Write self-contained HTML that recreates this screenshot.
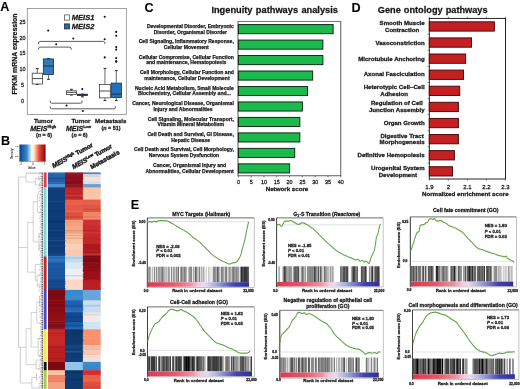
<!DOCTYPE html>
<html><head><meta charset="utf-8"><style>
html,body{margin:0;padding:0;background:#fff;}
#w{position:relative;width:520px;height:389px;overflow:hidden;background:#fff;font-family:'Liberation Sans', Arial, sans-serif;}
svg{position:absolute;left:0;top:0;}
svg text{font-family:'Liberation Sans', Arial, sans-serif;stroke:#222;stroke-width:0.26px;stroke-linejoin:round;}
.lc{-webkit-text-stroke:0.25px #222;position:absolute;right:286.20px;font-size:5.07px;line-height:5.85px;font-weight:bold;text-align:center;color:#111;white-space:nowrap;}
.ld{-webkit-text-stroke:0.27px #222;position:absolute;right:95.40px;font-size:6.1px;line-height:6.9px;font-weight:bold;text-align:center;color:#111;white-space:nowrap;}
</style></head><body><div id="w">
<svg width="520" height="389" viewBox="0 0 520 389">
<text x="0.20" y="11.40" font-size="12.6" font-weight="bold" font-style="normal" text-anchor="start" fill="#000" style="stroke-width:0.1px">A</text>
<text x="0.90" y="144.80" font-size="12.6" font-weight="bold" font-style="normal" text-anchor="start" fill="#000" style="stroke-width:0.1px">B</text>
<text x="144.50" y="11.80" font-size="12.6" font-weight="bold" font-style="normal" text-anchor="start" fill="#000" style="stroke-width:0.1px">C</text>
<text x="351.50" y="11.80" font-size="12.6" font-weight="bold" font-style="normal" text-anchor="start" fill="#000" style="stroke-width:0.1px">D</text>
<text x="130.70" y="208.60" font-size="12.6" font-weight="bold" font-style="normal" text-anchor="start" fill="#000" style="stroke-width:0.1px">E</text>
<rect x="27.30" y="8.40" width="99.00" height="106.10" fill="none" stroke="#8a8a8a" stroke-width="0.8" />
<text transform="translate(16.5,54.0) rotate(-90)" font-size="6.95" font-weight="bold" text-anchor="middle" fill="#111">FPKM mRNA expression</text>
<text x="22.60" y="102.74" font-size="5.4" font-weight="normal" font-style="normal" text-anchor="middle" fill="#222" >0</text>
<text x="22.60" y="86.94" font-size="5.4" font-weight="normal" font-style="normal" text-anchor="middle" fill="#222" >5</text>
<text x="22.60" y="71.14" font-size="5.4" font-weight="normal" font-style="normal" text-anchor="middle" fill="#222" >10</text>
<text x="22.60" y="55.34" font-size="5.4" font-weight="normal" font-style="normal" text-anchor="middle" fill="#222" >15</text>
<text x="22.60" y="39.54" font-size="5.4" font-weight="normal" font-style="normal" text-anchor="middle" fill="#222" >20</text>
<text x="22.60" y="23.74" font-size="5.4" font-weight="normal" font-style="normal" text-anchor="middle" fill="#222" >25</text>
<rect x="64.40" y="14.90" width="5.20" height="5.20" fill="#fff" stroke="#444" stroke-width="0.7" />
<rect x="64.50" y="23.90" width="5.00" height="5.00" fill="#2a68ac" stroke="#1a2a40" stroke-width="0.8" />
<text x="71.80" y="20.10" font-size="7.5" font-weight="bold" font-style="italic" text-anchor="start" fill="#111" >MEIS1</text>
<text x="71.80" y="29.40" font-size="7.5" font-weight="bold" font-style="italic" text-anchor="start" fill="#111" >MEIS2</text>
<line x1="37.30" y1="68.60" x2="37.30" y2="73.20" stroke="#444" stroke-width="0.8" />
<line x1="37.30" y1="84.00" x2="37.30" y2="84.40" stroke="#444" stroke-width="0.8" />
<line x1="35.90" y1="68.60" x2="38.70" y2="68.60" stroke="#222" stroke-width="1.0" />
<line x1="35.90" y1="84.40" x2="38.70" y2="84.40" stroke="#222" stroke-width="1.0" />
<rect x="32.20" y="73.20" width="10.20" height="10.80" fill="#fff" stroke="#333" stroke-width="0.75" />
<line x1="32.20" y1="78.60" x2="42.40" y2="78.60" stroke="#222" stroke-width="0.8" />
<line x1="48.45" y1="58.60" x2="48.45" y2="58.90" stroke="#444" stroke-width="0.8" />
<line x1="48.45" y1="74.50" x2="48.45" y2="79.30" stroke="#444" stroke-width="0.8" />
<line x1="47.05" y1="58.60" x2="49.85" y2="58.60" stroke="#222" stroke-width="1.0" />
<line x1="47.05" y1="79.30" x2="49.85" y2="79.30" stroke="#222" stroke-width="1.0" />
<rect x="43.30" y="58.90" width="10.30" height="15.60" fill="#3478bd" stroke="#0e2846" stroke-width="0.75" />
<line x1="43.30" y1="66.00" x2="53.60" y2="66.00" stroke="#222" stroke-width="0.8" />
<line x1="71.45" y1="89.30" x2="71.45" y2="90.80" stroke="#444" stroke-width="0.8" />
<line x1="71.45" y1="94.50" x2="71.45" y2="95.00" stroke="#444" stroke-width="0.8" />
<line x1="70.05" y1="89.30" x2="72.85" y2="89.30" stroke="#222" stroke-width="1.0" />
<line x1="70.05" y1="95.00" x2="72.85" y2="95.00" stroke="#222" stroke-width="1.0" />
<rect x="66.30" y="90.80" width="10.30" height="3.70" fill="#fff" stroke="#333" stroke-width="0.75" />
<line x1="66.30" y1="92.40" x2="76.60" y2="92.40" stroke="#222" stroke-width="0.8" />
<line x1="82.40" y1="94.20" x2="82.40" y2="94.20" stroke="#444" stroke-width="0.8" />
<line x1="82.40" y1="95.50" x2="82.40" y2="96.80" stroke="#444" stroke-width="0.8" />
<line x1="81.00" y1="94.20" x2="83.80" y2="94.20" stroke="#222" stroke-width="1.0" />
<line x1="81.00" y1="96.80" x2="83.80" y2="96.80" stroke="#222" stroke-width="1.0" />
<rect x="77.30" y="94.20" width="10.20" height="1.30" fill="#2270bf" stroke="#0e2846" stroke-width="0.75" />
<line x1="77.30" y1="94.80" x2="87.50" y2="94.80" stroke="#222" stroke-width="0.8" />
<line x1="104.95" y1="68.40" x2="104.95" y2="84.40" stroke="#444" stroke-width="0.8" />
<line x1="104.95" y1="97.90" x2="104.95" y2="100.60" stroke="#444" stroke-width="0.8" />
<line x1="103.55" y1="68.40" x2="106.35" y2="68.40" stroke="#222" stroke-width="1.0" />
<line x1="103.55" y1="100.60" x2="106.35" y2="100.60" stroke="#222" stroke-width="1.0" />
<rect x="99.60" y="84.40" width="10.70" height="13.50" fill="#fff" stroke="#333" stroke-width="0.75" />
<line x1="99.60" y1="91.00" x2="110.30" y2="91.00" stroke="#222" stroke-width="0.8" />
<line x1="116.30" y1="70.60" x2="116.30" y2="83.10" stroke="#444" stroke-width="0.8" />
<line x1="116.30" y1="97.60" x2="116.30" y2="100.60" stroke="#444" stroke-width="0.8" />
<line x1="114.90" y1="70.60" x2="117.70" y2="70.60" stroke="#222" stroke-width="1.0" />
<line x1="114.90" y1="100.60" x2="117.70" y2="100.60" stroke="#222" stroke-width="1.0" />
<rect x="111.20" y="83.10" width="10.20" height="14.50" fill="#2270bf" stroke="#0e2846" stroke-width="0.75" />
<line x1="111.20" y1="94.10" x2="121.40" y2="94.10" stroke="#222" stroke-width="0.8" />
<circle cx="104.70" cy="16.80" r="1.05" fill="#111"/>
<circle cx="104.70" cy="39.30" r="1.05" fill="#111"/>
<circle cx="104.70" cy="57.40" r="1.05" fill="#111"/>
<circle cx="116.20" cy="31.90" r="1.05" fill="#111"/>
<circle cx="116.20" cy="35.70" r="1.05" fill="#111"/>
<circle cx="116.20" cy="47.10" r="1.05" fill="#111"/>
<circle cx="116.20" cy="49.60" r="1.05" fill="#111"/>
<circle cx="116.20" cy="58.10" r="1.05" fill="#111"/>
<circle cx="116.20" cy="61.60" r="1.05" fill="#111"/>
<circle cx="116.20" cy="61.40" r="1.05" fill="#111"/>
<circle cx="48.20" cy="30.50" r="1.05" fill="#111"/>
<circle cx="82.30" cy="89.10" r="1.05" fill="#111"/>
<path d="M38.40,44.00 Q38.40,41.40 39.90,41.40 L103.50,41.40 Q105.00,41.40 105.00,44.00" fill="none" stroke="#333" stroke-width="0.8"/>
<path d="M38.40,49.70 Q38.40,47.10 39.90,47.10 L69.80,47.10 Q71.30,47.10 71.30,49.70" fill="none" stroke="#333" stroke-width="0.8"/>
<circle cx="73.30" cy="38.60" r="1.0" fill="#111"/>
<circle cx="56.20" cy="44.20" r="1.0" fill="#111"/>
<path d="M50.00,100.60 Q50.00,103.20 51.50,103.20 L80.70,103.20 Q82.20,103.20 82.20,100.60" fill="none" stroke="#333" stroke-width="0.8"/>
<path d="M50.00,106.40 Q50.00,108.80 51.50,108.80 L114.00,108.80 Q115.50,108.80 115.50,106.40" fill="none" stroke="#333" stroke-width="0.8"/>
<circle cx="66.60" cy="105.40" r="1.0" fill="#111"/>
<circle cx="82.80" cy="111.00" r="1.0" fill="#111"/>
<text x="43.40" y="122.55" font-size="6.25" font-weight="bold" font-style="normal" text-anchor="middle" fill="#111" >Tumor</text>
<text x="81.00" y="122.55" font-size="6.25" font-weight="bold" font-style="normal" text-anchor="middle" fill="#111" >Tumor</text>
<text x="110.80" y="122.51" font-size="6.15" font-weight="bold" font-style="normal" text-anchor="middle" fill="#111" >Metastasis</text>
<text x="43.3" y="130.50" font-size="7.0" font-weight="bold" font-style="italic" text-anchor="middle" fill="#111">MEIS<tspan font-size="4.0" font-style="normal" dy="-2.3">High</tspan></text>
<text x="78.6" y="130.50" font-size="7.0" font-weight="bold" font-style="italic" text-anchor="middle" fill="#111">MEIS<tspan font-size="4.0" font-style="normal" dy="-2.3">Low</tspan></text>
<text x="111.0" y="130.20" font-size="5.4" font-weight="bold" text-anchor="middle" fill="#111">(<tspan font-style="italic">n</tspan> = 51)</text>
<text x="44.0" y="136.70" font-size="5.4" font-weight="bold" text-anchor="middle" fill="#111">(<tspan font-style="italic">n</tspan> = 6)</text>
<text x="79.6" y="136.70" font-size="5.4" font-weight="bold" text-anchor="middle" fill="#111">(<tspan font-style="italic">n</tspan> = 6)</text>
<defs>
<linearGradient id="ck" x1="0" x2="1" y1="0" y2="0">
<stop offset="0" stop-color="#0a3a7c"/><stop offset="0.1" stop-color="#1a5eaa"/>
<stop offset="0.28" stop-color="#3a86c8"/><stop offset="0.38" stop-color="#9ccbe9"/>
<stop offset="0.46" stop-color="#eef4f6"/><stop offset="0.52" stop-color="#fbf2e2"/>
<stop offset="0.56" stop-color="#fde0c0"/><stop offset="0.63" stop-color="#f8a888"/>
<stop offset="0.74" stop-color="#e4503e"/><stop offset="0.86" stop-color="#c42626"/>
<stop offset="1" stop-color="#780a14"/></linearGradient>
<linearGradient id="rb" x1="0" x2="1" y1="0" y2="0">
<stop offset="0" stop-color="#da3a4e"/><stop offset="0.25" stop-color="#e05a6e"/>
<stop offset="0.42" stop-color="#ec90a4"/><stop offset="0.50" stop-color="#f4c8d6"/>
<stop offset="0.56" stop-color="#e6dcee"/><stop offset="0.66" stop-color="#b0b0dc"/>
<stop offset="0.76" stop-color="#7878c4"/><stop offset="0.85" stop-color="#4444a8"/>
<stop offset="1" stop-color="#2e2e98"/></linearGradient>
</defs>
<rect x="19.60" y="144.50" width="26.00" height="17.00" fill="url(#ck)" stroke="none" stroke-width="0" />
<line x1="19.60" y1="144.50" x2="19.60" y2="161.50" stroke="#555" stroke-width="0.4" />
<line x1="19.60" y1="161.50" x2="45.60" y2="161.50" stroke="#555" stroke-width="0.4" />

<text transform="translate(12.9,153.9) rotate(-90)" font-size="3.2" font-weight="normal" text-anchor="middle" fill="#555" style="stroke-width:0.1px">Density</text>
<text x="31.60" y="168.95" font-size="3.2" font-weight="normal" font-style="normal" text-anchor="middle" fill="#555" style="stroke-width:0.1px">Value</text>
<text x="20.80" y="164.94" font-size="2.6" font-weight="normal" font-style="normal" text-anchor="middle" fill="#666" style="stroke-width:0.05px">-1</text>
<text x="32.90" y="164.94" font-size="2.6" font-weight="normal" font-style="normal" text-anchor="middle" fill="#666" style="stroke-width:0.05px">0</text>
<text x="44.40" y="164.94" font-size="2.6" font-weight="normal" font-style="normal" text-anchor="middle" fill="#666" style="stroke-width:0.05px">1</text>
<text x="16.60" y="147.36" font-size="2.4" font-weight="normal" font-style="normal" text-anchor="middle" fill="#777" style="stroke-width:0.05px">1.0</text>
<text x="16.60" y="156.66" font-size="2.4" font-weight="normal" font-style="normal" text-anchor="middle" fill="#777" style="stroke-width:0.05px">0.0</text>
<text transform="translate(53.60,168.30) rotate(-29)" font-size="6.2" font-weight="bold" fill="#111" style="stroke-width:0.45px"><tspan font-style="italic" font-size="6.7">MEIS</tspan><tspan font-size="3.9" dy="-2.4">High</tspan><tspan dy="2.4"> Tumor</tspan></text>
<text transform="translate(73.60,169.30) rotate(-29)" font-size="6.2" font-weight="bold" fill="#111" style="stroke-width:0.45px"><tspan font-style="italic" font-size="6.7">MEIS</tspan><tspan font-size="3.9" dy="-2.4">Low</tspan><tspan dy="2.4"> Tumor</tspan></text>
<text transform="translate(91.80,169.20) rotate(-29)" font-size="6.3" font-weight="bold" fill="#111" style="stroke-width:0.45px">Metastasis</text>
<rect x="48.00" y="172.40" width="17.40" height="2.40" fill="#2c6db8" stroke="none" stroke-width="0" />
<rect x="65.00" y="172.40" width="18.30" height="2.40" fill="#8e1420" stroke="none" stroke-width="0" />
<rect x="82.90" y="172.40" width="17.80" height="2.40" fill="#4a7fc0" stroke="none" stroke-width="0" />
<rect x="48.00" y="174.20" width="17.40" height="10.50" fill="#1f5fa8" stroke="none" stroke-width="0" />
<rect x="65.00" y="174.20" width="18.30" height="10.50" fill="#8b0f1c" stroke="none" stroke-width="0" />
<rect x="82.90" y="174.20" width="17.80" height="10.50" fill="#ece4e6" stroke="none" stroke-width="0" />
<rect x="48.00" y="175.40" width="17.40" height="1.22" fill="#2764ab" stroke="none" stroke-width="0" />
<rect x="65.00" y="175.40" width="18.30" height="1.22" fill="#8b111d" stroke="none" stroke-width="0" />
<rect x="82.90" y="175.40" width="17.40" height="1.22" fill="#d2cbcd" stroke="none" stroke-width="0" />
<rect x="48.00" y="177.83" width="17.40" height="0.94" fill="#1b5596" stroke="none" stroke-width="0" />
<rect x="65.00" y="177.83" width="18.30" height="0.94" fill="#880e1b" stroke="none" stroke-width="0" />
<rect x="48.00" y="181.72" width="17.40" height="1.88" fill="#326caf" stroke="none" stroke-width="0" />
<rect x="65.00" y="181.72" width="18.30" height="1.88" fill="#7f0d19" stroke="none" stroke-width="0" />
<rect x="82.90" y="181.72" width="17.40" height="1.88" fill="#e1d9db" stroke="none" stroke-width="0" />
<rect x="48.00" y="184.10" width="17.40" height="3.90" fill="#4d8fd0" stroke="none" stroke-width="0" />
<rect x="65.00" y="184.10" width="18.30" height="3.90" fill="#8e1420" stroke="none" stroke-width="0" />
<rect x="82.90" y="184.10" width="17.80" height="3.90" fill="#6a9fd0" stroke="none" stroke-width="0" />
<rect x="82.90" y="185.30" width="17.40" height="1.08" fill="#6ba0d0" stroke="none" stroke-width="0" />
<rect x="48.00" y="187.40" width="17.40" height="6.70" fill="#0f3d7a" stroke="none" stroke-width="0" />
<rect x="65.00" y="187.40" width="18.30" height="6.70" fill="#c0282a" stroke="none" stroke-width="0" />
<rect x="82.90" y="187.40" width="17.80" height="6.70" fill="#fbc4a6" stroke="none" stroke-width="0" />
<rect x="48.00" y="188.60" width="17.40" height="0.96" fill="#19457f" stroke="none" stroke-width="0" />
<rect x="65.00" y="188.60" width="18.30" height="0.96" fill="#b72628" stroke="none" stroke-width="0" />
<rect x="82.90" y="190.70" width="17.40" height="1.20" fill="#fbc5a7" stroke="none" stroke-width="0" />
<rect x="48.00" y="193.50" width="17.40" height="6.70" fill="#0f3d7a" stroke="none" stroke-width="0" />
<rect x="65.00" y="193.50" width="18.30" height="6.70" fill="#b82326" stroke="none" stroke-width="0" />
<rect x="82.90" y="193.50" width="17.80" height="6.70" fill="#fcc8aa" stroke="none" stroke-width="0" />
<rect x="65.00" y="194.70" width="18.30" height="1.78" fill="#c03c3f" stroke="none" stroke-width="0" />
<rect x="82.90" y="194.70" width="17.40" height="1.78" fill="#f7c4a6" stroke="none" stroke-width="0" />
<rect x="65.00" y="197.98" width="18.30" height="1.05" fill="#ba2b2e" stroke="none" stroke-width="0" />
<rect x="48.00" y="199.60" width="17.40" height="6.00" fill="#0e3c78" stroke="none" stroke-width="0" />
<rect x="65.00" y="199.60" width="18.30" height="6.00" fill="#e8604a" stroke="none" stroke-width="0" />
<rect x="82.90" y="199.60" width="17.80" height="6.00" fill="#e4604a" stroke="none" stroke-width="0" />
<rect x="48.00" y="200.80" width="17.40" height="1.78" fill="#19457e" stroke="none" stroke-width="0" />
<rect x="48.00" y="205.00" width="17.40" height="7.60" fill="#0e3c78" stroke="none" stroke-width="0" />
<rect x="65.00" y="205.00" width="18.30" height="7.60" fill="#e35a46" stroke="none" stroke-width="0" />
<rect x="82.90" y="205.00" width="17.80" height="7.60" fill="#de5844" stroke="none" stroke-width="0" />
<rect x="65.00" y="208.74" width="18.30" height="1.29" fill="#e05945" stroke="none" stroke-width="0" />
<rect x="82.90" y="208.74" width="17.40" height="1.29" fill="#c94f3d" stroke="none" stroke-width="0" />
<rect x="48.00" y="210.70" width="17.40" height="1.30" fill="#0d3870" stroke="none" stroke-width="0" />
<rect x="65.00" y="210.70" width="18.30" height="1.30" fill="#e56856" stroke="none" stroke-width="0" />
<rect x="82.90" y="210.70" width="17.40" height="1.30" fill="#db5643" stroke="none" stroke-width="0" />
<rect x="48.00" y="212.00" width="17.40" height="8.30" fill="#0e3c78" stroke="none" stroke-width="0" />
<rect x="65.00" y="212.00" width="18.30" height="8.30" fill="#e0503c" stroke="none" stroke-width="0" />
<rect x="82.90" y="212.00" width="17.80" height="8.30" fill="#f08a6a" stroke="none" stroke-width="0" />
<rect x="82.90" y="213.20" width="17.40" height="1.78" fill="#eb8767" stroke="none" stroke-width="0" />
<rect x="65.00" y="216.01" width="18.30" height="1.78" fill="#ce4937" stroke="none" stroke-width="0" />
<rect x="82.90" y="216.01" width="17.40" height="1.78" fill="#e08163" stroke="none" stroke-width="0" />
<rect x="48.00" y="219.70" width="17.40" height="6.90" fill="#0e3c78" stroke="none" stroke-width="0" />
<rect x="65.00" y="219.70" width="18.30" height="6.90" fill="#f6a080" stroke="none" stroke-width="0" />
<rect x="82.90" y="219.70" width="17.80" height="6.90" fill="#d03030" stroke="none" stroke-width="0" />
<rect x="48.00" y="220.90" width="17.40" height="1.49" fill="#0c3469" stroke="none" stroke-width="0" />
<rect x="65.00" y="220.90" width="18.30" height="1.49" fill="#ee9a7b" stroke="none" stroke-width="0" />
<rect x="48.00" y="226.00" width="17.40" height="8.40" fill="#0e3c78" stroke="none" stroke-width="0" />
<rect x="65.00" y="226.00" width="18.30" height="8.40" fill="#f8a888" stroke="none" stroke-width="0" />
<rect x="82.90" y="226.00" width="17.80" height="8.40" fill="#cc2c2e" stroke="none" stroke-width="0" />
<rect x="48.00" y="230.07" width="17.40" height="1.30" fill="#15427c" stroke="none" stroke-width="0" />
<rect x="65.00" y="230.07" width="18.30" height="1.30" fill="#de9679" stroke="none" stroke-width="0" />
<rect x="82.90" y="230.07" width="17.40" height="1.30" fill="#bb282a" stroke="none" stroke-width="0" />
<rect x="48.00" y="232.38" width="17.40" height="0.95" fill="#0c366d" stroke="none" stroke-width="0" />
<rect x="65.00" y="232.38" width="18.30" height="0.95" fill="#efa283" stroke="none" stroke-width="0" />
<rect x="82.90" y="232.38" width="17.40" height="0.95" fill="#d03e40" stroke="none" stroke-width="0" />
<rect x="48.00" y="233.80" width="17.40" height="5.80" fill="#0e3c78" stroke="none" stroke-width="0" />
<rect x="65.00" y="233.80" width="18.30" height="5.80" fill="#fcbc9c" stroke="none" stroke-width="0" />
<rect x="82.90" y="233.80" width="17.80" height="5.80" fill="#c82828" stroke="none" stroke-width="0" />
<rect x="48.00" y="235.00" width="17.40" height="1.05" fill="#0d3973" stroke="none" stroke-width="0" />
<rect x="65.00" y="235.00" width="18.30" height="1.05" fill="#e5aa8d" stroke="none" stroke-width="0" />
<rect x="65.00" y="237.84" width="18.30" height="1.16" fill="#e3aa8d" stroke="none" stroke-width="0" />
<rect x="82.90" y="237.84" width="17.40" height="1.16" fill="#bc2525" stroke="none" stroke-width="0" />
<rect x="48.00" y="239.00" width="17.40" height="5.60" fill="#0e3c78" stroke="none" stroke-width="0" />
<rect x="65.00" y="239.00" width="18.30" height="5.60" fill="#fcc4a6" stroke="none" stroke-width="0" />
<rect x="82.90" y="239.00" width="17.80" height="5.60" fill="#c42628" stroke="none" stroke-width="0" />
<rect x="48.00" y="240.20" width="17.40" height="1.06" fill="#285186" stroke="none" stroke-width="0" />
<rect x="82.90" y="240.20" width="17.40" height="1.06" fill="#c4282a" stroke="none" stroke-width="0" />
<rect x="48.00" y="244.00" width="17.40" height="6.60" fill="#0e3c78" stroke="none" stroke-width="0" />
<rect x="65.00" y="244.00" width="18.30" height="6.60" fill="#fcd0b8" stroke="none" stroke-width="0" />
<rect x="82.90" y="244.00" width="17.80" height="6.60" fill="#b01820" stroke="none" stroke-width="0" />
<rect x="48.00" y="245.20" width="17.40" height="1.27" fill="#1d4880" stroke="none" stroke-width="0" />
<rect x="48.00" y="250.00" width="17.40" height="6.40" fill="#103e7c" stroke="none" stroke-width="0" />
<rect x="65.00" y="250.00" width="18.30" height="6.40" fill="#fcc8b0" stroke="none" stroke-width="0" />
<rect x="82.90" y="250.00" width="17.80" height="6.40" fill="#b82025" stroke="none" stroke-width="0" />
<rect x="65.00" y="251.20" width="18.30" height="1.72" fill="#fcc8b0" stroke="none" stroke-width="0" />
<rect x="82.90" y="251.20" width="17.40" height="1.72" fill="#a31c20" stroke="none" stroke-width="0" />
<rect x="48.00" y="253.55" width="17.40" height="1.18" fill="#1b4682" stroke="none" stroke-width="0" />
<rect x="82.90" y="253.55" width="17.40" height="1.18" fill="#bf373b" stroke="none" stroke-width="0" />
<rect x="48.00" y="255.80" width="17.40" height="7.00" fill="#2a72c0" stroke="none" stroke-width="0" />
<rect x="65.00" y="255.80" width="18.30" height="7.00" fill="#c0dcf0" stroke="none" stroke-width="0" />
<rect x="82.90" y="255.80" width="17.80" height="7.00" fill="#7c0a12" stroke="none" stroke-width="0" />
<rect x="48.00" y="257.00" width="17.40" height="1.86" fill="#276ab3" stroke="none" stroke-width="0" />
<rect x="65.00" y="257.00" width="18.30" height="1.86" fill="#b2cbde" stroke="none" stroke-width="0" />
<rect x="82.90" y="257.00" width="17.40" height="1.86" fill="#7f1119" stroke="none" stroke-width="0" />
<rect x="48.00" y="262.20" width="17.40" height="7.00" fill="#1a5aa8" stroke="none" stroke-width="0" />
<rect x="65.00" y="262.20" width="18.30" height="7.00" fill="#d8e8f4" stroke="none" stroke-width="0" />
<rect x="82.90" y="262.20" width="17.80" height="7.00" fill="#8a0c15" stroke="none" stroke-width="0" />
<rect x="65.00" y="266.13" width="18.30" height="1.08" fill="#dae9f4" stroke="none" stroke-width="0" />
<rect x="48.00" y="268.60" width="17.40" height="11.60" fill="#1a56a0" stroke="none" stroke-width="0" />
<rect x="65.00" y="268.60" width="18.30" height="11.60" fill="#eeeef4" stroke="none" stroke-width="0" />
<rect x="82.90" y="268.60" width="17.80" height="11.60" fill="#9a1018" stroke="none" stroke-width="0" />
<rect x="82.90" y="269.80" width="17.40" height="1.30" fill="#8c0e15" stroke="none" stroke-width="0" />
<rect x="65.00" y="271.88" width="18.30" height="1.80" fill="#efeff4" stroke="none" stroke-width="0" />
<rect x="65.00" y="275.08" width="18.30" height="1.25" fill="#d2d2d7" stroke="none" stroke-width="0" />
<rect x="65.00" y="277.71" width="18.30" height="1.43" fill="#efeff4" stroke="none" stroke-width="0" />
<rect x="48.00" y="279.60" width="17.40" height="10.90" fill="#164a90" stroke="none" stroke-width="0" />
<rect x="65.00" y="279.60" width="18.30" height="10.90" fill="#fcd8c8" stroke="none" stroke-width="0" />
<rect x="82.90" y="279.60" width="17.80" height="10.90" fill="#b82025" stroke="none" stroke-width="0" />
<rect x="48.00" y="280.80" width="17.40" height="1.15" fill="#144587" stroke="none" stroke-width="0" />
<rect x="82.90" y="280.80" width="17.40" height="1.15" fill="#b41f24" stroke="none" stroke-width="0" />
<rect x="48.00" y="282.71" width="17.40" height="1.81" fill="#15498e" stroke="none" stroke-width="0" />
<rect x="48.00" y="288.06" width="17.40" height="1.34" fill="#13417e" stroke="none" stroke-width="0" />
<rect x="82.90" y="288.06" width="17.40" height="1.34" fill="#b61f24" stroke="none" stroke-width="0" />
<rect x="48.00" y="289.90" width="17.40" height="11.00" fill="#7e0a12" stroke="none" stroke-width="0" />
<rect x="65.00" y="289.90" width="18.30" height="11.00" fill="#3a8ad0" stroke="none" stroke-width="0" />
<rect x="82.90" y="289.90" width="17.80" height="11.00" fill="#6aa4d8" stroke="none" stroke-width="0" />
<rect x="48.00" y="291.10" width="17.40" height="1.46" fill="#7e0b13" stroke="none" stroke-width="0" />
<rect x="48.00" y="293.28" width="17.40" height="1.46" fill="#770911" stroke="none" stroke-width="0" />
<rect x="65.00" y="296.02" width="18.30" height="1.66" fill="#3f8dd1" stroke="none" stroke-width="0" />
<rect x="48.00" y="300.30" width="17.40" height="12.80" fill="#880c14" stroke="none" stroke-width="0" />
<rect x="65.00" y="300.30" width="18.30" height="12.80" fill="#2060b0" stroke="none" stroke-width="0" />
<rect x="82.90" y="300.30" width="17.80" height="12.80" fill="#c8ddf0" stroke="none" stroke-width="0" />
<rect x="82.90" y="301.50" width="17.40" height="1.60" fill="#c8ddf0" stroke="none" stroke-width="0" />
<rect x="48.00" y="304.83" width="17.40" height="1.74" fill="#7b0a12" stroke="none" stroke-width="0" />
<rect x="65.00" y="304.83" width="18.30" height="1.74" fill="#1c569d" stroke="none" stroke-width="0" />
<rect x="82.90" y="304.83" width="17.40" height="1.74" fill="#b3c6d7" stroke="none" stroke-width="0" />
<rect x="65.00" y="307.97" width="18.30" height="1.68" fill="#2b68b4" stroke="none" stroke-width="0" />
<rect x="65.00" y="310.43" width="18.30" height="1.78" fill="#3871b8" stroke="none" stroke-width="0" />
<rect x="82.90" y="310.43" width="17.40" height="1.78" fill="#c7dcef" stroke="none" stroke-width="0" />
<rect x="48.00" y="312.50" width="17.40" height="10.10" fill="#900e16" stroke="none" stroke-width="0" />
<rect x="65.00" y="312.50" width="18.30" height="10.10" fill="#124890" stroke="none" stroke-width="0" />
<rect x="82.90" y="312.50" width="17.80" height="10.10" fill="#f0eae8" stroke="none" stroke-width="0" />
<rect x="48.00" y="313.70" width="17.40" height="1.73" fill="#8d0d15" stroke="none" stroke-width="0" />
<rect x="82.90" y="313.70" width="17.40" height="1.73" fill="#ded8d7" stroke="none" stroke-width="0" />
<rect x="48.00" y="316.41" width="17.40" height="1.62" fill="#911119" stroke="none" stroke-width="0" />
<rect x="65.00" y="316.41" width="18.30" height="1.62" fill="#0f3f7f" stroke="none" stroke-width="0" />
<rect x="82.90" y="316.41" width="17.40" height="1.62" fill="#f0eae8" stroke="none" stroke-width="0" />
<rect x="48.00" y="320.94" width="17.40" height="1.06" fill="#971e25" stroke="none" stroke-width="0" />
<rect x="65.00" y="320.94" width="18.30" height="1.06" fill="#104183" stroke="none" stroke-width="0" />
<rect x="82.90" y="320.94" width="17.40" height="1.06" fill="#f1ecea" stroke="none" stroke-width="0" />
<rect x="48.00" y="322.00" width="17.40" height="7.90" fill="#7e0a12" stroke="none" stroke-width="0" />
<rect x="65.00" y="322.00" width="18.30" height="7.90" fill="#1a58a8" stroke="none" stroke-width="0" />
<rect x="82.90" y="322.00" width="17.80" height="7.90" fill="#d0e4f4" stroke="none" stroke-width="0" />
<rect x="48.00" y="323.20" width="17.40" height="1.16" fill="#8a2229" stroke="none" stroke-width="0" />
<rect x="65.00" y="325.07" width="18.30" height="0.96" fill="#174e96" stroke="none" stroke-width="0" />
<rect x="48.00" y="327.38" width="17.40" height="1.70" fill="#891e26" stroke="none" stroke-width="0" />
<rect x="65.00" y="327.38" width="18.30" height="1.70" fill="#2d66af" stroke="none" stroke-width="0" />
<rect x="48.00" y="329.30" width="17.40" height="16.50" fill="#c82828" stroke="none" stroke-width="0" />
<rect x="65.00" y="329.30" width="18.30" height="16.50" fill="#0e3a70" stroke="none" stroke-width="0" />
<rect x="82.90" y="329.30" width="17.80" height="16.50" fill="#f8906e" stroke="none" stroke-width="0" />
<rect x="65.00" y="330.50" width="18.30" height="1.45" fill="#0c3466" stroke="none" stroke-width="0" />
<rect x="48.00" y="332.84" width="17.40" height="1.01" fill="#b22323" stroke="none" stroke-width="0" />
<rect x="65.00" y="332.84" width="18.30" height="1.01" fill="#0d376a" stroke="none" stroke-width="0" />
<rect x="82.90" y="332.84" width="17.40" height="1.01" fill="#f89677" stroke="none" stroke-width="0" />
<rect x="48.00" y="334.80" width="17.40" height="1.40" fill="#c02626" stroke="none" stroke-width="0" />
<rect x="65.00" y="334.80" width="18.30" height="1.40" fill="#0d3669" stroke="none" stroke-width="0" />
<rect x="82.90" y="334.80" width="17.40" height="1.40" fill="#f89676" stroke="none" stroke-width="0" />
<rect x="82.90" y="337.46" width="17.40" height="1.09" fill="#f89879" stroke="none" stroke-width="0" />
<rect x="65.00" y="339.67" width="18.30" height="1.40" fill="#0e3a70" stroke="none" stroke-width="0" />
<rect x="48.00" y="345.20" width="17.40" height="10.40" fill="#b82022" stroke="none" stroke-width="0" />
<rect x="65.00" y="345.20" width="18.30" height="10.40" fill="#103e78" stroke="none" stroke-width="0" />
<rect x="82.90" y="345.20" width="17.80" height="10.40" fill="#fcc8b0" stroke="none" stroke-width="0" />
<rect x="48.00" y="346.40" width="17.40" height="1.25" fill="#a71d1e" stroke="none" stroke-width="0" />
<rect x="65.00" y="346.40" width="18.30" height="1.25" fill="#1d497f" stroke="none" stroke-width="0" />
<rect x="82.90" y="346.40" width="17.40" height="1.25" fill="#e7b7a1" stroke="none" stroke-width="0" />
<rect x="82.90" y="348.35" width="17.40" height="1.74" fill="#ecbba5" stroke="none" stroke-width="0" />
<rect x="48.00" y="351.04" width="17.40" height="1.36" fill="#b51f21" stroke="none" stroke-width="0" />
<rect x="65.00" y="351.04" width="18.30" height="1.36" fill="#2a5386" stroke="none" stroke-width="0" />
<rect x="65.00" y="353.66" width="18.30" height="1.14" fill="#0f3b73" stroke="none" stroke-width="0" />
<rect x="82.90" y="353.66" width="17.40" height="1.14" fill="#f4c2aa" stroke="none" stroke-width="0" />
<rect x="48.00" y="355.00" width="17.40" height="7.60" fill="#b82022" stroke="none" stroke-width="0" />
<rect x="65.00" y="355.00" width="18.30" height="7.60" fill="#103e78" stroke="none" stroke-width="0" />
<rect x="82.90" y="355.00" width="17.80" height="7.60" fill="#f0e0e0" stroke="none" stroke-width="0" />
<rect x="48.00" y="356.20" width="17.40" height="1.40" fill="#b82022" stroke="none" stroke-width="0" />
<rect x="65.00" y="356.20" width="18.30" height="1.40" fill="#0f3a71" stroke="none" stroke-width="0" />
<rect x="82.90" y="356.20" width="17.40" height="1.40" fill="#eadada" stroke="none" stroke-width="0" />
<rect x="48.00" y="358.25" width="17.40" height="0.92" fill="#ac1d1f" stroke="none" stroke-width="0" />
<rect x="82.90" y="360.68" width="17.40" height="1.32" fill="#e5d6d6" stroke="none" stroke-width="0" />
<rect x="48.00" y="362.00" width="17.40" height="8.80" fill="#7a0a10" stroke="none" stroke-width="0" />
<rect x="65.00" y="362.00" width="18.30" height="8.80" fill="#90c4e8" stroke="none" stroke-width="0" />
<rect x="82.90" y="362.00" width="17.80" height="8.80" fill="#3a88cc" stroke="none" stroke-width="0" />
<rect x="82.90" y="363.20" width="17.40" height="1.05" fill="#4991d0" stroke="none" stroke-width="0" />
<rect x="82.90" y="365.92" width="17.40" height="1.53" fill="#3b88cc" stroke="none" stroke-width="0" />
<rect x="48.00" y="370.20" width="17.40" height="5.40" fill="#fcc0a0" stroke="none" stroke-width="0" />
<rect x="65.00" y="370.20" width="18.30" height="5.40" fill="#0e3a70" stroke="none" stroke-width="0" />
<rect x="82.90" y="370.20" width="17.80" height="5.40" fill="#d83030" stroke="none" stroke-width="0" />
<rect x="65.00" y="371.40" width="18.30" height="1.58" fill="#0c3363" stroke="none" stroke-width="0" />
<rect x="82.90" y="371.40" width="17.40" height="1.58" fill="#d02e2e" stroke="none" stroke-width="0" />
<rect x="48.00" y="375.00" width="17.40" height="7.60" fill="#f08060" stroke="none" stroke-width="0" />
<rect x="65.00" y="375.00" width="18.30" height="7.60" fill="#0e3a70" stroke="none" stroke-width="0" />
<rect x="82.90" y="375.00" width="17.80" height="7.60" fill="#e86048" stroke="none" stroke-width="0" />
<rect x="48.00" y="376.20" width="17.40" height="1.39" fill="#f1896b" stroke="none" stroke-width="0" />
<rect x="48.00" y="378.83" width="17.40" height="1.56" fill="#f08769" stroke="none" stroke-width="0" />
<rect x="65.00" y="378.83" width="18.30" height="1.56" fill="#0c3464" stroke="none" stroke-width="0" />
<rect x="82.90" y="378.83" width="17.40" height="1.56" fill="#e96852" stroke="none" stroke-width="0" />
<rect x="48.00" y="382.00" width="17.40" height="8.10" fill="#f4a080" stroke="none" stroke-width="0" />
<rect x="65.00" y="382.00" width="18.30" height="8.10" fill="#0e3a70" stroke="none" stroke-width="0" />
<rect x="82.90" y="382.00" width="17.80" height="8.10" fill="#e05040" stroke="none" stroke-width="0" />
<rect x="82.90" y="383.20" width="17.40" height="1.64" fill="#de4f3f" stroke="none" stroke-width="0" />
<rect x="82.90" y="386.26" width="17.40" height="1.67" fill="#cd493a" stroke="none" stroke-width="0" />
<rect x="43.70" y="172.40" width="2.90" height="15.10" fill="#e83a4a" stroke="none" stroke-width="0" />
<rect x="43.70" y="187.00" width="2.90" height="70.00" fill="#7fd8d8" stroke="none" stroke-width="0" />
<rect x="43.70" y="256.50" width="2.90" height="34.00" fill="#c0282c" stroke="none" stroke-width="0" />
<rect x="43.70" y="290.00" width="2.90" height="39.80" fill="#4c48cc" stroke="none" stroke-width="0" />
<rect x="43.70" y="329.30" width="2.90" height="33.20" fill="#f4e84a" stroke="none" stroke-width="0" />
<rect x="43.70" y="362.00" width="2.90" height="8.70" fill="#111111" stroke="none" stroke-width="0" />
<rect x="43.70" y="370.20" width="2.90" height="19.80" fill="#a8cc48" stroke="none" stroke-width="0" />
<rect x="41.40" y="172.40" width="2.00" height="217.00" fill="#e4e4e4" stroke="none" stroke-width="0" />
<line x1="42.3" y1="172.4" x2="42.3" y2="389" stroke="#5a5a5a" stroke-width="1.3" stroke-dasharray="1.1 0.7"/>
<line x1="40.60" y1="173.00" x2="43.40" y2="174.00" stroke="#777" stroke-width="0.4" />
<line x1="40.60" y1="176.60" x2="43.40" y2="177.60" stroke="#777" stroke-width="0.4" />
<line x1="40.60" y1="180.20" x2="43.40" y2="181.20" stroke="#777" stroke-width="0.4" />
<line x1="40.60" y1="183.80" x2="43.40" y2="184.80" stroke="#777" stroke-width="0.4" />
<line x1="40.60" y1="187.40" x2="43.40" y2="188.40" stroke="#777" stroke-width="0.4" />
<line x1="40.60" y1="191.00" x2="43.40" y2="192.00" stroke="#777" stroke-width="0.4" />
<line x1="40.60" y1="194.60" x2="43.40" y2="195.60" stroke="#777" stroke-width="0.4" />
<line x1="40.60" y1="198.20" x2="43.40" y2="199.20" stroke="#777" stroke-width="0.4" />
<line x1="40.60" y1="201.80" x2="43.40" y2="202.80" stroke="#777" stroke-width="0.4" />
<line x1="40.60" y1="205.40" x2="43.40" y2="206.40" stroke="#777" stroke-width="0.4" />
<line x1="40.60" y1="209.00" x2="43.40" y2="210.00" stroke="#777" stroke-width="0.4" />
<line x1="40.60" y1="212.60" x2="43.40" y2="213.60" stroke="#777" stroke-width="0.4" />
<line x1="40.60" y1="216.20" x2="43.40" y2="217.20" stroke="#777" stroke-width="0.4" />
<line x1="40.60" y1="219.80" x2="43.40" y2="220.80" stroke="#777" stroke-width="0.4" />
<line x1="40.60" y1="223.40" x2="43.40" y2="224.40" stroke="#777" stroke-width="0.4" />
<line x1="40.60" y1="227.00" x2="43.40" y2="228.00" stroke="#777" stroke-width="0.4" />
<line x1="40.60" y1="230.60" x2="43.40" y2="231.60" stroke="#777" stroke-width="0.4" />
<line x1="40.60" y1="234.20" x2="43.40" y2="235.20" stroke="#777" stroke-width="0.4" />
<line x1="40.60" y1="237.80" x2="43.40" y2="238.80" stroke="#777" stroke-width="0.4" />
<line x1="40.60" y1="241.40" x2="43.40" y2="242.40" stroke="#777" stroke-width="0.4" />
<line x1="40.60" y1="245.00" x2="43.40" y2="246.00" stroke="#777" stroke-width="0.4" />
<line x1="40.60" y1="248.60" x2="43.40" y2="249.60" stroke="#777" stroke-width="0.4" />
<line x1="40.60" y1="252.20" x2="43.40" y2="253.20" stroke="#777" stroke-width="0.4" />
<line x1="40.60" y1="255.80" x2="43.40" y2="256.80" stroke="#777" stroke-width="0.4" />
<line x1="40.60" y1="259.40" x2="43.40" y2="260.40" stroke="#777" stroke-width="0.4" />
<line x1="40.60" y1="263.00" x2="43.40" y2="264.00" stroke="#777" stroke-width="0.4" />
<line x1="40.60" y1="266.60" x2="43.40" y2="267.60" stroke="#777" stroke-width="0.4" />
<line x1="40.60" y1="270.20" x2="43.40" y2="271.20" stroke="#777" stroke-width="0.4" />
<line x1="40.60" y1="273.80" x2="43.40" y2="274.80" stroke="#777" stroke-width="0.4" />
<line x1="40.60" y1="277.40" x2="43.40" y2="278.40" stroke="#777" stroke-width="0.4" />
<line x1="40.60" y1="281.00" x2="43.40" y2="282.00" stroke="#777" stroke-width="0.4" />
<line x1="40.60" y1="284.60" x2="43.40" y2="285.60" stroke="#777" stroke-width="0.4" />
<line x1="40.60" y1="288.20" x2="43.40" y2="289.20" stroke="#777" stroke-width="0.4" />
<line x1="40.60" y1="291.80" x2="43.40" y2="292.80" stroke="#777" stroke-width="0.4" />
<line x1="40.60" y1="295.40" x2="43.40" y2="296.40" stroke="#777" stroke-width="0.4" />
<line x1="40.60" y1="299.00" x2="43.40" y2="300.00" stroke="#777" stroke-width="0.4" />
<line x1="40.60" y1="302.60" x2="43.40" y2="303.60" stroke="#777" stroke-width="0.4" />
<line x1="40.60" y1="306.20" x2="43.40" y2="307.20" stroke="#777" stroke-width="0.4" />
<line x1="40.60" y1="309.80" x2="43.40" y2="310.80" stroke="#777" stroke-width="0.4" />
<line x1="40.60" y1="313.40" x2="43.40" y2="314.40" stroke="#777" stroke-width="0.4" />
<line x1="40.60" y1="317.00" x2="43.40" y2="318.00" stroke="#777" stroke-width="0.4" />
<line x1="40.60" y1="320.60" x2="43.40" y2="321.60" stroke="#777" stroke-width="0.4" />
<line x1="40.60" y1="324.20" x2="43.40" y2="325.20" stroke="#777" stroke-width="0.4" />
<line x1="40.60" y1="327.80" x2="43.40" y2="328.80" stroke="#777" stroke-width="0.4" />
<line x1="40.60" y1="331.40" x2="43.40" y2="332.40" stroke="#777" stroke-width="0.4" />
<line x1="40.60" y1="335.00" x2="43.40" y2="336.00" stroke="#777" stroke-width="0.4" />
<line x1="40.60" y1="338.60" x2="43.40" y2="339.60" stroke="#777" stroke-width="0.4" />
<line x1="40.60" y1="342.20" x2="43.40" y2="343.20" stroke="#777" stroke-width="0.4" />
<line x1="40.60" y1="345.80" x2="43.40" y2="346.80" stroke="#777" stroke-width="0.4" />
<line x1="40.60" y1="349.40" x2="43.40" y2="350.40" stroke="#777" stroke-width="0.4" />
<line x1="40.60" y1="353.00" x2="43.40" y2="354.00" stroke="#777" stroke-width="0.4" />
<line x1="40.60" y1="356.60" x2="43.40" y2="357.60" stroke="#777" stroke-width="0.4" />
<line x1="40.60" y1="360.20" x2="43.40" y2="361.20" stroke="#777" stroke-width="0.4" />
<line x1="40.60" y1="363.80" x2="43.40" y2="364.80" stroke="#777" stroke-width="0.4" />
<line x1="40.60" y1="367.40" x2="43.40" y2="368.40" stroke="#777" stroke-width="0.4" />
<line x1="40.60" y1="371.00" x2="43.40" y2="372.00" stroke="#777" stroke-width="0.4" />
<line x1="40.60" y1="374.60" x2="43.40" y2="375.60" stroke="#777" stroke-width="0.4" />
<line x1="40.60" y1="378.20" x2="43.40" y2="379.20" stroke="#777" stroke-width="0.4" />
<line x1="40.60" y1="381.80" x2="43.40" y2="382.80" stroke="#777" stroke-width="0.4" />
<line x1="40.60" y1="385.40" x2="43.40" y2="386.40" stroke="#777" stroke-width="0.4" />
<line x1="18.60" y1="177.10" x2="18.60" y2="347.30" stroke="#a4a4a4" stroke-width="0.6" />
<line x1="20.30" y1="347.30" x2="20.30" y2="383.00" stroke="#a4a4a4" stroke-width="0.6" />
<line x1="18.60" y1="177.10" x2="26.10" y2="177.10" stroke="#a4a4a4" stroke-width="0.5" />
<line x1="26.10" y1="173.10" x2="26.10" y2="182.00" stroke="#a4a4a4" stroke-width="0.5" />
<line x1="26.10" y1="173.10" x2="41.20" y2="173.10" stroke="#777" stroke-width="0.5" />
<line x1="26.10" y1="182.00" x2="35.30" y2="182.00" stroke="#a4a4a4" stroke-width="0.5" />
<line x1="35.30" y1="178.50" x2="35.30" y2="185.00" stroke="#a4a4a4" stroke-width="0.5" />
<line x1="35.30" y1="178.50" x2="41.20" y2="178.50" stroke="#a4a4a4" stroke-width="0.5" />
<line x1="35.30" y1="185.00" x2="41.20" y2="185.00" stroke="#a4a4a4" stroke-width="0.5" />
<line x1="38.50" y1="175.50" x2="38.50" y2="180.50" stroke="#a4a4a4" stroke-width="0.5" />
<line x1="39.50" y1="183.00" x2="39.50" y2="186.50" stroke="#a4a4a4" stroke-width="0.5" />
<line x1="18.60" y1="247.50" x2="27.60" y2="247.50" stroke="#a4a4a4" stroke-width="0.5" />
<line x1="27.60" y1="222.30" x2="27.60" y2="272.20" stroke="#a4a4a4" stroke-width="0.5" />
<line x1="27.60" y1="222.30" x2="33.20" y2="222.30" stroke="#a4a4a4" stroke-width="0.5" />
<line x1="33.20" y1="201.80" x2="33.20" y2="241.80" stroke="#a4a4a4" stroke-width="0.5" />
<line x1="33.20" y1="201.80" x2="37.50" y2="201.80" stroke="#a4a4a4" stroke-width="0.5" />
<line x1="37.50" y1="194.00" x2="37.50" y2="212.40" stroke="#a4a4a4" stroke-width="0.5" />
<line x1="37.50" y1="194.00" x2="41.20" y2="194.00" stroke="#a4a4a4" stroke-width="0.5" />
<line x1="37.50" y1="212.40" x2="41.20" y2="212.40" stroke="#a4a4a4" stroke-width="0.5" />
<line x1="33.20" y1="241.80" x2="38.90" y2="241.80" stroke="#a4a4a4" stroke-width="0.5" />
<line x1="38.90" y1="233.30" x2="38.90" y2="250.30" stroke="#a4a4a4" stroke-width="0.5" />
<line x1="38.90" y1="233.30" x2="41.20" y2="233.30" stroke="#a4a4a4" stroke-width="0.5" />
<line x1="38.90" y1="250.30" x2="41.20" y2="250.30" stroke="#a4a4a4" stroke-width="0.5" />
<line x1="27.60" y1="272.20" x2="35.30" y2="272.20" stroke="#a4a4a4" stroke-width="0.5" />
<line x1="35.30" y1="264.40" x2="35.30" y2="280.40" stroke="#a4a4a4" stroke-width="0.5" />
<line x1="35.30" y1="264.40" x2="41.20" y2="264.40" stroke="#a4a4a4" stroke-width="0.5" />
<line x1="35.30" y1="280.40" x2="37.20" y2="280.40" stroke="#a4a4a4" stroke-width="0.5" />
<line x1="37.20" y1="275.00" x2="37.20" y2="286.00" stroke="#a4a4a4" stroke-width="0.5" />
<line x1="37.20" y1="275.00" x2="41.20" y2="275.00" stroke="#a4a4a4" stroke-width="0.5" />
<line x1="37.20" y1="286.00" x2="41.20" y2="286.00" stroke="#a4a4a4" stroke-width="0.5" />
<line x1="18.60" y1="347.30" x2="26.10" y2="347.30" stroke="#a4a4a4" stroke-width="0.5" />
<line x1="26.10" y1="328.70" x2="26.10" y2="364.70" stroke="#a4a4a4" stroke-width="0.5" />
<line x1="26.10" y1="328.70" x2="31.10" y2="328.70" stroke="#a4a4a4" stroke-width="0.5" />
<line x1="31.10" y1="312.50" x2="31.10" y2="347.00" stroke="#a4a4a4" stroke-width="0.5" />
<line x1="31.10" y1="312.50" x2="36.80" y2="312.50" stroke="#a4a4a4" stroke-width="0.5" />
<line x1="36.80" y1="301.90" x2="36.80" y2="323.10" stroke="#a4a4a4" stroke-width="0.5" />
<line x1="36.80" y1="301.90" x2="39.60" y2="301.90" stroke="#a4a4a4" stroke-width="0.5" />
<line x1="39.60" y1="296.20" x2="39.60" y2="306.00" stroke="#a4a4a4" stroke-width="0.5" />
<line x1="36.80" y1="323.10" x2="41.20" y2="323.10" stroke="#a4a4a4" stroke-width="0.5" />
<line x1="31.10" y1="347.00" x2="38.20" y2="347.00" stroke="#a4a4a4" stroke-width="0.5" />
<line x1="38.20" y1="338.50" x2="38.20" y2="355.50" stroke="#a4a4a4" stroke-width="0.5" />
<line x1="38.20" y1="338.50" x2="41.20" y2="338.50" stroke="#a4a4a4" stroke-width="0.5" />
<line x1="38.20" y1="355.50" x2="41.20" y2="355.50" stroke="#a4a4a4" stroke-width="0.5" />
<line x1="26.10" y1="364.70" x2="36.00" y2="364.70" stroke="#a4a4a4" stroke-width="0.5" />
<line x1="36.00" y1="360.00" x2="36.00" y2="369.00" stroke="#a4a4a4" stroke-width="0.5" />
<line x1="36.00" y1="360.00" x2="41.20" y2="360.00" stroke="#a4a4a4" stroke-width="0.5" />
<line x1="36.00" y1="369.00" x2="41.20" y2="369.00" stroke="#a4a4a4" stroke-width="0.5" />
<line x1="20.30" y1="383.00" x2="31.80" y2="383.00" stroke="#a4a4a4" stroke-width="0.5" />
<line x1="31.80" y1="377.50" x2="31.80" y2="388.00" stroke="#a4a4a4" stroke-width="0.5" />
<line x1="31.80" y1="377.50" x2="36.50" y2="377.50" stroke="#a4a4a4" stroke-width="0.5" />
<line x1="36.50" y1="373.00" x2="36.50" y2="381.00" stroke="#a4a4a4" stroke-width="0.5" />
<line x1="31.80" y1="388.00" x2="41.20" y2="388.00" stroke="#a4a4a4" stroke-width="0.5" />
<line x1="39.28" y1="173.00" x2="41.20" y2="173.00" stroke="#8a8a8a" stroke-width="0.4" />
<line x1="39.28" y1="173.00" x2="39.28" y2="174.50" stroke="#8a8a8a" stroke-width="0.4" />
<line x1="39.89" y1="176.00" x2="41.20" y2="176.00" stroke="#8a8a8a" stroke-width="0.4" />
<line x1="39.89" y1="176.00" x2="39.89" y2="177.50" stroke="#8a8a8a" stroke-width="0.4" />
<line x1="39.54" y1="179.00" x2="41.20" y2="179.00" stroke="#8a8a8a" stroke-width="0.4" />
<line x1="39.54" y1="179.00" x2="39.54" y2="180.50" stroke="#8a8a8a" stroke-width="0.4" />
<line x1="40.01" y1="182.00" x2="41.20" y2="182.00" stroke="#8a8a8a" stroke-width="0.4" />
<line x1="40.01" y1="182.00" x2="40.01" y2="183.50" stroke="#8a8a8a" stroke-width="0.4" />
<line x1="40.05" y1="185.00" x2="41.20" y2="185.00" stroke="#8a8a8a" stroke-width="0.4" />
<line x1="40.05" y1="185.00" x2="40.05" y2="186.50" stroke="#8a8a8a" stroke-width="0.4" />
<line x1="38.93" y1="188.00" x2="41.20" y2="188.00" stroke="#8a8a8a" stroke-width="0.4" />
<line x1="38.93" y1="188.00" x2="38.93" y2="189.50" stroke="#8a8a8a" stroke-width="0.4" />
<line x1="38.83" y1="191.00" x2="41.20" y2="191.00" stroke="#8a8a8a" stroke-width="0.4" />
<line x1="38.83" y1="191.00" x2="38.83" y2="192.50" stroke="#8a8a8a" stroke-width="0.4" />
<line x1="40.47" y1="194.00" x2="41.20" y2="194.00" stroke="#8a8a8a" stroke-width="0.4" />
<line x1="40.47" y1="194.00" x2="40.47" y2="195.50" stroke="#8a8a8a" stroke-width="0.4" />
<line x1="39.32" y1="197.00" x2="41.20" y2="197.00" stroke="#8a8a8a" stroke-width="0.4" />
<line x1="39.32" y1="197.00" x2="39.32" y2="198.50" stroke="#8a8a8a" stroke-width="0.4" />
<line x1="39.27" y1="200.00" x2="41.20" y2="200.00" stroke="#8a8a8a" stroke-width="0.4" />
<line x1="39.27" y1="200.00" x2="39.27" y2="201.50" stroke="#8a8a8a" stroke-width="0.4" />
<line x1="40.79" y1="203.00" x2="41.20" y2="203.00" stroke="#8a8a8a" stroke-width="0.4" />
<line x1="40.79" y1="203.00" x2="40.79" y2="204.50" stroke="#8a8a8a" stroke-width="0.4" />
<line x1="39.74" y1="206.00" x2="41.20" y2="206.00" stroke="#8a8a8a" stroke-width="0.4" />
<line x1="39.74" y1="206.00" x2="39.74" y2="207.50" stroke="#8a8a8a" stroke-width="0.4" />
<line x1="40.47" y1="209.00" x2="41.20" y2="209.00" stroke="#8a8a8a" stroke-width="0.4" />
<line x1="40.47" y1="209.00" x2="40.47" y2="210.50" stroke="#8a8a8a" stroke-width="0.4" />
<line x1="39.75" y1="212.00" x2="41.20" y2="212.00" stroke="#8a8a8a" stroke-width="0.4" />
<line x1="39.75" y1="212.00" x2="39.75" y2="213.50" stroke="#8a8a8a" stroke-width="0.4" />
<line x1="40.08" y1="215.00" x2="41.20" y2="215.00" stroke="#8a8a8a" stroke-width="0.4" />
<line x1="40.08" y1="215.00" x2="40.08" y2="216.50" stroke="#8a8a8a" stroke-width="0.4" />
<line x1="39.10" y1="218.00" x2="41.20" y2="218.00" stroke="#8a8a8a" stroke-width="0.4" />
<line x1="39.10" y1="218.00" x2="39.10" y2="219.50" stroke="#8a8a8a" stroke-width="0.4" />
<line x1="40.07" y1="221.00" x2="41.20" y2="221.00" stroke="#8a8a8a" stroke-width="0.4" />
<line x1="40.07" y1="221.00" x2="40.07" y2="222.50" stroke="#8a8a8a" stroke-width="0.4" />
<line x1="40.54" y1="224.00" x2="41.20" y2="224.00" stroke="#8a8a8a" stroke-width="0.4" />
<line x1="40.54" y1="224.00" x2="40.54" y2="225.50" stroke="#8a8a8a" stroke-width="0.4" />
<line x1="39.85" y1="227.00" x2="41.20" y2="227.00" stroke="#8a8a8a" stroke-width="0.4" />
<line x1="39.85" y1="227.00" x2="39.85" y2="228.50" stroke="#8a8a8a" stroke-width="0.4" />
<line x1="40.28" y1="230.00" x2="41.20" y2="230.00" stroke="#8a8a8a" stroke-width="0.4" />
<line x1="40.28" y1="230.00" x2="40.28" y2="231.50" stroke="#8a8a8a" stroke-width="0.4" />
<line x1="40.14" y1="233.00" x2="41.20" y2="233.00" stroke="#8a8a8a" stroke-width="0.4" />
<line x1="40.14" y1="233.00" x2="40.14" y2="234.50" stroke="#8a8a8a" stroke-width="0.4" />
<line x1="38.93" y1="236.00" x2="41.20" y2="236.00" stroke="#8a8a8a" stroke-width="0.4" />
<line x1="38.93" y1="236.00" x2="38.93" y2="237.50" stroke="#8a8a8a" stroke-width="0.4" />
<line x1="40.32" y1="239.00" x2="41.20" y2="239.00" stroke="#8a8a8a" stroke-width="0.4" />
<line x1="40.32" y1="239.00" x2="40.32" y2="240.50" stroke="#8a8a8a" stroke-width="0.4" />
<line x1="39.98" y1="242.00" x2="41.20" y2="242.00" stroke="#8a8a8a" stroke-width="0.4" />
<line x1="39.98" y1="242.00" x2="39.98" y2="243.50" stroke="#8a8a8a" stroke-width="0.4" />
<line x1="39.40" y1="245.00" x2="41.20" y2="245.00" stroke="#8a8a8a" stroke-width="0.4" />
<line x1="39.40" y1="245.00" x2="39.40" y2="246.50" stroke="#8a8a8a" stroke-width="0.4" />
<line x1="38.86" y1="248.00" x2="41.20" y2="248.00" stroke="#8a8a8a" stroke-width="0.4" />
<line x1="38.86" y1="248.00" x2="38.86" y2="249.50" stroke="#8a8a8a" stroke-width="0.4" />
<line x1="40.53" y1="251.00" x2="41.20" y2="251.00" stroke="#8a8a8a" stroke-width="0.4" />
<line x1="40.53" y1="251.00" x2="40.53" y2="252.50" stroke="#8a8a8a" stroke-width="0.4" />
<line x1="39.75" y1="254.00" x2="41.20" y2="254.00" stroke="#8a8a8a" stroke-width="0.4" />
<line x1="39.75" y1="254.00" x2="39.75" y2="255.50" stroke="#8a8a8a" stroke-width="0.4" />
<line x1="40.24" y1="257.00" x2="41.20" y2="257.00" stroke="#8a8a8a" stroke-width="0.4" />
<line x1="40.24" y1="257.00" x2="40.24" y2="258.50" stroke="#8a8a8a" stroke-width="0.4" />
<line x1="40.56" y1="260.00" x2="41.20" y2="260.00" stroke="#8a8a8a" stroke-width="0.4" />
<line x1="40.56" y1="260.00" x2="40.56" y2="261.50" stroke="#8a8a8a" stroke-width="0.4" />
<line x1="40.23" y1="263.00" x2="41.20" y2="263.00" stroke="#8a8a8a" stroke-width="0.4" />
<line x1="40.23" y1="263.00" x2="40.23" y2="264.50" stroke="#8a8a8a" stroke-width="0.4" />
<line x1="40.64" y1="266.00" x2="41.20" y2="266.00" stroke="#8a8a8a" stroke-width="0.4" />
<line x1="40.64" y1="266.00" x2="40.64" y2="267.50" stroke="#8a8a8a" stroke-width="0.4" />
<line x1="39.59" y1="269.00" x2="41.20" y2="269.00" stroke="#8a8a8a" stroke-width="0.4" />
<line x1="39.59" y1="269.00" x2="39.59" y2="270.50" stroke="#8a8a8a" stroke-width="0.4" />
<line x1="40.40" y1="272.00" x2="41.20" y2="272.00" stroke="#8a8a8a" stroke-width="0.4" />
<line x1="40.40" y1="272.00" x2="40.40" y2="273.50" stroke="#8a8a8a" stroke-width="0.4" />
<line x1="39.69" y1="275.00" x2="41.20" y2="275.00" stroke="#8a8a8a" stroke-width="0.4" />
<line x1="39.69" y1="275.00" x2="39.69" y2="276.50" stroke="#8a8a8a" stroke-width="0.4" />
<line x1="40.67" y1="278.00" x2="41.20" y2="278.00" stroke="#8a8a8a" stroke-width="0.4" />
<line x1="40.67" y1="278.00" x2="40.67" y2="279.50" stroke="#8a8a8a" stroke-width="0.4" />
<line x1="40.56" y1="281.00" x2="41.20" y2="281.00" stroke="#8a8a8a" stroke-width="0.4" />
<line x1="40.56" y1="281.00" x2="40.56" y2="282.50" stroke="#8a8a8a" stroke-width="0.4" />
<line x1="38.99" y1="284.00" x2="41.20" y2="284.00" stroke="#8a8a8a" stroke-width="0.4" />
<line x1="38.99" y1="284.00" x2="38.99" y2="285.50" stroke="#8a8a8a" stroke-width="0.4" />
<line x1="39.07" y1="287.00" x2="41.20" y2="287.00" stroke="#8a8a8a" stroke-width="0.4" />
<line x1="39.07" y1="287.00" x2="39.07" y2="288.50" stroke="#8a8a8a" stroke-width="0.4" />
<line x1="39.23" y1="290.00" x2="41.20" y2="290.00" stroke="#8a8a8a" stroke-width="0.4" />
<line x1="39.23" y1="290.00" x2="39.23" y2="291.50" stroke="#8a8a8a" stroke-width="0.4" />
<line x1="40.73" y1="293.00" x2="41.20" y2="293.00" stroke="#8a8a8a" stroke-width="0.4" />
<line x1="40.73" y1="293.00" x2="40.73" y2="294.50" stroke="#8a8a8a" stroke-width="0.4" />
<line x1="39.67" y1="296.00" x2="41.20" y2="296.00" stroke="#8a8a8a" stroke-width="0.4" />
<line x1="39.67" y1="296.00" x2="39.67" y2="297.50" stroke="#8a8a8a" stroke-width="0.4" />
<line x1="40.05" y1="299.00" x2="41.20" y2="299.00" stroke="#8a8a8a" stroke-width="0.4" />
<line x1="40.05" y1="299.00" x2="40.05" y2="300.50" stroke="#8a8a8a" stroke-width="0.4" />
<line x1="39.40" y1="302.00" x2="41.20" y2="302.00" stroke="#8a8a8a" stroke-width="0.4" />
<line x1="39.40" y1="302.00" x2="39.40" y2="303.50" stroke="#8a8a8a" stroke-width="0.4" />
<line x1="39.81" y1="305.00" x2="41.20" y2="305.00" stroke="#8a8a8a" stroke-width="0.4" />
<line x1="39.81" y1="305.00" x2="39.81" y2="306.50" stroke="#8a8a8a" stroke-width="0.4" />
<line x1="39.57" y1="308.00" x2="41.20" y2="308.00" stroke="#8a8a8a" stroke-width="0.4" />
<line x1="39.57" y1="308.00" x2="39.57" y2="309.50" stroke="#8a8a8a" stroke-width="0.4" />
<line x1="39.50" y1="311.00" x2="41.20" y2="311.00" stroke="#8a8a8a" stroke-width="0.4" />
<line x1="39.50" y1="311.00" x2="39.50" y2="312.50" stroke="#8a8a8a" stroke-width="0.4" />
<line x1="39.97" y1="314.00" x2="41.20" y2="314.00" stroke="#8a8a8a" stroke-width="0.4" />
<line x1="39.97" y1="314.00" x2="39.97" y2="315.50" stroke="#8a8a8a" stroke-width="0.4" />
<line x1="39.97" y1="317.00" x2="41.20" y2="317.00" stroke="#8a8a8a" stroke-width="0.4" />
<line x1="39.97" y1="317.00" x2="39.97" y2="318.50" stroke="#8a8a8a" stroke-width="0.4" />
<line x1="40.61" y1="320.00" x2="41.20" y2="320.00" stroke="#8a8a8a" stroke-width="0.4" />
<line x1="40.61" y1="320.00" x2="40.61" y2="321.50" stroke="#8a8a8a" stroke-width="0.4" />
<line x1="40.16" y1="323.00" x2="41.20" y2="323.00" stroke="#8a8a8a" stroke-width="0.4" />
<line x1="40.16" y1="323.00" x2="40.16" y2="324.50" stroke="#8a8a8a" stroke-width="0.4" />
<line x1="40.66" y1="326.00" x2="41.20" y2="326.00" stroke="#8a8a8a" stroke-width="0.4" />
<line x1="40.66" y1="326.00" x2="40.66" y2="327.50" stroke="#8a8a8a" stroke-width="0.4" />
<line x1="40.51" y1="329.00" x2="41.20" y2="329.00" stroke="#8a8a8a" stroke-width="0.4" />
<line x1="40.51" y1="329.00" x2="40.51" y2="330.50" stroke="#8a8a8a" stroke-width="0.4" />
<line x1="40.78" y1="332.00" x2="41.20" y2="332.00" stroke="#8a8a8a" stroke-width="0.4" />
<line x1="40.78" y1="332.00" x2="40.78" y2="333.50" stroke="#8a8a8a" stroke-width="0.4" />
<line x1="40.14" y1="335.00" x2="41.20" y2="335.00" stroke="#8a8a8a" stroke-width="0.4" />
<line x1="40.14" y1="335.00" x2="40.14" y2="336.50" stroke="#8a8a8a" stroke-width="0.4" />
<line x1="39.13" y1="338.00" x2="41.20" y2="338.00" stroke="#8a8a8a" stroke-width="0.4" />
<line x1="39.13" y1="338.00" x2="39.13" y2="339.50" stroke="#8a8a8a" stroke-width="0.4" />
<line x1="40.52" y1="341.00" x2="41.20" y2="341.00" stroke="#8a8a8a" stroke-width="0.4" />
<line x1="40.52" y1="341.00" x2="40.52" y2="342.50" stroke="#8a8a8a" stroke-width="0.4" />
<line x1="40.73" y1="344.00" x2="41.20" y2="344.00" stroke="#8a8a8a" stroke-width="0.4" />
<line x1="40.73" y1="344.00" x2="40.73" y2="345.50" stroke="#8a8a8a" stroke-width="0.4" />
<line x1="40.61" y1="347.00" x2="41.20" y2="347.00" stroke="#8a8a8a" stroke-width="0.4" />
<line x1="40.61" y1="347.00" x2="40.61" y2="348.50" stroke="#8a8a8a" stroke-width="0.4" />
<line x1="39.94" y1="350.00" x2="41.20" y2="350.00" stroke="#8a8a8a" stroke-width="0.4" />
<line x1="39.94" y1="350.00" x2="39.94" y2="351.50" stroke="#8a8a8a" stroke-width="0.4" />
<line x1="40.23" y1="353.00" x2="41.20" y2="353.00" stroke="#8a8a8a" stroke-width="0.4" />
<line x1="40.23" y1="353.00" x2="40.23" y2="354.50" stroke="#8a8a8a" stroke-width="0.4" />
<line x1="39.22" y1="356.00" x2="41.20" y2="356.00" stroke="#8a8a8a" stroke-width="0.4" />
<line x1="39.22" y1="356.00" x2="39.22" y2="357.50" stroke="#8a8a8a" stroke-width="0.4" />
<line x1="40.46" y1="359.00" x2="41.20" y2="359.00" stroke="#8a8a8a" stroke-width="0.4" />
<line x1="40.46" y1="359.00" x2="40.46" y2="360.50" stroke="#8a8a8a" stroke-width="0.4" />
<line x1="39.95" y1="362.00" x2="41.20" y2="362.00" stroke="#8a8a8a" stroke-width="0.4" />
<line x1="39.95" y1="362.00" x2="39.95" y2="363.50" stroke="#8a8a8a" stroke-width="0.4" />
<line x1="39.37" y1="365.00" x2="41.20" y2="365.00" stroke="#8a8a8a" stroke-width="0.4" />
<line x1="39.37" y1="365.00" x2="39.37" y2="366.50" stroke="#8a8a8a" stroke-width="0.4" />
<line x1="38.93" y1="368.00" x2="41.20" y2="368.00" stroke="#8a8a8a" stroke-width="0.4" />
<line x1="38.93" y1="368.00" x2="38.93" y2="369.50" stroke="#8a8a8a" stroke-width="0.4" />
<line x1="40.51" y1="371.00" x2="41.20" y2="371.00" stroke="#8a8a8a" stroke-width="0.4" />
<line x1="40.51" y1="371.00" x2="40.51" y2="372.50" stroke="#8a8a8a" stroke-width="0.4" />
<line x1="40.78" y1="374.00" x2="41.20" y2="374.00" stroke="#8a8a8a" stroke-width="0.4" />
<line x1="40.78" y1="374.00" x2="40.78" y2="375.50" stroke="#8a8a8a" stroke-width="0.4" />
<line x1="38.98" y1="377.00" x2="41.20" y2="377.00" stroke="#8a8a8a" stroke-width="0.4" />
<line x1="38.98" y1="377.00" x2="38.98" y2="378.50" stroke="#8a8a8a" stroke-width="0.4" />
<line x1="40.40" y1="380.00" x2="41.20" y2="380.00" stroke="#8a8a8a" stroke-width="0.4" />
<line x1="40.40" y1="380.00" x2="40.40" y2="381.50" stroke="#8a8a8a" stroke-width="0.4" />
<line x1="39.62" y1="383.00" x2="41.20" y2="383.00" stroke="#8a8a8a" stroke-width="0.4" />
<line x1="39.62" y1="383.00" x2="39.62" y2="384.50" stroke="#8a8a8a" stroke-width="0.4" />
<line x1="39.10" y1="386.00" x2="41.20" y2="386.00" stroke="#8a8a8a" stroke-width="0.4" />
<line x1="39.10" y1="386.00" x2="39.10" y2="387.50" stroke="#8a8a8a" stroke-width="0.4" />
<text x="211.40" y="12.63" font-size="9.25" font-weight="bold" font-style="normal" text-anchor="start" fill="#111" word-spacing="0.8">Ingenuity pathways analysis</text>
<rect x="238.00" y="21.40" width="102.80" height="154.40" fill="none" stroke="#333" stroke-width="0.8" />
<line x1="238.00" y1="21.40" x2="340.80" y2="21.40" stroke="#888" stroke-width="0.8" />
<rect x="238.40" y="24.60" width="94.72" height="9.10" fill="#1cba4c" stroke="#0b2410" stroke-width="0.95" />
<rect x="238.40" y="40.07" width="84.48" height="9.10" fill="#1cba4c" stroke="#0b2410" stroke-width="0.95" />
<rect x="238.40" y="55.54" width="84.48" height="9.10" fill="#1cba4c" stroke="#0b2410" stroke-width="0.95" />
<rect x="238.40" y="71.01" width="74.24" height="9.10" fill="#1cba4c" stroke="#0b2410" stroke-width="0.95" />
<rect x="238.40" y="86.48" width="69.12" height="9.10" fill="#1cba4c" stroke="#0b2410" stroke-width="0.95" />
<rect x="238.40" y="101.95" width="64.00" height="9.10" fill="#1cba4c" stroke="#0b2410" stroke-width="0.95" />
<rect x="238.40" y="117.42" width="61.44" height="9.10" fill="#1cba4c" stroke="#0b2410" stroke-width="0.95" />
<rect x="238.40" y="132.89" width="61.44" height="9.10" fill="#1cba4c" stroke="#0b2410" stroke-width="0.95" />
<rect x="238.40" y="148.36" width="56.32" height="9.10" fill="#1cba4c" stroke="#0b2410" stroke-width="0.95" />
<rect x="238.40" y="163.83" width="51.20" height="9.10" fill="#1cba4c" stroke="#0b2410" stroke-width="0.95" />
<line x1="238.40" y1="175.80" x2="238.40" y2="177.40" stroke="#222" stroke-width="0.6" />
<text x="238.40" y="183.74" font-size="5.4" font-weight="normal" font-style="normal" text-anchor="middle" fill="#222" >0</text>
<line x1="251.20" y1="175.80" x2="251.20" y2="177.40" stroke="#222" stroke-width="0.6" />
<text x="251.20" y="183.74" font-size="5.4" font-weight="normal" font-style="normal" text-anchor="middle" fill="#222" >5</text>
<line x1="264.00" y1="175.80" x2="264.00" y2="177.40" stroke="#222" stroke-width="0.6" />
<text x="264.00" y="183.74" font-size="5.4" font-weight="normal" font-style="normal" text-anchor="middle" fill="#222" >10</text>
<line x1="276.80" y1="175.80" x2="276.80" y2="177.40" stroke="#222" stroke-width="0.6" />
<text x="276.80" y="183.74" font-size="5.4" font-weight="normal" font-style="normal" text-anchor="middle" fill="#222" >15</text>
<line x1="289.60" y1="175.80" x2="289.60" y2="177.40" stroke="#222" stroke-width="0.6" />
<text x="289.60" y="183.74" font-size="5.4" font-weight="normal" font-style="normal" text-anchor="middle" fill="#222" >20</text>
<line x1="302.40" y1="175.80" x2="302.40" y2="177.40" stroke="#222" stroke-width="0.6" />
<text x="302.40" y="183.74" font-size="5.4" font-weight="normal" font-style="normal" text-anchor="middle" fill="#222" >25</text>
<line x1="315.20" y1="175.80" x2="315.20" y2="177.40" stroke="#222" stroke-width="0.6" />
<text x="315.20" y="183.74" font-size="5.4" font-weight="normal" font-style="normal" text-anchor="middle" fill="#222" >30</text>
<line x1="328.00" y1="175.80" x2="328.00" y2="177.40" stroke="#222" stroke-width="0.6" />
<text x="328.00" y="183.74" font-size="5.4" font-weight="normal" font-style="normal" text-anchor="middle" fill="#222" >35</text>
<line x1="340.80" y1="175.80" x2="340.80" y2="177.40" stroke="#222" stroke-width="0.6" />
<text x="340.80" y="183.74" font-size="5.4" font-weight="normal" font-style="normal" text-anchor="middle" fill="#222" >40</text>
<text x="287.00" y="191.43" font-size="6.2" font-weight="bold" font-style="normal" text-anchor="middle" fill="#111" >Network score</text>
<text x="377.80" y="12.61" font-size="9.2" font-weight="bold" font-style="normal" text-anchor="start" fill="#111" word-spacing="0.5">Gene ontology pathways</text>
<rect x="429.30" y="18.40" width="76.20" height="160.60" fill="none" stroke="#111" stroke-width="0.9" />
<rect x="429.30" y="21.80" width="65.07" height="9.30" fill="#c42024" stroke="#4a0808" stroke-width="0.95" />
<line x1="427.60" y1="34.20" x2="429.30" y2="34.20" stroke="#222" stroke-width="0.6" />
<rect x="429.30" y="37.90" width="42.24" height="9.30" fill="#c42024" stroke="#4a0808" stroke-width="0.95" />
<line x1="427.60" y1="50.30" x2="429.30" y2="50.30" stroke="#222" stroke-width="0.6" />
<rect x="429.30" y="54.00" width="36.34" height="9.30" fill="#c42024" stroke="#4a0808" stroke-width="0.95" />
<line x1="427.60" y1="66.40" x2="429.30" y2="66.40" stroke="#222" stroke-width="0.6" />
<rect x="429.30" y="70.10" width="34.25" height="9.30" fill="#c42024" stroke="#4a0808" stroke-width="0.95" />
<line x1="427.60" y1="82.50" x2="429.30" y2="82.50" stroke="#222" stroke-width="0.6" />
<rect x="429.30" y="86.20" width="30.44" height="9.30" fill="#c42024" stroke="#4a0808" stroke-width="0.95" />
<line x1="427.60" y1="98.60" x2="429.30" y2="98.60" stroke="#222" stroke-width="0.6" />
<rect x="429.30" y="102.30" width="29.11" height="9.30" fill="#c42024" stroke="#4a0808" stroke-width="0.95" />
<line x1="427.60" y1="114.70" x2="429.30" y2="114.70" stroke="#222" stroke-width="0.6" />
<rect x="429.30" y="118.40" width="29.11" height="9.30" fill="#c42024" stroke="#4a0808" stroke-width="0.95" />
<line x1="427.60" y1="130.80" x2="429.30" y2="130.80" stroke="#222" stroke-width="0.6" />
<rect x="429.30" y="134.50" width="29.11" height="9.30" fill="#c42024" stroke="#4a0808" stroke-width="0.95" />
<line x1="427.60" y1="146.90" x2="429.30" y2="146.90" stroke="#222" stroke-width="0.6" />
<rect x="429.30" y="150.60" width="25.11" height="9.30" fill="#c42024" stroke="#4a0808" stroke-width="0.95" />
<line x1="427.60" y1="163.00" x2="429.30" y2="163.00" stroke="#222" stroke-width="0.6" />
<rect x="429.30" y="166.70" width="23.21" height="9.30" fill="#c42024" stroke="#4a0808" stroke-width="0.95" />
<line x1="429.30" y1="179.00" x2="429.30" y2="180.60" stroke="#222" stroke-width="0.6" />
<line x1="429.30" y1="18.40" x2="429.30" y2="16.80" stroke="#222" stroke-width="0.6" />
<text x="429.30" y="189.06" font-size="6.0" font-weight="normal" font-style="normal" text-anchor="middle" fill="#222" >1.9</text>
<line x1="448.33" y1="179.00" x2="448.33" y2="180.60" stroke="#222" stroke-width="0.6" />
<line x1="448.33" y1="18.40" x2="448.33" y2="16.80" stroke="#222" stroke-width="0.6" />
<text x="448.33" y="189.06" font-size="6.0" font-weight="normal" font-style="normal" text-anchor="middle" fill="#222" >2</text>
<line x1="467.36" y1="179.00" x2="467.36" y2="180.60" stroke="#222" stroke-width="0.6" />
<line x1="467.36" y1="18.40" x2="467.36" y2="16.80" stroke="#222" stroke-width="0.6" />
<text x="467.36" y="189.06" font-size="6.0" font-weight="normal" font-style="normal" text-anchor="middle" fill="#222" >2.1</text>
<line x1="486.39" y1="179.00" x2="486.39" y2="180.60" stroke="#222" stroke-width="0.6" />
<line x1="486.39" y1="18.40" x2="486.39" y2="16.80" stroke="#222" stroke-width="0.6" />
<text x="486.39" y="189.06" font-size="6.0" font-weight="normal" font-style="normal" text-anchor="middle" fill="#222" >2.2</text>
<line x1="505.42" y1="179.00" x2="505.42" y2="180.60" stroke="#222" stroke-width="0.6" />
<line x1="505.42" y1="18.40" x2="505.42" y2="16.80" stroke="#222" stroke-width="0.6" />
<text x="505.42" y="189.06" font-size="6.0" font-weight="normal" font-style="normal" text-anchor="middle" fill="#222" >2.3</text>
<text x="465.30" y="195.93" font-size="6.2" font-weight="bold" font-style="normal" text-anchor="middle" fill="#111" >Normalized enrichment score</text>
<text x="201.20" y="216.07" font-size="5.2" font-weight="bold" font-style="normal" text-anchor="middle" fill="#111" >MYC Targets (Hallmark)</text>
<text transform="translate(135.40,243.50) rotate(-90)" font-size="4.3" font-weight="bold" text-anchor="middle" fill="#222">Enrichment score (ES)</text>
<rect x="147.30" y="217.90" width="106.90" height="69.50" fill="none" stroke="#9a9a9a" stroke-width="0.6" />
<line x1="147.30" y1="217.90" x2="254.20" y2="217.90" stroke="#666" stroke-width="0.7" />
<line x1="147.30" y1="217.90" x2="147.30" y2="287.40" stroke="#3a3a3a" stroke-width="0.95" />
<line x1="147.30" y1="221.70" x2="249.00" y2="221.70" stroke="#c4c4c4" stroke-width="0.5" />
<text x="142.10" y="223.29" font-size="3.3" font-weight="bold" font-style="normal" text-anchor="middle" fill="#222" >0.00</text>
<text x="142.10" y="264.39" font-size="3.3" font-weight="bold" font-style="normal" text-anchor="middle" fill="#222" >-0.40</text>
<path d="M147.50,222.47 L147.65,222.65 L147.85,222.51 L148.08,222.21 L148.34,222.15 L148.62,221.99 L148.92,221.92 L149.21,221.83 L149.49,221.48 L149.76,221.38 L150.00,221.62 L150.22,221.48 L150.43,221.64 L150.64,221.46 L150.84,221.71 L151.03,221.92 L151.22,221.86 L151.42,222.21 L151.61,222.28 L151.80,222.03 L152.00,222.03 L152.20,222.18 L152.40,222.24 L152.60,221.93 L152.80,221.75 L153.00,221.68 L153.20,221.40 L153.40,221.34 L153.60,221.30 L153.80,221.24 L154.00,221.11 L154.20,221.11 L154.40,221.14 L154.60,221.30 L154.80,221.32 L155.00,221.33 L155.20,221.71 L155.40,221.70 L155.60,221.80 L155.80,221.68 L156.00,221.97 L156.20,221.89 L156.38,221.57 L156.57,221.56 L156.75,221.60 L156.94,221.48 L157.13,221.44 L157.33,221.15 L157.54,221.18 L157.76,221.03 L158.00,220.83 L158.26,220.87 L158.54,220.93 L158.83,220.87 L159.13,220.71 L159.44,220.71 L159.75,220.49 L160.07,220.54 L160.38,220.72 L160.70,220.58 L161.00,220.49 L161.30,220.62 L161.60,220.68 L161.91,220.69 L162.21,220.61 L162.51,220.67 L162.81,220.72 L163.11,220.84 L163.41,220.78 L163.71,220.75 L164.00,220.80 L164.29,220.63 L164.57,220.61 L164.84,220.81 L165.12,220.87 L165.39,220.70 L165.66,220.59 L165.94,220.50 L166.22,220.62 L166.50,220.81 L166.80,220.79 L167.10,220.80 L167.40,221.03 L167.71,220.95 L168.02,221.20 L168.34,221.52 L168.66,221.57 L168.98,221.72 L169.32,221.84 L169.65,222.13 L170.00,222.46 L170.34,222.31 L170.67,222.75 L171.00,222.94 L171.33,223.14 L171.67,223.27 L172.03,223.49 L172.41,223.61 L172.83,223.86 L173.29,224.08 L173.80,224.24 L174.36,224.87 L174.98,225.13 L175.64,225.41 L176.33,225.94 L177.05,226.38 L177.78,226.79 L178.53,227.24 L179.26,227.76 L179.99,228.23 L180.70,228.64 L181.40,228.98 L182.12,229.21 L182.84,229.66 L183.56,230.01 L184.29,230.52 L185.00,230.99 L185.71,231.36 L186.39,231.75 L187.06,232.17 L187.70,232.41 L188.31,233.09 L188.91,233.53 L189.48,233.86 L190.04,234.38 L190.59,234.92 L191.12,235.73 L191.65,236.08 L192.17,236.55 L192.69,237.21 L193.20,237.55 L193.70,237.83 L194.17,238.19 L194.63,238.61 L195.07,238.74 L195.51,239.03 L195.96,239.45 L196.43,239.64 L196.92,239.92 L197.44,240.35 L198.00,240.63 L198.60,241.27 L199.24,241.85 L199.91,242.38 L200.60,243.00 L201.31,243.95 L202.03,244.51 L202.76,245.11 L203.48,245.95 L204.20,246.73 L204.90,247.13 L205.60,247.82 L206.30,248.58 L207.00,249.51 L207.70,250.05 L208.40,250.98 L209.10,251.70 L209.80,252.36 L210.50,252.94 L211.20,253.85 L211.90,254.40 L212.59,254.88 L213.28,255.32 L213.97,255.99 L214.66,256.40 L215.35,256.95 L216.04,257.32 L216.73,257.87 L217.42,258.10 L218.11,258.61 L218.80,259.26 L219.51,259.64 L220.25,259.85 L221.00,260.44 L221.76,260.63 L222.51,261.22 L223.25,261.50 L223.95,261.72 L224.62,261.97 L225.24,262.17 L225.80,262.73 L226.29,262.67 L226.73,263.17 L227.11,263.41 L227.46,263.46 L227.78,263.47 L228.08,263.85 L228.37,264.00 L228.66,263.99 L228.97,263.97 L229.30,263.96 L229.65,263.94 L230.00,263.83 L230.35,263.90 L230.70,263.69 L231.04,263.47 L231.39,263.29 L231.73,263.33 L232.06,263.06 L232.38,263.00 L232.70,262.84 L233.00,262.96 L233.30,262.92 L233.58,262.57 L233.86,262.61 L234.14,262.63 L234.41,262.82 L234.68,262.70 L234.95,262.48 L235.22,262.33 L235.50,262.36 L235.78,262.25 L236.07,262.10 L236.36,261.69 L236.65,261.65 L236.94,261.33 L237.23,261.00 L237.51,260.90 L237.78,260.34 L238.05,260.20 L238.30,259.65 L238.54,259.35 L238.77,259.27 L238.98,258.68 L239.20,258.51 L239.40,258.07 L239.60,257.74 L239.80,257.15 L240.00,256.68 L240.20,256.16 L240.40,255.83 L240.60,255.16 L240.80,254.65 L241.00,253.97 L241.20,253.01 L241.40,252.44 L241.60,251.54 L241.80,250.77 L242.00,250.04 L242.20,249.57 L242.40,248.80 L242.61,248.09 L242.81,247.21 L243.02,246.59 L243.23,245.94 L243.44,245.07 L243.66,244.40 L243.87,243.51 L244.08,242.66 L244.29,241.89 L244.50,241.24 L244.71,240.19 L244.92,239.33 L245.13,238.13 L245.34,237.00 L245.55,236.09 L245.76,235.02 L245.97,233.64 L246.18,232.80 L246.39,231.56 L246.60,230.57 L246.82,229.83 L247.05,228.49 L247.30,227.50 L247.54,226.70 L247.78,225.47 L248.01,224.39 L248.22,223.50 L248.41,222.73 L248.58,222.22 L248.70,221.60" fill="none" stroke="#5ea444" stroke-width="1.05" stroke-linejoin="round"/>
<text x="156.20" y="247.75" font-size="4.3" font-weight="bold" font-style="normal" text-anchor="start" fill="#111" >NES = -2.06</text>
<text x="156.20" y="252.45" font-size="4.3" font-weight="bold" font-style="normal" text-anchor="start" fill="#111" ><tspan font-style="italic">P</tspan> &lt; 0.01</text>
<text x="156.20" y="257.15" font-size="4.3" font-weight="bold" font-style="normal" text-anchor="start" fill="#111" >FDR = 0.002</text>
<rect x="147.90" y="266.70" width="0.98" height="15.50" fill="rgb(166,166,166)" stroke="none" stroke-width="0" />
<rect x="148.86" y="266.70" width="0.99" height="15.50" fill="rgb(129,129,129)" stroke="none" stroke-width="0" />
<rect x="149.83" y="266.70" width="0.77" height="15.50" fill="rgb(134,134,134)" stroke="none" stroke-width="0" />
<rect x="151.82" y="266.70" width="0.86" height="15.50" fill="rgb(154,154,154)" stroke="none" stroke-width="0" />
<rect x="153.81" y="266.70" width="1.41" height="15.50" fill="rgb(136,136,136)" stroke="none" stroke-width="0" />
<rect x="156.29" y="266.70" width="0.63" height="15.50" fill="rgb(71,71,71)" stroke="none" stroke-width="0" />
<rect x="157.66" y="266.70" width="0.64" height="15.50" fill="rgb(113,113,113)" stroke="none" stroke-width="0" />
<rect x="158.28" y="266.70" width="1.29" height="15.50" fill="rgb(135,135,135)" stroke="none" stroke-width="0" />
<rect x="159.55" y="266.70" width="1.02" height="15.50" fill="rgb(115,115,115)" stroke="none" stroke-width="0" />
<rect x="160.55" y="266.70" width="0.84" height="15.50" fill="rgb(174,174,174)" stroke="none" stroke-width="0" />
<rect x="161.38" y="266.70" width="1.29" height="15.50" fill="rgb(99,99,99)" stroke="none" stroke-width="0" />
<rect x="162.65" y="266.70" width="0.80" height="15.50" fill="rgb(72,72,72)" stroke="none" stroke-width="0" />
<rect x="163.43" y="266.70" width="1.23" height="15.50" fill="rgb(158,158,158)" stroke="none" stroke-width="0" />
<rect x="164.65" y="266.70" width="0.93" height="15.50" fill="rgb(158,158,158)" stroke="none" stroke-width="0" />
<rect x="166.16" y="266.70" width="1.35" height="15.50" fill="rgb(172,172,172)" stroke="none" stroke-width="0" />
<rect x="168.40" y="266.70" width="1.12" height="15.50" fill="rgb(94,94,94)" stroke="none" stroke-width="0" />
<rect x="169.51" y="266.70" width="0.69" height="15.50" fill="rgb(171,171,171)" stroke="none" stroke-width="0" />
<rect x="171.38" y="266.70" width="0.82" height="15.50" fill="rgb(71,71,71)" stroke="none" stroke-width="0" />
<rect x="173.42" y="266.70" width="1.07" height="15.50" fill="rgb(85,85,85)" stroke="none" stroke-width="0" />
<rect x="175.65" y="266.70" width="1.13" height="15.50" fill="rgb(111,111,111)" stroke="none" stroke-width="0" />
<rect x="177.53" y="266.70" width="1.40" height="15.50" fill="rgb(98,98,98)" stroke="none" stroke-width="0" />
<rect x="180.22" y="266.70" width="0.94" height="15.50" fill="rgb(135,135,135)" stroke="none" stroke-width="0" />
<rect x="181.13" y="266.70" width="0.70" height="15.50" fill="rgb(88,88,88)" stroke="none" stroke-width="0" />
<rect x="181.81" y="266.70" width="0.83" height="15.50" fill="rgb(101,101,101)" stroke="none" stroke-width="0" />
<rect x="183.46" y="266.70" width="0.69" height="15.50" fill="rgb(91,91,91)" stroke="none" stroke-width="0" />
<rect x="184.13" y="266.70" width="1.10" height="15.50" fill="rgb(114,114,114)" stroke="none" stroke-width="0" />
<rect x="185.21" y="266.70" width="1.39" height="15.50" fill="rgb(128,128,128)" stroke="none" stroke-width="0" />
<rect x="187.87" y="266.70" width="0.74" height="15.50" fill="rgb(154,154,154)" stroke="none" stroke-width="0" />
<rect x="189.39" y="266.70" width="1.21" height="15.50" fill="rgb(86,86,86)" stroke="none" stroke-width="0" />
<rect x="190.59" y="266.70" width="1.38" height="15.50" fill="rgb(131,131,131)" stroke="none" stroke-width="0" />
<rect x="192.88" y="266.70" width="0.65" height="15.50" fill="rgb(91,91,91)" stroke="none" stroke-width="0" />
<rect x="194.68" y="266.70" width="1.28" height="15.50" fill="rgb(97,97,97)" stroke="none" stroke-width="0" />
<rect x="195.94" y="266.70" width="0.76" height="15.50" fill="rgb(72,72,72)" stroke="none" stroke-width="0" />
<rect x="196.68" y="266.70" width="0.80" height="15.50" fill="rgb(158,158,158)" stroke="none" stroke-width="0" />
<rect x="197.46" y="266.70" width="1.11" height="15.50" fill="rgb(165,165,165)" stroke="none" stroke-width="0" />
<rect x="199.31" y="266.70" width="0.84" height="15.50" fill="rgb(71,71,71)" stroke="none" stroke-width="0" />
<rect x="200.87" y="266.70" width="1.08" height="15.50" fill="rgb(174,174,174)" stroke="none" stroke-width="0" />
<rect x="201.93" y="266.70" width="1.33" height="15.50" fill="rgb(207,207,207)" stroke="none" stroke-width="0" />
<rect x="203.24" y="266.70" width="1.17" height="15.50" fill="rgb(150,150,150)" stroke="none" stroke-width="0" />
<rect x="205.02" y="266.70" width="1.35" height="15.50" fill="rgb(240,240,240)" stroke="none" stroke-width="0" />
<rect x="206.35" y="266.70" width="0.64" height="15.50" fill="rgb(188,188,188)" stroke="none" stroke-width="0" />
<rect x="208.15" y="266.70" width="1.42" height="15.50" fill="rgb(195,195,195)" stroke="none" stroke-width="0" />
<rect x="209.55" y="266.70" width="1.21" height="15.50" fill="rgb(216,216,216)" stroke="none" stroke-width="0" />
<rect x="210.74" y="266.70" width="1.18" height="15.50" fill="rgb(235,235,235)" stroke="none" stroke-width="0" />
<rect x="211.90" y="266.70" width="0.90" height="15.50" fill="rgb(234,234,234)" stroke="none" stroke-width="0" />
<rect x="212.79" y="266.70" width="1.32" height="15.50" fill="rgb(141,141,141)" stroke="none" stroke-width="0" />
<rect x="214.08" y="266.70" width="1.31" height="15.50" fill="rgb(123,123,123)" stroke="none" stroke-width="0" />
<rect x="215.37" y="266.70" width="0.93" height="15.50" fill="rgb(121,121,121)" stroke="none" stroke-width="0" />
<rect x="216.28" y="266.70" width="0.68" height="15.50" fill="rgb(164,164,164)" stroke="none" stroke-width="0" />
<rect x="216.94" y="266.70" width="1.32" height="15.50" fill="rgb(97,97,97)" stroke="none" stroke-width="0" />
<rect x="218.25" y="266.70" width="1.21" height="15.50" fill="rgb(103,103,103)" stroke="none" stroke-width="0" />
<rect x="220.71" y="266.70" width="1.22" height="15.50" fill="rgb(121,121,121)" stroke="none" stroke-width="0" />
<rect x="221.91" y="266.70" width="1.00" height="15.50" fill="rgb(131,131,131)" stroke="none" stroke-width="0" />
<rect x="222.89" y="266.70" width="1.02" height="15.50" fill="rgb(156,156,156)" stroke="none" stroke-width="0" />
<rect x="224.69" y="266.70" width="0.86" height="15.50" fill="rgb(77,77,77)" stroke="none" stroke-width="0" />
<rect x="225.53" y="266.70" width="0.76" height="15.50" fill="rgb(127,127,127)" stroke="none" stroke-width="0" />
<rect x="226.27" y="266.70" width="0.97" height="15.50" fill="rgb(90,90,90)" stroke="none" stroke-width="0" />
<rect x="228.36" y="266.70" width="0.96" height="15.50" fill="rgb(155,155,155)" stroke="none" stroke-width="0" />
<rect x="229.30" y="266.70" width="1.32" height="15.50" fill="rgb(119,119,119)" stroke="none" stroke-width="0" />
<rect x="231.46" y="266.70" width="1.02" height="15.50" fill="rgb(148,148,148)" stroke="none" stroke-width="0" />
<rect x="232.46" y="266.70" width="1.19" height="15.50" fill="rgb(85,85,85)" stroke="none" stroke-width="0" />
<rect x="233.62" y="266.70" width="0.76" height="15.50" fill="rgb(85,85,85)" stroke="none" stroke-width="0" />
<rect x="234.36" y="266.70" width="0.79" height="15.50" fill="rgb(123,123,123)" stroke="none" stroke-width="0" />
<rect x="235.13" y="266.70" width="1.02" height="15.50" fill="rgb(147,147,147)" stroke="none" stroke-width="0" />
<rect x="236.13" y="266.70" width="1.41" height="15.50" fill="rgb(123,123,123)" stroke="none" stroke-width="0" />
<rect x="237.51" y="266.70" width="0.65" height="15.50" fill="rgb(119,119,119)" stroke="none" stroke-width="0" />
<rect x="238.14" y="266.70" width="1.19" height="15.50" fill="rgb(148,148,148)" stroke="none" stroke-width="0" />
<rect x="240.54" y="266.70" width="0.73" height="15.50" fill="rgb(0,0,0)" stroke="none" stroke-width="0" />
<rect x="241.25" y="266.70" width="1.28" height="15.50" fill="rgb(0,0,0)" stroke="none" stroke-width="0" />
<rect x="242.51" y="266.70" width="0.66" height="15.50" fill="rgb(19,19,19)" stroke="none" stroke-width="0" />
<rect x="243.15" y="266.70" width="1.12" height="15.50" fill="rgb(58,58,58)" stroke="none" stroke-width="0" />
<rect x="244.25" y="266.70" width="1.39" height="15.50" fill="rgb(0,0,0)" stroke="none" stroke-width="0" />
<rect x="245.62" y="266.70" width="1.00" height="15.50" fill="rgb(0,0,0)" stroke="none" stroke-width="0" />
<rect x="246.60" y="266.70" width="1.00" height="15.50" fill="rgb(0,0,0)" stroke="none" stroke-width="0" />
<rect x="247.58" y="266.70" width="0.84" height="15.50" fill="rgb(46,46,46)" stroke="none" stroke-width="0" />
<rect x="248.39" y="266.70" width="0.63" height="15.50" fill="rgb(53,53,53)" stroke="none" stroke-width="0" />
<rect x="147.80" y="282.20" width="101.20" height="4.60" fill="url(#rb)" stroke="none" stroke-width="0" />
<text x="146.10" y="291.89" font-size="3.3" font-weight="bold" font-style="normal" text-anchor="middle" fill="#222" >0.0</text>
<text x="248.50" y="291.92" font-size="3.4" font-weight="bold" font-style="normal" text-anchor="middle" fill="#222" >22,000</text>
<text x="197.15" y="292.28" font-size="4.4" font-weight="bold" font-style="normal" text-anchor="middle" fill="#111" >Rank in ordered dataset</text>
<text x="326.80" y="215.67" font-size="5.2" font-weight="bold" font-style="normal" text-anchor="middle" fill="#111" >G<tspan font-size="3.4" dy="1.2">1</tspan><tspan dy="-1.2">-S Transition (</tspan><tspan font-style="italic">Reactome</tspan>)</text>
<text transform="translate(264.50,243.50) rotate(-90)" font-size="4.3" font-weight="bold" text-anchor="middle" fill="#222">Enrichment score (ES)</text>
<rect x="276.60" y="217.90" width="106.50" height="69.10" fill="none" stroke="#9a9a9a" stroke-width="0.6" />
<line x1="276.60" y1="217.90" x2="383.10" y2="217.90" stroke="#666" stroke-width="0.7" />
<line x1="276.60" y1="217.90" x2="276.60" y2="287.00" stroke="#3a3a3a" stroke-width="0.95" />
<line x1="276.60" y1="224.80" x2="379.60" y2="224.80" stroke="#c4c4c4" stroke-width="0.5" />
<text x="271.40" y="221.39" font-size="3.3" font-weight="bold" font-style="normal" text-anchor="middle" fill="#222" >0.00</text>
<text x="271.40" y="264.19" font-size="3.3" font-weight="bold" font-style="normal" text-anchor="middle" fill="#222" >-0.40</text>
<path d="M277.00,224.96 L277.12,224.92 L277.26,224.55 L277.44,224.49 L277.63,224.68 L277.84,224.56 L278.07,224.47 L278.30,224.30 L278.54,224.38 L278.77,224.39 L279.00,224.43 L279.23,224.40 L279.48,224.68 L279.74,224.90 L280.01,225.27 L280.28,225.64 L280.55,225.89 L280.81,225.98 L281.06,226.13 L281.29,226.19 L281.50,226.14 L281.69,226.08 L281.86,226.10 L282.02,225.87 L282.17,225.66 L282.31,225.57 L282.45,225.16 L282.58,224.87 L282.72,224.46 L282.85,224.10 L283.00,223.94 L283.15,223.61 L283.28,223.45 L283.42,223.32 L283.55,222.89 L283.69,222.41 L283.83,222.36 L283.98,222.04 L284.14,221.77 L284.31,221.61 L284.50,221.39 L284.71,221.28 L284.94,221.05 L285.19,221.22 L285.45,221.20 L285.72,220.93 L285.99,221.15 L286.26,221.16 L286.52,221.09 L286.77,221.12 L287.00,221.10 L287.22,221.23 L287.43,221.06 L287.64,221.16 L287.84,220.98 L288.03,221.15 L288.22,221.13 L288.42,220.96 L288.61,220.98 L288.80,221.08 L289.00,220.98 L289.20,220.86 L289.40,220.71 L289.60,220.68 L289.80,220.75 L290.00,220.50 L290.20,220.70 L290.40,220.43 L290.60,220.62 L290.80,220.41 L291.00,220.66 L291.20,220.63 L291.40,220.64 L291.60,220.75 L291.80,220.92 L292.00,221.04 L292.20,221.08 L292.40,221.19 L292.60,221.44 L292.80,221.73 L293.00,221.74 L293.20,221.66 L293.40,222.04 L293.60,222.11 L293.80,222.29 L294.00,222.14 L294.20,222.44 L294.40,222.31 L294.60,222.63 L294.80,222.61 L295.00,222.70 L295.20,223.05 L295.40,222.91 L295.60,223.19 L295.80,223.44 L296.00,223.35 L296.20,223.47 L296.40,223.83 L296.60,223.78 L296.80,223.99 L297.00,223.84 L297.20,224.03 L297.40,224.04 L297.60,224.29 L297.80,224.15 L298.00,224.51 L298.20,224.23 L298.40,224.50 L298.60,224.27 L298.80,224.34 L299.00,224.51 L299.20,224.22 L299.40,224.14 L299.60,224.20 L299.80,223.96 L300.00,223.69 L300.20,223.87 L300.40,223.43 L300.60,223.25 L300.80,223.24 L301.00,223.24 L301.20,223.21 L301.40,222.91 L301.60,222.93 L301.80,222.76 L302.00,222.86 L302.20,222.93 L302.40,222.89 L302.60,222.93 L302.80,222.88 L303.00,222.93 L303.20,222.90 L303.40,222.87 L303.60,222.84 L303.80,223.07 L304.00,223.04 L304.20,223.05 L304.40,223.27 L304.60,223.53 L304.80,223.37 L305.00,223.63 L305.20,223.67 L305.40,223.82 L305.60,223.81 L305.80,224.22 L306.00,224.10 L306.20,224.35 L306.40,224.41 L306.60,224.39 L306.80,224.70 L307.00,224.67 L307.20,224.76 L307.40,224.86 L307.60,225.00 L307.80,225.08 L308.00,225.37 L308.20,225.43 L308.40,225.71 L308.60,225.80 L308.80,225.94 L309.00,225.81 L309.20,226.02 L309.40,226.11 L309.60,226.39 L309.80,226.57 L310.00,226.81 L310.20,226.95 L310.40,226.96 L310.60,227.18 L310.80,227.37 L311.00,227.33 L311.20,227.46 L311.40,227.71 L311.60,227.71 L311.80,228.02 L312.00,227.94 L312.20,227.99 L312.40,228.12 L312.60,228.24 L312.80,228.36 L313.00,228.61 L313.19,228.73 L313.35,228.81 L313.51,229.06 L313.66,229.05 L313.81,229.45 L313.98,229.64 L314.18,229.76 L314.41,229.89 L314.68,230.18 L315.00,230.53 L315.38,230.72 L315.81,231.27 L316.28,231.78 L316.78,232.17 L317.31,232.66 L317.86,233.46 L318.41,233.86 L318.95,234.46 L319.49,235.13 L320.00,235.54 L320.50,235.93 L321.00,236.67 L321.50,236.96 L322.00,237.35 L322.50,238.08 L323.00,238.38 L323.50,238.95 L324.00,239.64 L324.50,240.07 L325.00,240.33 L325.50,240.97 L326.00,241.43 L326.50,241.94 L327.00,242.32 L327.50,242.92 L328.00,243.21 L328.50,243.75 L329.00,244.25 L329.50,244.90 L330.00,245.05 L330.50,245.74 L331.00,245.99 L331.50,246.58 L332.00,246.96 L332.50,247.42 L333.00,247.96 L333.50,248.26 L334.00,248.58 L334.50,248.98 L335.00,249.35 L335.50,250.00 L336.00,250.28 L336.50,250.75 L337.00,250.99 L337.50,251.09 L338.00,251.63 L338.50,251.99 L339.00,252.28 L339.50,252.50 L340.00,252.75 L340.50,253.08 L341.00,253.48 L341.50,253.56 L342.00,253.92 L342.50,254.16 L343.00,254.58 L343.50,254.78 L344.00,255.07 L344.50,255.28 L345.00,255.33 L345.51,255.55 L346.03,255.88 L346.56,256.04 L347.10,256.33 L347.62,256.65 L348.14,256.96 L348.65,257.06 L349.13,257.34 L349.58,257.28 L350.00,257.55 L350.38,257.93 L350.73,257.78 L351.05,258.00 L351.34,258.00 L351.62,258.12 L351.90,258.51 L352.16,258.64 L352.43,258.63 L352.71,258.55 L353.00,258.73 L353.30,258.84 L353.62,259.13 L353.93,259.29 L354.25,259.35 L354.56,259.53 L354.87,259.53 L355.17,259.80 L355.46,260.05 L355.74,260.05 L356.00,259.86 L356.24,259.99 L356.46,260.00 L356.67,259.73 L356.87,259.83 L357.06,259.54 L357.25,259.49 L357.43,259.26 L357.62,259.39 L357.80,259.27 L358.00,259.23 L358.20,259.18 L358.40,259.45 L358.60,259.52 L358.80,259.98 L359.00,260.35 L359.20,260.37 L359.40,260.74 L359.60,260.94 L359.80,261.08 L360.00,261.27 L360.20,261.36 L360.40,261.22 L360.60,261.02 L360.80,261.04 L361.00,260.65 L361.20,260.63 L361.40,260.44 L361.60,260.36 L361.80,260.32 L362.00,260.10 L362.20,260.32 L362.40,260.39 L362.60,260.68 L362.80,261.02 L363.00,261.15 L363.20,261.18 L363.40,261.57 L363.60,261.85 L363.80,262.05 L364.00,262.05 L364.20,262.11 L364.41,261.77 L364.62,261.98 L364.82,261.76 L365.03,261.56 L365.24,261.50 L365.44,261.34 L365.63,260.94 L365.82,261.12 L366.00,261.09 L366.17,260.95 L366.33,261.24 L366.49,261.32 L366.64,261.35 L366.78,261.74 L366.92,261.70 L367.07,262.06 L367.21,262.18 L367.35,262.28 L367.50,262.52 L367.65,262.61 L367.81,262.65 L367.97,263.05 L368.12,262.86 L368.28,262.95 L368.44,263.22 L368.59,263.41 L368.73,263.39 L368.87,263.43 L369.00,263.29 L369.12,263.28 L369.22,263.05 L369.32,262.89 L369.41,262.80 L369.50,262.43 L369.59,262.23 L369.68,262.21 L369.78,261.72 L369.88,261.62 L370.00,261.30 L370.13,260.79 L370.27,260.44 L370.41,260.00 L370.56,259.51 L370.72,258.72 L370.88,258.19 L371.03,257.74 L371.19,257.26 L371.35,256.74 L371.50,256.23 L371.65,256.07 L371.80,255.90 L371.95,255.41 L372.10,255.22 L372.25,254.92 L372.40,254.70 L372.55,254.61 L372.70,254.15 L372.85,253.98 L373.00,253.59 L373.15,253.26 L373.31,253.02 L373.47,252.34 L373.62,252.20 L373.78,251.60 L373.94,251.29 L374.09,250.90 L374.23,250.40 L374.37,249.84 L374.50,249.52 L374.62,248.77 L374.73,248.45 L374.84,247.85 L374.94,247.38 L375.03,246.95 L375.12,246.37 L375.22,245.75 L375.31,245.05 L375.40,244.42 L375.50,243.89 L375.60,243.15 L375.69,242.46 L375.78,241.96 L375.88,240.90 L375.97,240.39 L376.06,239.48 L376.16,238.74 L376.27,238.04 L376.38,237.32 L376.50,236.89 L376.63,236.31 L376.77,236.01 L376.91,235.63 L377.06,235.55 L377.22,235.29 L377.38,234.86 L377.53,234.64 L377.69,234.41 L377.85,233.81 L378.00,233.26 L378.15,232.74 L378.31,232.06 L378.47,231.50 L378.62,230.63 L378.78,229.84 L378.94,229.21 L379.09,228.26 L379.23,227.76 L379.37,227.07 L379.50,226.47 L379.62,226.17 L379.75,225.62 L379.87,225.48 L379.98,225.21 L380.09,224.82 L380.20,224.68 L380.29,224.58 L380.37,224.35 L380.44,224.22 L380.50,224.00" fill="none" stroke="#5ea444" stroke-width="1.05" stroke-linejoin="round"/>
<text x="287.90" y="246.75" font-size="4.3" font-weight="bold" font-style="normal" text-anchor="start" fill="#111" >NES = -1.85</text>
<text x="287.90" y="251.85" font-size="4.3" font-weight="bold" font-style="normal" text-anchor="start" fill="#111" ><tspan font-style="italic">P</tspan> &lt; 0.01</text>
<text x="287.90" y="256.85" font-size="4.3" font-weight="bold" font-style="normal" text-anchor="start" fill="#111" >FDR = 0.01</text>
<rect x="278.57" y="266.30" width="0.64" height="15.70" fill="rgb(135,135,135)" stroke="none" stroke-width="0" />
<rect x="279.19" y="266.30" width="0.72" height="15.70" fill="rgb(153,153,153)" stroke="none" stroke-width="0" />
<rect x="282.56" y="266.30" width="1.10" height="15.70" fill="rgb(135,135,135)" stroke="none" stroke-width="0" />
<rect x="283.64" y="266.30" width="1.36" height="15.70" fill="rgb(65,65,65)" stroke="none" stroke-width="0" />
<rect x="284.98" y="266.30" width="1.33" height="15.70" fill="rgb(94,94,94)" stroke="none" stroke-width="0" />
<rect x="286.29" y="266.30" width="0.77" height="15.70" fill="rgb(124,124,124)" stroke="none" stroke-width="0" />
<rect x="287.04" y="266.30" width="1.37" height="15.70" fill="rgb(165,165,165)" stroke="none" stroke-width="0" />
<rect x="288.39" y="266.30" width="1.07" height="15.70" fill="rgb(127,127,127)" stroke="none" stroke-width="0" />
<rect x="289.44" y="266.30" width="0.83" height="15.70" fill="rgb(94,94,94)" stroke="none" stroke-width="0" />
<rect x="290.25" y="266.30" width="1.24" height="15.70" fill="rgb(131,131,131)" stroke="none" stroke-width="0" />
<rect x="291.47" y="266.30" width="0.73" height="15.70" fill="rgb(133,133,133)" stroke="none" stroke-width="0" />
<rect x="292.94" y="266.30" width="1.05" height="15.70" fill="rgb(161,161,161)" stroke="none" stroke-width="0" />
<rect x="293.96" y="266.30" width="1.03" height="15.70" fill="rgb(105,105,105)" stroke="none" stroke-width="0" />
<rect x="294.97" y="266.30" width="1.15" height="15.70" fill="rgb(93,93,93)" stroke="none" stroke-width="0" />
<rect x="296.09" y="266.30" width="0.92" height="15.70" fill="rgb(92,92,92)" stroke="none" stroke-width="0" />
<rect x="296.99" y="266.30" width="1.10" height="15.70" fill="rgb(107,107,107)" stroke="none" stroke-width="0" />
<rect x="298.07" y="266.30" width="1.16" height="15.70" fill="rgb(69,69,69)" stroke="none" stroke-width="0" />
<rect x="300.61" y="266.30" width="0.97" height="15.70" fill="rgb(162,162,162)" stroke="none" stroke-width="0" />
<rect x="301.55" y="266.30" width="1.38" height="15.70" fill="rgb(104,104,104)" stroke="none" stroke-width="0" />
<rect x="302.91" y="266.30" width="0.70" height="15.70" fill="rgb(78,78,78)" stroke="none" stroke-width="0" />
<rect x="304.63" y="266.30" width="0.88" height="15.70" fill="rgb(81,81,81)" stroke="none" stroke-width="0" />
<rect x="305.49" y="266.30" width="0.65" height="15.70" fill="rgb(147,147,147)" stroke="none" stroke-width="0" />
<rect x="307.24" y="266.30" width="1.17" height="15.70" fill="rgb(105,105,105)" stroke="none" stroke-width="0" />
<rect x="308.39" y="266.30" width="1.28" height="15.70" fill="rgb(110,110,110)" stroke="none" stroke-width="0" />
<rect x="309.65" y="266.30" width="1.30" height="15.70" fill="rgb(117,117,117)" stroke="none" stroke-width="0" />
<rect x="310.93" y="266.30" width="1.09" height="15.70" fill="rgb(141,141,141)" stroke="none" stroke-width="0" />
<rect x="312.00" y="266.30" width="1.00" height="15.70" fill="rgb(130,130,130)" stroke="none" stroke-width="0" />
<rect x="312.98" y="266.30" width="0.90" height="15.70" fill="rgb(150,150,150)" stroke="none" stroke-width="0" />
<rect x="313.86" y="266.30" width="1.11" height="15.70" fill="rgb(62,62,62)" stroke="none" stroke-width="0" />
<rect x="314.95" y="266.30" width="1.02" height="15.70" fill="rgb(97,97,97)" stroke="none" stroke-width="0" />
<rect x="315.95" y="266.30" width="0.76" height="15.70" fill="rgb(107,107,107)" stroke="none" stroke-width="0" />
<rect x="317.50" y="266.30" width="1.39" height="15.70" fill="rgb(72,72,72)" stroke="none" stroke-width="0" />
<rect x="319.65" y="266.30" width="1.31" height="15.70" fill="rgb(90,90,90)" stroke="none" stroke-width="0" />
<rect x="320.94" y="266.30" width="0.70" height="15.70" fill="rgb(82,82,82)" stroke="none" stroke-width="0" />
<rect x="321.62" y="266.30" width="0.90" height="15.70" fill="rgb(161,161,161)" stroke="none" stroke-width="0" />
<rect x="323.76" y="266.30" width="0.92" height="15.70" fill="rgb(63,63,63)" stroke="none" stroke-width="0" />
<rect x="324.66" y="266.30" width="0.78" height="15.70" fill="rgb(102,102,102)" stroke="none" stroke-width="0" />
<rect x="325.43" y="266.30" width="1.22" height="15.70" fill="rgb(111,111,111)" stroke="none" stroke-width="0" />
<rect x="327.42" y="266.30" width="0.83" height="15.70" fill="rgb(133,133,133)" stroke="none" stroke-width="0" />
<rect x="328.24" y="266.30" width="0.75" height="15.70" fill="rgb(176,176,176)" stroke="none" stroke-width="0" />
<rect x="329.61" y="266.30" width="1.10" height="15.70" fill="rgb(158,158,158)" stroke="none" stroke-width="0" />
<rect x="330.69" y="266.30" width="0.64" height="15.70" fill="rgb(105,105,105)" stroke="none" stroke-width="0" />
<rect x="331.32" y="266.30" width="1.13" height="15.70" fill="rgb(198,198,198)" stroke="none" stroke-width="0" />
<rect x="332.42" y="266.30" width="0.81" height="15.70" fill="rgb(120,120,120)" stroke="none" stroke-width="0" />
<rect x="333.21" y="266.30" width="0.89" height="15.70" fill="rgb(194,194,194)" stroke="none" stroke-width="0" />
<rect x="340.11" y="266.30" width="0.75" height="15.70" fill="rgb(71,71,71)" stroke="none" stroke-width="0" />
<rect x="340.84" y="266.30" width="1.18" height="15.70" fill="rgb(122,122,122)" stroke="none" stroke-width="0" />
<rect x="342.00" y="266.30" width="0.77" height="15.70" fill="rgb(111,111,111)" stroke="none" stroke-width="0" />
<rect x="342.75" y="266.30" width="1.23" height="15.70" fill="rgb(87,87,87)" stroke="none" stroke-width="0" />
<rect x="343.96" y="266.30" width="0.78" height="15.70" fill="rgb(20,20,20)" stroke="none" stroke-width="0" />
<rect x="344.72" y="266.30" width="0.92" height="15.70" fill="rgb(71,71,71)" stroke="none" stroke-width="0" />
<rect x="345.62" y="266.30" width="1.40" height="15.70" fill="rgb(76,76,76)" stroke="none" stroke-width="0" />
<rect x="347.00" y="266.30" width="1.31" height="15.70" fill="rgb(72,72,72)" stroke="none" stroke-width="0" />
<rect x="350.86" y="266.30" width="1.27" height="15.70" fill="rgb(165,165,165)" stroke="none" stroke-width="0" />
<rect x="352.11" y="266.30" width="0.67" height="15.70" fill="rgb(70,70,70)" stroke="none" stroke-width="0" />
<rect x="352.76" y="266.30" width="1.37" height="15.70" fill="rgb(60,60,60)" stroke="none" stroke-width="0" />
<rect x="354.11" y="266.30" width="1.12" height="15.70" fill="rgb(51,51,51)" stroke="none" stroke-width="0" />
<rect x="355.21" y="266.30" width="1.40" height="15.70" fill="rgb(94,94,94)" stroke="none" stroke-width="0" />
<rect x="356.58" y="266.30" width="1.34" height="15.70" fill="rgb(86,86,86)" stroke="none" stroke-width="0" />
<rect x="360.89" y="266.30" width="0.64" height="15.70" fill="rgb(26,26,26)" stroke="none" stroke-width="0" />
<rect x="361.51" y="266.30" width="0.98" height="15.70" fill="rgb(34,34,34)" stroke="none" stroke-width="0" />
<rect x="362.47" y="266.30" width="1.00" height="15.70" fill="rgb(53,53,53)" stroke="none" stroke-width="0" />
<rect x="363.45" y="266.30" width="1.27" height="15.70" fill="rgb(74,74,74)" stroke="none" stroke-width="0" />
<rect x="364.70" y="266.30" width="1.32" height="15.70" fill="rgb(56,56,56)" stroke="none" stroke-width="0" />
<rect x="366.00" y="266.30" width="0.65" height="15.70" fill="rgb(71,71,71)" stroke="none" stroke-width="0" />
<rect x="368.91" y="266.30" width="1.42" height="15.70" fill="rgb(137,137,137)" stroke="none" stroke-width="0" />
<rect x="370.31" y="266.30" width="1.00" height="15.70" fill="rgb(180,180,180)" stroke="none" stroke-width="0" />
<rect x="371.29" y="266.30" width="0.68" height="15.70" fill="rgb(46,46,46)" stroke="none" stroke-width="0" />
<rect x="371.95" y="266.30" width="1.35" height="15.70" fill="rgb(55,55,55)" stroke="none" stroke-width="0" />
<rect x="374.38" y="266.30" width="1.17" height="15.70" fill="rgb(78,78,78)" stroke="none" stroke-width="0" />
<rect x="375.53" y="266.30" width="0.91" height="15.70" fill="rgb(6,6,6)" stroke="none" stroke-width="0" />
<rect x="376.42" y="266.30" width="0.69" height="15.70" fill="rgb(54,54,54)" stroke="none" stroke-width="0" />
<rect x="377.09" y="266.30" width="1.24" height="15.70" fill="rgb(56,56,56)" stroke="none" stroke-width="0" />
<rect x="378.31" y="266.30" width="1.13" height="15.70" fill="rgb(7,7,7)" stroke="none" stroke-width="0" />
<rect x="277.10" y="282.00" width="102.50" height="4.40" fill="url(#rb)" stroke="none" stroke-width="0" />
<text x="275.40" y="291.79" font-size="3.3" font-weight="bold" font-style="normal" text-anchor="middle" fill="#222" >0.0</text>
<text x="379.10" y="291.82" font-size="3.4" font-weight="bold" font-style="normal" text-anchor="middle" fill="#222" >22,000</text>
<text x="327.10" y="292.18" font-size="4.4" font-weight="bold" font-style="normal" text-anchor="middle" fill="#111" >Rank in ordered dataset</text>
<text x="465.80" y="212.17" font-size="5.2" font-weight="bold" font-style="normal" text-anchor="middle" fill="#111" >Cell fate commitment (GO)</text>
<text transform="translate(400.20,245.00) rotate(-90)" font-size="4.3" font-weight="bold" text-anchor="middle" fill="#222">Enrichment score (ES)</text>
<rect x="410.30" y="216.90" width="106.00" height="70.00" fill="none" stroke="#9a9a9a" stroke-width="0.6" />
<line x1="410.30" y1="216.90" x2="516.30" y2="216.90" stroke="#666" stroke-width="0.7" />
<line x1="410.30" y1="216.90" x2="410.30" y2="286.90" stroke="#3a3a3a" stroke-width="0.95" />
<line x1="410.30" y1="261.30" x2="513.20" y2="261.30" stroke="#c4c4c4" stroke-width="0.5" />
<text x="405.10" y="223.09" font-size="3.3" font-weight="bold" font-style="normal" text-anchor="middle" fill="#222" >0.35</text>
<text x="405.10" y="262.49" font-size="3.3" font-weight="bold" font-style="normal" text-anchor="middle" fill="#222" >0.0</text>
<path d="M410.50,251.51 L410.59,251.37 L410.70,251.02 L410.82,250.75 L410.97,250.36 L411.12,249.74 L411.29,249.26 L411.47,249.06 L411.64,248.35 L411.82,247.83 L412.00,247.57 L412.18,246.85 L412.37,246.41 L412.56,245.68 L412.76,245.12 L412.97,244.31 L413.18,243.83 L413.38,243.26 L413.59,242.49 L413.80,241.92 L414.00,241.26 L414.20,240.41 L414.41,239.98 L414.62,239.24 L414.82,238.45 L415.03,237.67 L415.24,237.30 L415.44,236.53 L415.63,236.01 L415.82,235.52 L416.00,234.97 L416.17,234.62 L416.33,234.05 L416.49,233.84 L416.64,233.41 L416.78,233.30 L416.92,233.03 L417.07,232.53 L417.21,232.34 L417.35,232.18 L417.50,232.26 L417.65,231.94 L417.81,231.95 L417.97,231.81 L418.12,231.90 L418.28,231.87 L418.44,231.87 L418.59,231.92 L418.73,231.84 L418.87,231.79 L419.00,231.46 L419.12,231.18 L419.22,230.68 L419.31,230.16 L419.39,229.44 L419.47,228.61 L419.55,228.21 L419.64,227.62 L419.74,227.03 L419.86,226.42 L420.00,226.07 L420.16,225.60 L420.34,225.59 L420.53,225.33 L420.73,225.10 L420.94,224.93 L421.15,225.14 L421.37,225.13 L421.58,224.77 L421.80,224.97 L422.00,224.77 L422.20,224.62 L422.41,224.63 L422.62,224.77 L422.82,224.80 L423.03,224.50 L423.24,224.70 L423.44,224.48 L423.63,224.69 L423.82,224.51 L424.00,224.63 L424.17,224.57 L424.33,224.28 L424.49,224.31 L424.64,223.92 L424.78,223.68 L424.92,223.70 L425.07,223.34 L425.21,223.25 L425.35,223.18 L425.50,223.14 L425.65,222.88 L425.81,222.76 L425.97,222.97 L426.12,222.71 L426.28,222.88 L426.44,222.80 L426.59,222.56 L426.73,222.53 L426.87,222.48 L427.00,222.45 L427.12,222.36 L427.23,222.27 L427.34,222.22 L427.44,222.26 L427.53,222.03 L427.62,221.92 L427.72,221.93 L427.81,221.66 L427.90,221.57 L428.00,221.67 L428.10,221.35 L428.18,221.17 L428.27,220.77 L428.35,220.69 L428.44,220.52 L428.53,220.10 L428.63,220.09 L428.74,219.89 L428.86,219.50 L429.00,219.54 L429.16,219.35 L429.34,219.30 L429.53,219.07 L429.73,219.09 L429.94,219.01 L430.15,218.69 L430.37,218.64 L430.58,218.81 L430.80,218.88 L431.00,218.61 L431.20,218.70 L431.41,218.80 L431.62,218.79 L431.82,218.90 L432.03,218.99 L432.24,219.12 L432.44,219.29 L432.63,219.27 L432.82,219.35 L433.00,219.50 L433.17,219.20 L433.33,219.30 L433.49,219.24 L433.64,218.95 L433.78,218.77 L433.92,218.83 L434.07,218.52 L434.21,218.41 L434.35,218.46 L434.50,218.57 L434.65,218.45 L434.79,218.67 L434.93,218.87 L435.08,219.27 L435.22,219.38 L435.36,219.78 L435.51,219.79 L435.67,220.08 L435.83,220.39 L436.00,220.63 L436.18,220.61 L436.36,220.65 L436.55,220.72 L436.74,220.96 L436.94,220.92 L437.15,221.20 L437.35,221.26 L437.57,221.07 L437.78,221.12 L438.00,221.31 L438.22,221.22 L438.45,221.21 L438.68,220.95 L438.92,220.75 L439.16,220.68 L439.41,220.74 L439.65,220.45 L439.90,220.39 L440.15,220.37 L440.40,220.37 L440.65,220.42 L440.89,220.68 L441.13,220.52 L441.37,220.60 L441.62,221.08 L441.87,221.22 L442.13,221.44 L442.41,221.42 L442.69,221.78 L443.00,221.95 L443.33,221.88 L443.69,222.25 L444.06,222.47 L444.45,222.61 L444.84,222.76 L445.24,222.89 L445.63,223.12 L446.01,223.29 L446.37,223.44 L446.70,223.83 L447.00,223.93 L447.28,224.33 L447.54,224.29 L447.78,224.81 L448.02,224.96 L448.26,225.25 L448.51,225.46 L448.78,225.66 L449.07,225.74 L449.40,225.73 L449.76,226.15 L450.14,226.10 L450.55,226.28 L450.97,226.53 L451.41,226.61 L451.85,226.69 L452.29,227.00 L452.74,227.03 L453.17,227.08 L453.60,227.21 L454.02,227.60 L454.42,227.65 L454.83,227.94 L455.23,227.98 L455.64,228.12 L456.05,228.44 L456.47,228.76 L456.90,228.77 L457.34,229.24 L457.80,229.55 L458.29,229.79 L458.81,230.11 L459.36,230.15 L459.91,230.71 L460.47,231.14 L461.03,231.21 L461.57,231.65 L462.08,232.01 L462.56,232.46 L463.00,232.77 L463.38,233.13 L463.72,233.58 L464.03,233.65 L464.31,234.00 L464.57,234.37 L464.83,234.71 L465.10,235.04 L465.37,235.72 L465.67,236.05 L466.00,236.16 L466.36,236.69 L466.74,237.03 L467.13,237.45 L467.53,237.88 L467.94,238.41 L468.35,238.82 L468.77,239.18 L469.18,239.55 L469.60,240.02 L470.00,240.37 L470.40,240.93 L470.80,241.41 L471.20,241.70 L471.60,242.01 L472.00,242.46 L472.40,242.94 L472.80,243.43 L473.20,243.90 L473.60,244.16 L474.00,244.71 L474.40,245.05 L474.80,245.40 L475.20,245.80 L475.60,246.27 L476.00,246.76 L476.40,247.06 L476.80,247.54 L477.20,247.80 L477.60,248.04 L478.00,248.41 L478.40,248.68 L478.80,248.63 L479.20,248.88 L479.60,248.98 L480.00,249.21 L480.40,249.30 L480.80,249.17 L481.20,249.42 L481.60,249.48 L482.00,249.42 L482.40,249.63 L482.80,249.67 L483.20,250.08 L483.60,250.21 L484.00,250.47 L484.40,250.62 L484.80,250.75 L485.20,250.95 L485.60,251.06 L486.00,251.06 L486.40,251.38 L486.80,251.33 L487.20,251.53 L487.60,251.89 L488.00,251.78 L488.40,251.93 L488.80,252.07 L489.20,252.48 L489.60,252.36 L490.00,252.43 L490.40,252.84 L490.80,252.70 L491.20,253.06 L491.60,253.10 L492.00,253.26 L492.40,253.40 L492.80,253.37 L493.20,253.56 L493.60,253.41 L494.00,253.79 L494.40,253.85 L494.80,254.07 L495.20,254.03 L495.60,254.42 L496.00,254.66 L496.40,254.53 L496.80,254.79 L497.20,255.04 L497.60,255.28 L498.00,255.21 L498.40,255.31 L498.82,255.44 L499.23,255.67 L499.65,255.82 L500.06,255.78 L500.47,255.86 L500.87,255.95 L501.26,256.00 L501.64,256.10 L502.00,256.05 L502.35,256.27 L502.70,256.51 L503.04,256.38 L503.37,256.56 L503.69,256.42 L503.99,256.66 L504.28,256.73 L504.54,256.73 L504.79,256.70 L505.00,256.69 L505.18,256.73 L505.31,256.76 L505.42,256.41 L505.50,256.30 L505.56,256.42 L505.62,256.39 L505.69,256.18 L505.77,256.12 L505.87,256.22 L506.00,256.09 L506.15,256.24 L506.32,256.38 L506.50,256.73 L506.68,256.88 L506.88,257.11 L507.08,257.55 L507.30,257.92 L507.52,257.96 L507.75,258.35 L508.00,258.47 L508.26,258.83 L508.55,258.93 L508.86,259.02 L509.18,259.20 L509.50,259.31 L509.82,259.65 L510.14,259.79 L510.45,259.88 L510.74,260.11 L511.00,260.24 L511.25,260.53 L511.48,260.43 L511.70,260.83 L511.92,260.75 L512.12,260.88 L512.32,260.93 L512.50,261.14 L512.68,261.23 L512.85,261.22 L513.00,261.29 L513.14,261.48 L513.28,261.64 L513.41,261.60 L513.52,261.83 L513.62,262.02 L513.72,261.96 L513.80,261.98 L513.88,262.07 L513.95,262.32 L514.00,262.30" fill="none" stroke="#5ea444" stroke-width="1.05" stroke-linejoin="round"/>
<text x="484.70" y="227.45" font-size="4.3" font-weight="bold" font-style="normal" text-anchor="start" fill="#111" >NES = 1.80</text>
<text x="484.70" y="232.75" font-size="4.3" font-weight="bold" font-style="normal" text-anchor="start" fill="#111" ><tspan font-style="italic">P</tspan> &lt; 0.01</text>
<text x="484.70" y="238.15" font-size="4.3" font-weight="bold" font-style="normal" text-anchor="start" fill="#111" >FDR = 0.03</text>
<rect x="410.90" y="266.00" width="1.08" height="15.60" fill="rgb(99,99,99)" stroke="none" stroke-width="0" />
<rect x="411.96" y="266.00" width="0.84" height="15.60" fill="rgb(107,107,107)" stroke="none" stroke-width="0" />
<rect x="412.78" y="266.00" width="1.35" height="15.60" fill="rgb(81,81,81)" stroke="none" stroke-width="0" />
<rect x="414.11" y="266.00" width="1.11" height="15.60" fill="rgb(116,116,116)" stroke="none" stroke-width="0" />
<rect x="415.20" y="266.00" width="1.04" height="15.60" fill="rgb(113,113,113)" stroke="none" stroke-width="0" />
<rect x="416.22" y="266.00" width="1.13" height="15.60" fill="rgb(44,44,44)" stroke="none" stroke-width="0" />
<rect x="418.33" y="266.00" width="1.11" height="15.60" fill="rgb(56,56,56)" stroke="none" stroke-width="0" />
<rect x="419.41" y="266.00" width="1.30" height="15.60" fill="rgb(71,71,71)" stroke="none" stroke-width="0" />
<rect x="421.84" y="266.00" width="0.66" height="15.60" fill="rgb(41,41,41)" stroke="none" stroke-width="0" />
<rect x="422.48" y="266.00" width="0.79" height="15.60" fill="rgb(92,92,92)" stroke="none" stroke-width="0" />
<rect x="423.25" y="266.00" width="0.72" height="15.60" fill="rgb(36,36,36)" stroke="none" stroke-width="0" />
<rect x="424.77" y="266.00" width="1.04" height="15.60" fill="rgb(53,53,53)" stroke="none" stroke-width="0" />
<rect x="426.54" y="266.00" width="0.65" height="15.60" fill="rgb(92,92,92)" stroke="none" stroke-width="0" />
<rect x="428.21" y="266.00" width="0.74" height="15.60" fill="rgb(44,44,44)" stroke="none" stroke-width="0" />
<rect x="428.93" y="266.00" width="0.67" height="15.60" fill="rgb(32,32,32)" stroke="none" stroke-width="0" />
<rect x="429.57" y="266.00" width="0.77" height="15.60" fill="rgb(60,60,60)" stroke="none" stroke-width="0" />
<rect x="430.33" y="266.00" width="1.00" height="15.60" fill="rgb(69,69,69)" stroke="none" stroke-width="0" />
<rect x="431.31" y="266.00" width="1.25" height="15.60" fill="rgb(17,17,17)" stroke="none" stroke-width="0" />
<rect x="432.54" y="266.00" width="1.00" height="15.60" fill="rgb(95,95,95)" stroke="none" stroke-width="0" />
<rect x="435.78" y="266.00" width="1.33" height="15.60" fill="rgb(37,37,37)" stroke="none" stroke-width="0" />
<rect x="437.09" y="266.00" width="1.02" height="15.60" fill="rgb(23,23,23)" stroke="none" stroke-width="0" />
<rect x="438.08" y="266.00" width="0.69" height="15.60" fill="rgb(100,100,100)" stroke="none" stroke-width="0" />
<rect x="438.75" y="266.00" width="0.99" height="15.60" fill="rgb(75,75,75)" stroke="none" stroke-width="0" />
<rect x="439.72" y="266.00" width="0.83" height="15.60" fill="rgb(125,125,125)" stroke="none" stroke-width="0" />
<rect x="441.52" y="266.00" width="0.94" height="15.60" fill="rgb(55,55,55)" stroke="none" stroke-width="0" />
<rect x="442.44" y="266.00" width="0.70" height="15.60" fill="rgb(98,98,98)" stroke="none" stroke-width="0" />
<rect x="443.12" y="266.00" width="1.12" height="15.60" fill="rgb(88,88,88)" stroke="none" stroke-width="0" />
<rect x="444.22" y="266.00" width="1.23" height="15.60" fill="rgb(111,111,111)" stroke="none" stroke-width="0" />
<rect x="445.43" y="266.00" width="0.97" height="15.60" fill="rgb(121,121,121)" stroke="none" stroke-width="0" />
<rect x="446.37" y="266.00" width="1.32" height="15.60" fill="rgb(84,84,84)" stroke="none" stroke-width="0" />
<rect x="447.67" y="266.00" width="1.03" height="15.60" fill="rgb(203,203,203)" stroke="none" stroke-width="0" />
<rect x="450.53" y="266.00" width="1.09" height="15.60" fill="rgb(51,51,51)" stroke="none" stroke-width="0" />
<rect x="451.59" y="266.00" width="0.77" height="15.60" fill="rgb(37,37,37)" stroke="none" stroke-width="0" />
<rect x="452.35" y="266.00" width="1.36" height="15.60" fill="rgb(93,93,93)" stroke="none" stroke-width="0" />
<rect x="453.69" y="266.00" width="1.42" height="15.60" fill="rgb(30,30,30)" stroke="none" stroke-width="0" />
<rect x="455.08" y="266.00" width="1.37" height="15.60" fill="rgb(130,130,130)" stroke="none" stroke-width="0" />
<rect x="457.69" y="266.00" width="0.65" height="15.60" fill="rgb(115,115,115)" stroke="none" stroke-width="0" />
<rect x="458.32" y="266.00" width="1.25" height="15.60" fill="rgb(42,42,42)" stroke="none" stroke-width="0" />
<rect x="459.55" y="266.00" width="0.91" height="15.60" fill="rgb(111,111,111)" stroke="none" stroke-width="0" />
<rect x="460.44" y="266.00" width="1.31" height="15.60" fill="rgb(113,113,113)" stroke="none" stroke-width="0" />
<rect x="463.01" y="266.00" width="0.63" height="15.60" fill="rgb(98,98,98)" stroke="none" stroke-width="0" />
<rect x="464.47" y="266.00" width="0.89" height="15.60" fill="rgb(84,84,84)" stroke="none" stroke-width="0" />
<rect x="465.34" y="266.00" width="0.98" height="15.60" fill="rgb(39,39,39)" stroke="none" stroke-width="0" />
<rect x="467.06" y="266.00" width="0.70" height="15.60" fill="rgb(44,44,44)" stroke="none" stroke-width="0" />
<rect x="467.74" y="266.00" width="1.26" height="15.60" fill="rgb(80,80,80)" stroke="none" stroke-width="0" />
<rect x="468.98" y="266.00" width="1.13" height="15.60" fill="rgb(32,32,32)" stroke="none" stroke-width="0" />
<rect x="470.09" y="266.00" width="0.68" height="15.60" fill="rgb(34,34,34)" stroke="none" stroke-width="0" />
<rect x="470.76" y="266.00" width="0.82" height="15.60" fill="rgb(86,86,86)" stroke="none" stroke-width="0" />
<rect x="471.56" y="266.00" width="0.63" height="15.60" fill="rgb(37,37,37)" stroke="none" stroke-width="0" />
<rect x="472.16" y="266.00" width="0.85" height="15.60" fill="rgb(19,19,19)" stroke="none" stroke-width="0" />
<rect x="472.99" y="266.00" width="0.65" height="15.60" fill="rgb(102,102,102)" stroke="none" stroke-width="0" />
<rect x="473.62" y="266.00" width="0.90" height="15.60" fill="rgb(101,101,101)" stroke="none" stroke-width="0" />
<rect x="474.50" y="266.00" width="1.14" height="15.60" fill="rgb(31,31,31)" stroke="none" stroke-width="0" />
<rect x="476.86" y="266.00" width="0.81" height="15.60" fill="rgb(51,51,51)" stroke="none" stroke-width="0" />
<rect x="477.65" y="266.00" width="1.25" height="15.60" fill="rgb(91,91,91)" stroke="none" stroke-width="0" />
<rect x="478.89" y="266.00" width="0.68" height="15.60" fill="rgb(15,15,15)" stroke="none" stroke-width="0" />
<rect x="479.55" y="266.00" width="0.78" height="15.60" fill="rgb(42,42,42)" stroke="none" stroke-width="0" />
<rect x="480.31" y="266.00" width="1.27" height="15.60" fill="rgb(75,75,75)" stroke="none" stroke-width="0" />
<rect x="481.56" y="266.00" width="1.35" height="15.60" fill="rgb(65,65,65)" stroke="none" stroke-width="0" />
<rect x="482.88" y="266.00" width="1.15" height="15.60" fill="rgb(128,128,128)" stroke="none" stroke-width="0" />
<rect x="484.02" y="266.00" width="0.98" height="15.60" fill="rgb(50,50,50)" stroke="none" stroke-width="0" />
<rect x="486.19" y="266.00" width="0.79" height="15.60" fill="rgb(58,58,58)" stroke="none" stroke-width="0" />
<rect x="486.96" y="266.00" width="0.93" height="15.60" fill="rgb(59,59,59)" stroke="none" stroke-width="0" />
<rect x="487.87" y="266.00" width="0.96" height="15.60" fill="rgb(50,50,50)" stroke="none" stroke-width="0" />
<rect x="488.81" y="266.00" width="0.73" height="15.60" fill="rgb(139,139,139)" stroke="none" stroke-width="0" />
<rect x="489.52" y="266.00" width="1.35" height="15.60" fill="rgb(50,50,50)" stroke="none" stroke-width="0" />
<rect x="490.85" y="266.00" width="1.32" height="15.60" fill="rgb(138,138,138)" stroke="none" stroke-width="0" />
<rect x="493.18" y="266.00" width="1.09" height="15.60" fill="rgb(194,194,194)" stroke="none" stroke-width="0" />
<rect x="494.25" y="266.00" width="1.01" height="15.60" fill="rgb(119,119,119)" stroke="none" stroke-width="0" />
<rect x="495.24" y="266.00" width="1.05" height="15.60" fill="rgb(116,116,116)" stroke="none" stroke-width="0" />
<rect x="496.27" y="266.00" width="0.99" height="15.60" fill="rgb(110,110,110)" stroke="none" stroke-width="0" />
<rect x="498.04" y="266.00" width="1.31" height="15.60" fill="rgb(175,175,175)" stroke="none" stroke-width="0" />
<rect x="499.33" y="266.00" width="1.36" height="15.60" fill="rgb(173,173,173)" stroke="none" stroke-width="0" />
<rect x="500.67" y="266.00" width="0.78" height="15.60" fill="rgb(175,175,175)" stroke="none" stroke-width="0" />
<rect x="501.43" y="266.00" width="0.82" height="15.60" fill="rgb(210,210,210)" stroke="none" stroke-width="0" />
<rect x="503.57" y="266.00" width="0.72" height="15.60" fill="rgb(149,149,149)" stroke="none" stroke-width="0" />
<rect x="505.30" y="266.00" width="1.28" height="15.60" fill="rgb(183,183,183)" stroke="none" stroke-width="0" />
<rect x="507.82" y="266.00" width="1.14" height="15.60" fill="rgb(146,146,146)" stroke="none" stroke-width="0" />
<rect x="508.94" y="266.00" width="0.71" height="15.60" fill="rgb(214,214,214)" stroke="none" stroke-width="0" />
<rect x="509.64" y="266.00" width="0.64" height="15.60" fill="rgb(121,121,121)" stroke="none" stroke-width="0" />
<rect x="511.20" y="266.00" width="1.34" height="15.60" fill="rgb(171,171,171)" stroke="none" stroke-width="0" />
<rect x="410.80" y="281.60" width="102.40" height="4.70" fill="url(#rb)" stroke="none" stroke-width="0" />
<text x="409.10" y="291.49" font-size="3.3" font-weight="bold" font-style="normal" text-anchor="middle" fill="#222" >0.0</text>
<text x="512.70" y="291.52" font-size="3.4" font-weight="bold" font-style="normal" text-anchor="middle" fill="#222" >22,000</text>
<text x="460.75" y="291.88" font-size="4.4" font-weight="bold" font-style="normal" text-anchor="middle" fill="#111" >Rank in ordered dataset</text>
<text x="199.00" y="304.37" font-size="5.2" font-weight="bold" font-style="normal" text-anchor="middle" fill="#111" >Cell-Cell adhesion (GO)</text>
<text transform="translate(135.00,332.30) rotate(-90)" font-size="4.3" font-weight="bold" text-anchor="middle" fill="#222">Enrichment score (ES)</text>
<rect x="147.50" y="306.90" width="106.80" height="70.00" fill="none" stroke="#9a9a9a" stroke-width="0.6" />
<line x1="147.50" y1="306.90" x2="254.30" y2="306.90" stroke="#666" stroke-width="0.7" />
<line x1="147.50" y1="306.90" x2="147.50" y2="376.90" stroke="#3a3a3a" stroke-width="0.95" />
<line x1="147.50" y1="350.40" x2="252.00" y2="350.40" stroke="#c4c4c4" stroke-width="0.5" />
<text x="142.30" y="312.49" font-size="3.3" font-weight="bold" font-style="normal" text-anchor="middle" fill="#222" >0.20</text>
<text x="142.30" y="351.69" font-size="3.3" font-weight="bold" font-style="normal" text-anchor="middle" fill="#222" >0.0</text>
<text x="142.30" y="356.19" font-size="3.3" font-weight="bold" font-style="normal" text-anchor="middle" fill="#222" >-0.05</text>
<path d="M147.80,341.11 L147.87,340.76 L147.95,340.48 L148.05,339.94 L148.16,339.40 L148.28,338.97 L148.40,338.58 L148.54,337.96 L148.69,337.37 L148.84,336.62 L149.00,336.21 L149.17,335.63 L149.35,335.09 L149.54,334.57 L149.74,334.10 L149.95,333.86 L150.16,333.33 L150.37,332.83 L150.59,332.35 L150.80,331.66 L151.00,331.23 L151.20,330.88 L151.40,330.46 L151.60,330.05 L151.80,329.61 L152.00,328.89 L152.20,328.64 L152.40,328.24 L152.60,327.78 L152.80,327.27 L153.00,326.99 L153.20,326.49 L153.40,326.42 L153.60,326.05 L153.80,325.59 L154.00,325.18 L154.20,325.08 L154.40,324.67 L154.60,324.51 L154.80,324.25 L155.00,323.90 L155.20,323.68 L155.40,323.59 L155.60,323.41 L155.80,323.21 L156.00,323.18 L156.20,323.28 L156.40,322.93 L156.60,322.85 L156.80,322.96 L157.00,322.72 L157.20,322.69 L157.40,322.55 L157.60,322.39 L157.80,322.50 L158.00,322.10 L158.20,322.04 L158.40,321.83 L158.60,321.82 L158.80,321.52 L159.00,321.35 L159.20,321.26 L159.40,320.86 L159.60,320.66 L159.80,320.49 L160.00,319.91 L160.20,319.59 L160.40,319.35 L160.60,319.24 L160.80,318.90 L161.00,318.51 L161.20,318.29 L161.40,318.00 L161.60,317.87 L161.80,317.50 L162.00,317.51 L162.20,317.36 L162.40,317.17 L162.60,316.89 L162.80,316.76 L163.00,316.23 L163.20,316.13 L163.40,316.18 L163.60,315.93 L163.80,315.63 L164.00,315.64 L164.20,315.36 L164.40,315.25 L164.60,314.89 L164.80,314.68 L165.00,314.58 L165.20,314.28 L165.40,314.17 L165.60,314.18 L165.80,313.76 L166.00,313.45 L166.20,313.26 L166.40,313.11 L166.60,313.12 L166.80,312.76 L167.00,312.53 L167.20,312.24 L167.40,312.32 L167.60,311.89 L167.80,311.57 L168.00,311.28 L168.20,311.05 L168.40,310.86 L168.60,310.83 L168.80,310.45 L169.00,310.24 L169.20,310.24 L169.40,310.02 L169.60,310.15 L169.80,309.73 L170.00,309.77 L170.20,309.77 L170.40,309.56 L170.60,309.69 L170.80,309.45 L171.00,309.31 L171.20,309.33 L171.40,309.16 L171.60,309.28 L171.80,309.21 L172.00,309.43 L172.20,309.42 L172.40,309.32 L172.60,309.18 L172.80,309.28 L173.00,309.31 L173.20,309.34 L173.40,309.40 L173.60,309.69 L173.80,309.50 L174.00,309.55 L174.20,309.94 L174.40,309.89 L174.60,310.12 L174.80,309.99 L175.00,310.24 L175.20,310.23 L175.40,310.36 L175.60,310.43 L175.80,310.43 L176.00,310.38 L176.20,310.50 L176.40,310.80 L176.60,310.87 L176.80,310.92 L177.00,310.74 L177.20,310.86 L177.41,310.90 L177.62,310.82 L177.82,310.85 L178.03,310.70 L178.24,310.70 L178.44,310.65 L178.63,310.44 L178.82,310.61 L179.00,310.56 L179.17,310.18 L179.33,310.41 L179.49,310.31 L179.64,310.11 L179.78,309.78 L179.92,309.99 L180.07,309.63 L180.21,309.85 L180.35,309.69 L180.50,309.45 L180.64,309.48 L180.78,309.65 L180.90,309.65 L181.03,309.75 L181.16,309.86 L181.29,309.67 L181.44,309.67 L181.60,310.07 L181.79,309.84 L182.00,310.23 L182.24,310.07 L182.50,310.43 L182.79,310.55 L183.09,310.73 L183.41,310.76 L183.73,311.03 L184.05,310.95 L184.38,311.27 L184.69,311.30 L185.00,311.64 L185.30,311.73 L185.60,311.76 L185.90,311.91 L186.20,311.86 L186.50,311.99 L186.80,312.32 L187.10,312.42 L187.40,312.70 L187.70,312.77 L188.00,312.77 L188.30,313.03 L188.60,313.37 L188.90,313.49 L189.20,313.52 L189.50,314.02 L189.80,314.24 L190.10,314.20 L190.40,314.58 L190.70,314.75 L191.00,315.10 L191.30,315.14 L191.60,315.30 L191.90,315.58 L192.20,315.93 L192.50,315.81 L192.80,316.02 L193.10,316.40 L193.40,316.72 L193.70,316.83 L194.00,317.08 L194.30,317.52 L194.58,317.79 L194.87,317.86 L195.15,318.47 L195.44,318.57 L195.73,318.97 L196.03,319.54 L196.34,319.80 L196.66,320.36 L197.00,320.58 L197.36,321.32 L197.75,321.60 L198.16,322.15 L198.58,322.86 L199.00,323.40 L199.42,324.07 L199.84,324.79 L200.25,325.30 L200.64,325.61 L201.00,326.23 L201.34,326.80 L201.65,327.24 L201.94,327.76 L202.22,328.11 L202.50,328.39 L202.78,328.86 L203.06,329.48 L203.35,329.72 L203.66,330.27 L204.00,330.77 L204.36,331.07 L204.74,331.51 L205.13,331.90 L205.53,332.22 L205.94,332.84 L206.35,333.11 L206.77,333.68 L207.18,333.89 L207.60,334.51 L208.00,334.90 L208.40,335.27 L208.80,335.65 L209.20,335.98 L209.60,336.65 L210.00,336.95 L210.40,337.49 L210.80,337.74 L211.20,338.14 L211.60,338.58 L212.00,339.21 L212.40,339.38 L212.80,340.03 L213.20,340.23 L213.60,340.68 L214.00,340.98 L214.40,341.43 L214.80,341.59 L215.20,342.01 L215.60,342.49 L216.00,342.49 L216.40,342.88 L216.80,342.95 L217.20,343.10 L217.60,343.14 L218.00,343.26 L218.40,343.70 L218.80,343.76 L219.20,343.86 L219.60,343.98 L220.00,344.16 L220.40,344.02 L220.80,344.30 L221.20,344.39 L221.60,344.55 L222.00,344.80 L222.40,344.87 L222.80,345.09 L223.20,344.93 L223.60,345.28 L224.00,345.46 L224.40,345.68 L224.80,345.84 L225.20,346.14 L225.60,346.19 L226.00,346.65 L226.40,346.71 L226.80,347.01 L227.20,347.34 L227.60,347.48 L228.00,347.53 L228.40,347.67 L228.80,347.86 L229.20,348.10 L229.60,348.36 L230.00,348.45 L230.40,348.39 L230.80,348.52 L231.20,348.80 L231.60,348.76 L232.00,348.97 L232.40,349.01 L232.82,349.27 L233.23,349.61 L233.65,349.88 L234.06,350.07 L234.47,350.21 L234.87,350.64 L235.26,350.74 L235.64,350.78 L236.00,350.95 L236.34,351.46 L236.66,351.66 L236.97,351.83 L237.27,351.91 L237.56,351.99 L237.85,352.09 L238.13,352.31 L238.42,352.45 L238.70,352.83 L239.00,352.94 L239.30,352.99 L239.58,352.85 L239.87,352.94 L240.15,353.00 L240.44,353.26 L240.73,353.01 L241.03,353.25 L241.34,353.23 L241.66,353.20 L242.00,353.36 L242.37,353.14 L242.76,353.25 L243.17,353.13 L243.60,353.12 L244.03,353.10 L244.46,353.21 L244.88,353.13 L245.28,353.10 L245.66,353.40 L246.00,353.13 L246.32,353.30 L246.61,353.19 L246.89,353.14 L247.16,353.06 L247.41,353.10 L247.64,353.00 L247.87,352.86 L248.09,352.72 L248.30,352.67 L248.50,352.58 L248.70,352.40 L248.89,352.24 L249.07,351.97 L249.24,352.04 L249.41,351.75 L249.56,351.44 L249.69,351.32 L249.81,351.43 L249.92,351.10 L250.00,351.10" fill="none" stroke="#5ea444" stroke-width="1.05" stroke-linejoin="round"/>
<text x="220.80" y="314.85" font-size="4.3" font-weight="bold" font-style="normal" text-anchor="start" fill="#111" >NES = 1.82</text>
<text x="220.80" y="319.95" font-size="4.3" font-weight="bold" font-style="normal" text-anchor="start" fill="#111" ><tspan font-style="italic">P</tspan> &lt; 0.01</text>
<text x="220.80" y="325.15" font-size="4.3" font-weight="bold" font-style="normal" text-anchor="start" fill="#111" >FDR = 0.05</text>
<rect x="148.10" y="356.30" width="0.95" height="15.00" fill="rgb(74,74,74)" stroke="none" stroke-width="0" />
<rect x="149.03" y="356.30" width="0.76" height="15.00" fill="rgb(0,0,0)" stroke="none" stroke-width="0" />
<rect x="150.46" y="356.30" width="0.75" height="15.00" fill="rgb(88,88,88)" stroke="none" stroke-width="0" />
<rect x="151.19" y="356.30" width="1.17" height="15.00" fill="rgb(24,24,24)" stroke="none" stroke-width="0" />
<rect x="152.34" y="356.30" width="1.17" height="15.00" fill="rgb(0,0,0)" stroke="none" stroke-width="0" />
<rect x="153.49" y="356.30" width="1.29" height="15.00" fill="rgb(0,0,0)" stroke="none" stroke-width="0" />
<rect x="155.42" y="356.30" width="1.39" height="15.00" fill="rgb(48,48,48)" stroke="none" stroke-width="0" />
<rect x="158.17" y="356.30" width="0.93" height="15.00" fill="rgb(80,80,80)" stroke="none" stroke-width="0" />
<rect x="159.08" y="356.30" width="0.77" height="15.00" fill="rgb(7,7,7)" stroke="none" stroke-width="0" />
<rect x="159.83" y="356.30" width="0.66" height="15.00" fill="rgb(69,69,69)" stroke="none" stroke-width="0" />
<rect x="161.41" y="356.30" width="1.19" height="15.00" fill="rgb(51,51,51)" stroke="none" stroke-width="0" />
<rect x="162.59" y="356.30" width="0.88" height="15.00" fill="rgb(49,49,49)" stroke="none" stroke-width="0" />
<rect x="163.45" y="356.30" width="1.09" height="15.00" fill="rgb(5,5,5)" stroke="none" stroke-width="0" />
<rect x="164.52" y="356.30" width="0.98" height="15.00" fill="rgb(55,55,55)" stroke="none" stroke-width="0" />
<rect x="165.49" y="356.30" width="0.90" height="15.00" fill="rgb(72,72,72)" stroke="none" stroke-width="0" />
<rect x="166.36" y="356.30" width="0.65" height="15.00" fill="rgb(4,4,4)" stroke="none" stroke-width="0" />
<rect x="167.00" y="356.30" width="0.63" height="15.00" fill="rgb(51,51,51)" stroke="none" stroke-width="0" />
<rect x="167.61" y="356.30" width="1.05" height="15.00" fill="rgb(19,19,19)" stroke="none" stroke-width="0" />
<rect x="169.40" y="356.30" width="0.89" height="15.00" fill="rgb(46,46,46)" stroke="none" stroke-width="0" />
<rect x="170.27" y="356.30" width="0.67" height="15.00" fill="rgb(0,0,0)" stroke="none" stroke-width="0" />
<rect x="172.02" y="356.30" width="0.76" height="15.00" fill="rgb(71,71,71)" stroke="none" stroke-width="0" />
<rect x="172.76" y="356.30" width="1.12" height="15.00" fill="rgb(50,50,50)" stroke="none" stroke-width="0" />
<rect x="174.68" y="356.30" width="0.84" height="15.00" fill="rgb(48,48,48)" stroke="none" stroke-width="0" />
<rect x="175.50" y="356.30" width="0.77" height="15.00" fill="rgb(71,71,71)" stroke="none" stroke-width="0" />
<rect x="176.25" y="356.30" width="0.84" height="15.00" fill="rgb(8,8,8)" stroke="none" stroke-width="0" />
<rect x="177.07" y="356.30" width="0.67" height="15.00" fill="rgb(75,75,75)" stroke="none" stroke-width="0" />
<rect x="177.73" y="356.30" width="1.10" height="15.00" fill="rgb(33,33,33)" stroke="none" stroke-width="0" />
<rect x="178.81" y="356.30" width="0.85" height="15.00" fill="rgb(24,24,24)" stroke="none" stroke-width="0" />
<rect x="179.63" y="356.30" width="1.06" height="15.00" fill="rgb(0,0,0)" stroke="none" stroke-width="0" />
<rect x="180.67" y="356.30" width="0.82" height="15.00" fill="rgb(52,52,52)" stroke="none" stroke-width="0" />
<rect x="181.47" y="356.30" width="0.68" height="15.00" fill="rgb(51,51,51)" stroke="none" stroke-width="0" />
<rect x="183.46" y="356.30" width="1.34" height="15.00" fill="rgb(10,10,10)" stroke="none" stroke-width="0" />
<rect x="184.78" y="356.30" width="1.05" height="15.00" fill="rgb(6,6,6)" stroke="none" stroke-width="0" />
<rect x="185.81" y="356.30" width="1.18" height="15.00" fill="rgb(0,0,0)" stroke="none" stroke-width="0" />
<rect x="186.97" y="356.30" width="0.84" height="15.00" fill="rgb(0,0,0)" stroke="none" stroke-width="0" />
<rect x="187.79" y="356.30" width="1.38" height="15.00" fill="rgb(5,5,5)" stroke="none" stroke-width="0" />
<rect x="189.14" y="356.30" width="1.10" height="15.00" fill="rgb(15,15,15)" stroke="none" stroke-width="0" />
<rect x="190.22" y="356.30" width="0.88" height="15.00" fill="rgb(80,80,80)" stroke="none" stroke-width="0" />
<rect x="191.08" y="356.30" width="0.68" height="15.00" fill="rgb(83,83,83)" stroke="none" stroke-width="0" />
<rect x="191.74" y="356.30" width="1.17" height="15.00" fill="rgb(22,22,22)" stroke="none" stroke-width="0" />
<rect x="192.89" y="356.30" width="1.39" height="15.00" fill="rgb(55,55,55)" stroke="none" stroke-width="0" />
<rect x="194.26" y="356.30" width="0.98" height="15.00" fill="rgb(56,56,56)" stroke="none" stroke-width="0" />
<rect x="196.41" y="356.30" width="0.87" height="15.00" fill="rgb(3,3,3)" stroke="none" stroke-width="0" />
<rect x="197.26" y="356.30" width="0.72" height="15.00" fill="rgb(0,0,0)" stroke="none" stroke-width="0" />
<rect x="197.96" y="356.30" width="0.72" height="15.00" fill="rgb(35,35,35)" stroke="none" stroke-width="0" />
<rect x="198.66" y="356.30" width="1.13" height="15.00" fill="rgb(39,39,39)" stroke="none" stroke-width="0" />
<rect x="199.77" y="356.30" width="1.36" height="15.00" fill="rgb(99,99,99)" stroke="none" stroke-width="0" />
<rect x="201.10" y="356.30" width="1.17" height="15.00" fill="rgb(90,90,90)" stroke="none" stroke-width="0" />
<rect x="202.26" y="356.30" width="0.88" height="15.00" fill="rgb(114,114,114)" stroke="none" stroke-width="0" />
<rect x="203.11" y="356.30" width="0.63" height="15.00" fill="rgb(37,37,37)" stroke="none" stroke-width="0" />
<rect x="204.34" y="356.30" width="1.07" height="15.00" fill="rgb(126,126,126)" stroke="none" stroke-width="0" />
<rect x="207.47" y="356.30" width="1.28" height="15.00" fill="rgb(5,5,5)" stroke="none" stroke-width="0" />
<rect x="208.73" y="356.30" width="0.74" height="15.00" fill="rgb(19,19,19)" stroke="none" stroke-width="0" />
<rect x="209.45" y="356.30" width="1.26" height="15.00" fill="rgb(0,0,0)" stroke="none" stroke-width="0" />
<rect x="210.68" y="356.30" width="0.76" height="15.00" fill="rgb(72,72,72)" stroke="none" stroke-width="0" />
<rect x="211.43" y="356.30" width="1.00" height="15.00" fill="rgb(50,50,50)" stroke="none" stroke-width="0" />
<rect x="212.41" y="356.30" width="1.32" height="15.00" fill="rgb(16,16,16)" stroke="none" stroke-width="0" />
<rect x="213.71" y="356.30" width="0.99" height="15.00" fill="rgb(5,5,5)" stroke="none" stroke-width="0" />
<rect x="214.67" y="356.30" width="0.77" height="15.00" fill="rgb(27,27,27)" stroke="none" stroke-width="0" />
<rect x="215.43" y="356.30" width="1.13" height="15.00" fill="rgb(0,0,0)" stroke="none" stroke-width="0" />
<rect x="216.54" y="356.30" width="0.80" height="15.00" fill="rgb(0,0,0)" stroke="none" stroke-width="0" />
<rect x="217.32" y="356.30" width="0.84" height="15.00" fill="rgb(23,23,23)" stroke="none" stroke-width="0" />
<rect x="218.14" y="356.30" width="0.62" height="15.00" fill="rgb(8,8,8)" stroke="none" stroke-width="0" />
<rect x="218.74" y="356.30" width="0.76" height="15.00" fill="rgb(48,48,48)" stroke="none" stroke-width="0" />
<rect x="219.48" y="356.30" width="0.88" height="15.00" fill="rgb(71,71,71)" stroke="none" stroke-width="0" />
<rect x="220.34" y="356.30" width="0.89" height="15.00" fill="rgb(0,0,0)" stroke="none" stroke-width="0" />
<rect x="221.21" y="356.30" width="1.09" height="15.00" fill="rgb(46,46,46)" stroke="none" stroke-width="0" />
<rect x="222.29" y="356.30" width="1.23" height="15.00" fill="rgb(118,118,118)" stroke="none" stroke-width="0" />
<rect x="224.85" y="356.30" width="1.26" height="15.00" fill="rgb(148,148,148)" stroke="none" stroke-width="0" />
<rect x="226.08" y="356.30" width="0.68" height="15.00" fill="rgb(62,62,62)" stroke="none" stroke-width="0" />
<rect x="226.74" y="356.30" width="0.83" height="15.00" fill="rgb(103,103,103)" stroke="none" stroke-width="0" />
<rect x="227.55" y="356.30" width="0.91" height="15.00" fill="rgb(50,50,50)" stroke="none" stroke-width="0" />
<rect x="228.44" y="356.30" width="0.63" height="15.00" fill="rgb(106,106,106)" stroke="none" stroke-width="0" />
<rect x="229.05" y="356.30" width="1.29" height="15.00" fill="rgb(148,148,148)" stroke="none" stroke-width="0" />
<rect x="231.18" y="356.30" width="1.33" height="15.00" fill="rgb(48,48,48)" stroke="none" stroke-width="0" />
<rect x="233.10" y="356.30" width="1.20" height="15.00" fill="rgb(57,57,57)" stroke="none" stroke-width="0" />
<rect x="234.28" y="356.30" width="1.26" height="15.00" fill="rgb(114,114,114)" stroke="none" stroke-width="0" />
<rect x="235.52" y="356.30" width="1.08" height="15.00" fill="rgb(121,121,121)" stroke="none" stroke-width="0" />
<rect x="236.58" y="356.30" width="0.93" height="15.00" fill="rgb(94,94,94)" stroke="none" stroke-width="0" />
<rect x="237.49" y="356.30" width="1.16" height="15.00" fill="rgb(138,138,138)" stroke="none" stroke-width="0" />
<rect x="239.66" y="356.30" width="1.04" height="15.00" fill="rgb(52,52,52)" stroke="none" stroke-width="0" />
<rect x="240.68" y="356.30" width="0.82" height="15.00" fill="rgb(55,55,55)" stroke="none" stroke-width="0" />
<rect x="241.48" y="356.30" width="1.27" height="15.00" fill="rgb(39,39,39)" stroke="none" stroke-width="0" />
<rect x="242.73" y="356.30" width="1.03" height="15.00" fill="rgb(32,32,32)" stroke="none" stroke-width="0" />
<rect x="244.50" y="356.30" width="1.18" height="15.00" fill="rgb(31,31,31)" stroke="none" stroke-width="0" />
<rect x="246.45" y="356.30" width="1.08" height="15.00" fill="rgb(76,76,76)" stroke="none" stroke-width="0" />
<rect x="248.37" y="356.30" width="0.88" height="15.00" fill="rgb(89,89,89)" stroke="none" stroke-width="0" />
<rect x="250.30" y="356.30" width="0.65" height="15.00" fill="rgb(108,108,108)" stroke="none" stroke-width="0" />
<rect x="250.94" y="356.30" width="1.08" height="15.00" fill="rgb(63,63,63)" stroke="none" stroke-width="0" />
<rect x="148.00" y="371.30" width="104.00" height="5.00" fill="url(#rb)" stroke="none" stroke-width="0" />
<text x="146.30" y="381.19" font-size="3.3" font-weight="bold" font-style="normal" text-anchor="middle" fill="#222" >0.0</text>
<text x="251.50" y="381.22" font-size="3.4" font-weight="bold" font-style="normal" text-anchor="middle" fill="#222" >22,000</text>
<text x="198.75" y="381.58" font-size="4.4" font-weight="bold" font-style="normal" text-anchor="middle" fill="#111" >Rank in ordered dataset</text>
<text x="327.80" y="302.37" font-size="5.2" font-weight="bold" font-style="normal" text-anchor="middle" fill="#111" >Negative regulation of epithelial cell</text>
<text x="327.80" y="308.17" font-size="5.2" font-weight="bold" font-style="normal" text-anchor="middle" fill="#111" >proliferation (GO)</text>
<text transform="translate(266.90,336.40) rotate(-90)" font-size="4.3" font-weight="bold" text-anchor="middle" fill="#222">Enrichment score (ES)</text>
<rect x="279.80" y="310.30" width="103.40" height="67.80" fill="none" stroke="#9a9a9a" stroke-width="0.6" />
<line x1="279.80" y1="310.30" x2="383.20" y2="310.30" stroke="#666" stroke-width="0.7" />
<line x1="279.80" y1="310.30" x2="279.80" y2="378.10" stroke="#3a3a3a" stroke-width="0.95" />
<line x1="279.80" y1="352.00" x2="378.80" y2="352.00" stroke="#c4c4c4" stroke-width="0.5" />
<text x="274.60" y="315.79" font-size="3.3" font-weight="bold" font-style="normal" text-anchor="middle" fill="#222" >0.40</text>
<text x="274.60" y="353.19" font-size="3.3" font-weight="bold" font-style="normal" text-anchor="middle" fill="#222" >0.0</text>
<text x="274.60" y="358.69" font-size="3.3" font-weight="bold" font-style="normal" text-anchor="middle" fill="#222" >-0.05</text>
<path d="M280.00,342.84 L280.06,342.49 L280.12,341.98 L280.19,341.39 L280.28,340.61 L280.38,339.92 L280.48,338.84 L280.60,338.24 L280.72,337.71 L280.85,336.98 L281.00,336.54 L281.16,335.84 L281.34,335.59 L281.53,335.18 L281.73,335.00 L281.94,334.76 L282.15,334.33 L282.37,334.18 L282.58,333.98 L282.80,333.98 L283.00,333.69 L283.20,333.24 L283.40,333.24 L283.60,332.80 L283.80,332.76 L284.00,332.38 L284.20,332.14 L284.40,332.25 L284.60,331.81 L284.80,331.61 L285.00,331.67 L285.20,331.41 L285.40,330.99 L285.60,331.01 L285.80,330.64 L286.00,330.46 L286.20,330.07 L286.40,330.11 L286.60,329.80 L286.80,329.68 L287.00,329.44 L287.20,329.02 L287.41,328.84 L287.62,328.57 L287.82,328.36 L288.03,328.14 L288.24,328.02 L288.44,327.91 L288.63,327.49 L288.82,327.50 L289.00,327.14 L289.17,326.88 L289.33,326.81 L289.49,326.43 L289.64,326.10 L289.78,325.88 L289.92,325.68 L290.07,325.16 L290.21,325.18 L290.35,324.54 L290.50,324.49 L290.65,324.19 L290.79,323.56 L290.93,323.46 L291.08,322.94 L291.22,322.64 L291.36,322.07 L291.51,321.72 L291.67,321.42 L291.83,321.36 L292.00,320.79 L292.18,320.72 L292.37,320.54 L292.56,320.32 L292.76,319.90 L292.97,319.71 L293.18,319.57 L293.38,319.46 L293.59,319.02 L293.80,319.03 L294.00,318.80 L294.20,318.57 L294.41,318.02 L294.62,318.06 L294.82,317.48 L295.03,317.28 L295.24,317.09 L295.44,316.91 L295.63,316.41 L295.82,316.33 L296.00,315.92 L296.17,315.54 L296.33,315.24 L296.49,314.88 L296.64,314.53 L296.78,314.25 L296.92,314.14 L297.07,313.96 L297.21,313.41 L297.35,313.14 L297.50,313.27 L297.65,312.95 L297.79,312.77 L297.93,312.60 L298.08,312.63 L298.22,312.65 L298.36,312.46 L298.51,312.41 L298.67,312.26 L298.83,312.55 L299.00,312.24 L299.18,312.41 L299.37,312.58 L299.56,312.39 L299.76,312.68 L299.97,312.84 L300.18,312.83 L300.38,312.98 L300.59,312.83 L300.80,313.02 L301.00,312.98 L301.20,313.27 L301.41,313.13 L301.62,313.23 L301.82,313.47 L302.03,313.45 L302.24,313.53 L302.44,313.37 L302.63,313.40 L302.82,313.49 L303.00,313.39 L303.17,313.29 L303.33,313.27 L303.49,313.09 L303.64,313.07 L303.78,313.18 L303.92,313.08 L304.07,312.88 L304.21,312.79 L304.35,312.71 L304.50,312.66 L304.65,312.81 L304.79,313.13 L304.93,313.35 L305.08,313.38 L305.22,313.76 L305.36,313.98 L305.51,314.16 L305.67,314.33 L305.83,314.51 L306.00,314.45 L306.18,314.60 L306.37,314.43 L306.56,314.44 L306.76,314.45 L306.97,314.32 L307.18,314.07 L307.38,314.19 L307.59,313.99 L307.80,313.88 L308.00,313.63 L308.20,313.78 L308.38,313.65 L308.57,313.76 L308.75,313.67 L308.94,313.78 L309.13,313.72 L309.33,313.78 L309.54,313.65 L309.76,313.79 L310.00,313.88 L310.26,314.00 L310.54,313.93 L310.83,314.22 L311.13,314.37 L311.44,314.45 L311.75,314.71 L312.07,314.87 L312.38,314.88 L312.70,315.05 L313.00,315.08 L313.30,315.48 L313.60,315.68 L313.90,315.68 L314.20,315.93 L314.50,316.11 L314.80,316.30 L315.10,316.29 L315.40,316.69 L315.70,316.82 L316.00,317.06 L316.30,317.19 L316.60,317.49 L316.90,317.79 L317.20,317.99 L317.50,318.27 L317.80,318.28 L318.10,318.58 L318.40,318.92 L318.70,319.23 L319.00,319.30 L319.30,319.68 L319.60,319.87 L319.90,319.86 L320.20,320.21 L320.50,320.32 L320.80,320.44 L321.10,320.65 L321.40,320.90 L321.70,321.02 L322.00,321.19 L322.30,321.29 L322.60,321.58 L322.90,321.68 L323.20,321.89 L323.50,322.00 L323.80,322.00 L324.10,322.36 L324.40,322.19 L324.70,322.49 L325.00,322.62 L325.30,322.86 L325.60,322.96 L325.90,323.43 L326.20,323.49 L326.50,323.61 L326.80,324.05 L327.10,324.13 L327.40,324.55 L327.70,324.75 L328.00,325.13 L328.30,325.56 L328.60,325.82 L328.90,325.99 L329.20,326.46 L329.50,326.74 L329.80,326.99 L330.10,327.28 L330.40,327.82 L330.70,328.21 L331.00,328.76 L331.30,329.21 L331.58,329.55 L331.87,329.96 L332.15,330.67 L332.44,330.88 L332.73,331.45 L333.03,332.13 L333.34,332.67 L333.66,333.00 L334.00,333.65 L334.36,334.19 L334.74,334.46 L335.13,334.91 L335.53,335.27 L335.94,335.71 L336.35,336.37 L336.77,336.57 L337.18,337.17 L337.60,337.55 L338.00,337.83 L338.40,338.10 L338.80,338.73 L339.20,338.93 L339.60,339.26 L340.00,339.58 L340.40,340.17 L340.80,340.34 L341.20,340.62 L341.60,341.04 L342.00,341.27 L342.40,341.80 L342.80,342.11 L343.20,342.43 L343.60,342.97 L344.00,343.36 L344.40,343.44 L344.80,343.97 L345.20,344.21 L345.60,344.76 L346.00,345.00 L346.40,345.08 L346.80,345.34 L347.20,345.53 L347.60,346.05 L348.00,346.01 L348.40,346.32 L348.80,346.46 L349.20,346.70 L349.60,346.86 L350.00,347.09 L350.40,347.04 L350.80,347.43 L351.20,347.42 L351.60,347.66 L352.00,347.73 L352.40,347.85 L352.80,348.06 L353.20,348.16 L353.60,348.24 L354.00,348.49 L354.41,348.53 L354.83,348.42 L355.26,348.57 L355.70,348.71 L356.12,348.94 L356.54,348.99 L356.95,348.93 L357.33,348.80 L357.68,349.13 L358.00,349.07 L358.28,349.19 L358.51,349.29 L358.72,349.31 L358.90,349.30 L359.06,349.50 L359.22,349.37 L359.39,349.44 L359.57,349.69 L359.77,349.56 L360.00,349.73 L360.26,350.08 L360.55,349.99 L360.86,350.47 L361.18,350.64 L361.50,350.79 L361.82,350.98 L362.14,351.40 L362.45,351.69 L362.74,351.65 L363.00,351.99 L363.24,352.24 L363.46,352.47 L363.67,352.67 L363.87,352.86 L364.06,353.26 L364.25,353.58 L364.43,353.53 L364.62,353.77 L364.80,354.12 L365.00,354.20 L365.20,354.20 L365.40,353.97 L365.60,354.17 L365.80,354.19 L366.00,354.10 L366.20,353.88 L366.40,353.54 L366.60,353.70 L366.80,353.38 L367.00,353.45 L367.20,353.48 L367.38,353.32 L367.57,353.03 L367.75,352.99 L367.94,353.13 L368.13,352.78 L368.33,352.87 L368.54,352.74 L368.76,352.61 L369.00,352.74 L369.26,352.54 L369.54,352.59 L369.83,352.72 L370.13,352.67 L370.44,352.73 L370.75,352.97 L371.07,353.09 L371.38,353.19 L371.70,352.96 L372.00,353.08 L372.30,353.02 L372.62,353.09 L372.93,353.00 L373.25,353.10 L373.56,352.84 L373.87,352.66 L374.17,352.83 L374.46,352.60 L374.74,352.75 L375.00,352.70 L375.24,352.88 L375.46,352.82 L375.67,352.94 L375.87,352.92 L376.06,353.13 L376.25,353.13 L376.43,353.40 L376.62,353.38 L376.80,353.28 L377.00,353.31 L377.20,353.29 L377.42,353.31 L377.63,352.98 L377.85,353.00 L378.06,352.80 L378.27,352.41 L378.47,352.44 L378.66,352.08 L378.84,351.96 L379.00,352.03 L379.14,351.85 L379.28,352.04 L379.40,351.89 L379.52,351.84 L379.62,352.02 L379.72,351.77 L379.81,352.03 L379.88,351.82 L379.95,351.87 L380.00,352.00" fill="none" stroke="#5ea444" stroke-width="1.05" stroke-linejoin="round"/>
<text x="351.90" y="319.55" font-size="4.3" font-weight="bold" font-style="normal" text-anchor="start" fill="#111" >NES = 1.80</text>
<text x="351.90" y="324.55" font-size="4.3" font-weight="bold" font-style="normal" text-anchor="start" fill="#111" ><tspan font-style="italic">P</tspan> &lt; 0.01</text>
<text x="351.90" y="329.45" font-size="4.3" font-weight="bold" font-style="normal" text-anchor="start" fill="#111" >FDR = 0.05</text>
<rect x="280.40" y="357.50" width="0.69" height="15.00" fill="rgb(66,66,66)" stroke="none" stroke-width="0" />
<rect x="281.07" y="357.50" width="1.21" height="15.00" fill="rgb(132,132,132)" stroke="none" stroke-width="0" />
<rect x="282.26" y="357.50" width="0.86" height="15.00" fill="rgb(129,129,129)" stroke="none" stroke-width="0" />
<rect x="283.11" y="357.50" width="1.39" height="15.00" fill="rgb(109,109,109)" stroke="none" stroke-width="0" />
<rect x="284.48" y="357.50" width="0.93" height="15.00" fill="rgb(129,129,129)" stroke="none" stroke-width="0" />
<rect x="285.39" y="357.50" width="0.96" height="15.00" fill="rgb(119,119,119)" stroke="none" stroke-width="0" />
<rect x="287.44" y="357.50" width="0.80" height="15.00" fill="rgb(112,112,112)" stroke="none" stroke-width="0" />
<rect x="289.49" y="357.50" width="0.81" height="15.00" fill="rgb(132,132,132)" stroke="none" stroke-width="0" />
<rect x="290.28" y="357.50" width="0.78" height="15.00" fill="rgb(95,95,95)" stroke="none" stroke-width="0" />
<rect x="291.03" y="357.50" width="0.86" height="15.00" fill="rgb(61,61,61)" stroke="none" stroke-width="0" />
<rect x="291.88" y="357.50" width="1.37" height="15.00" fill="rgb(89,89,89)" stroke="none" stroke-width="0" />
<rect x="293.23" y="357.50" width="0.78" height="15.00" fill="rgb(142,142,142)" stroke="none" stroke-width="0" />
<rect x="293.99" y="357.50" width="0.80" height="15.00" fill="rgb(98,98,98)" stroke="none" stroke-width="0" />
<rect x="295.61" y="357.50" width="1.18" height="15.00" fill="rgb(101,101,101)" stroke="none" stroke-width="0" />
<rect x="297.85" y="357.50" width="1.27" height="15.00" fill="rgb(77,77,77)" stroke="none" stroke-width="0" />
<rect x="299.10" y="357.50" width="1.27" height="15.00" fill="rgb(82,82,82)" stroke="none" stroke-width="0" />
<rect x="301.17" y="357.50" width="0.95" height="15.00" fill="rgb(103,103,103)" stroke="none" stroke-width="0" />
<rect x="302.10" y="357.50" width="1.01" height="15.00" fill="rgb(63,63,63)" stroke="none" stroke-width="0" />
<rect x="303.09" y="357.50" width="0.80" height="15.00" fill="rgb(101,101,101)" stroke="none" stroke-width="0" />
<rect x="303.87" y="357.50" width="0.76" height="15.00" fill="rgb(157,157,157)" stroke="none" stroke-width="0" />
<rect x="304.60" y="357.50" width="1.26" height="15.00" fill="rgb(89,89,89)" stroke="none" stroke-width="0" />
<rect x="305.84" y="357.50" width="0.95" height="15.00" fill="rgb(111,111,111)" stroke="none" stroke-width="0" />
<rect x="307.89" y="357.50" width="1.19" height="15.00" fill="rgb(86,86,86)" stroke="none" stroke-width="0" />
<rect x="309.06" y="357.50" width="1.04" height="15.00" fill="rgb(94,94,94)" stroke="none" stroke-width="0" />
<rect x="311.20" y="357.50" width="1.37" height="15.00" fill="rgb(109,109,109)" stroke="none" stroke-width="0" />
<rect x="312.55" y="357.50" width="1.16" height="15.00" fill="rgb(98,98,98)" stroke="none" stroke-width="0" />
<rect x="314.82" y="357.50" width="1.41" height="15.00" fill="rgb(115,115,115)" stroke="none" stroke-width="0" />
<rect x="316.21" y="357.50" width="0.82" height="15.00" fill="rgb(120,120,120)" stroke="none" stroke-width="0" />
<rect x="317.94" y="357.50" width="0.78" height="15.00" fill="rgb(72,72,72)" stroke="none" stroke-width="0" />
<rect x="318.70" y="357.50" width="1.03" height="15.00" fill="rgb(74,74,74)" stroke="none" stroke-width="0" />
<rect x="319.71" y="357.50" width="1.27" height="15.00" fill="rgb(154,154,154)" stroke="none" stroke-width="0" />
<rect x="320.95" y="357.50" width="0.78" height="15.00" fill="rgb(89,89,89)" stroke="none" stroke-width="0" />
<rect x="321.72" y="357.50" width="0.84" height="15.00" fill="rgb(96,96,96)" stroke="none" stroke-width="0" />
<rect x="322.54" y="357.50" width="0.94" height="15.00" fill="rgb(85,85,85)" stroke="none" stroke-width="0" />
<rect x="323.45" y="357.50" width="0.66" height="15.00" fill="rgb(97,97,97)" stroke="none" stroke-width="0" />
<rect x="324.10" y="357.50" width="0.64" height="15.00" fill="rgb(129,129,129)" stroke="none" stroke-width="0" />
<rect x="324.72" y="357.50" width="1.14" height="15.00" fill="rgb(79,79,79)" stroke="none" stroke-width="0" />
<rect x="325.84" y="357.50" width="1.29" height="15.00" fill="rgb(144,144,144)" stroke="none" stroke-width="0" />
<rect x="327.11" y="357.50" width="1.42" height="15.00" fill="rgb(96,96,96)" stroke="none" stroke-width="0" />
<rect x="328.51" y="357.50" width="1.21" height="15.00" fill="rgb(105,105,105)" stroke="none" stroke-width="0" />
<rect x="329.70" y="357.50" width="0.69" height="15.00" fill="rgb(124,124,124)" stroke="none" stroke-width="0" />
<rect x="330.98" y="357.50" width="1.35" height="15.00" fill="rgb(143,143,143)" stroke="none" stroke-width="0" />
<rect x="332.31" y="357.50" width="0.73" height="15.00" fill="rgb(182,182,182)" stroke="none" stroke-width="0" />
<rect x="333.02" y="357.50" width="0.85" height="15.00" fill="rgb(224,224,224)" stroke="none" stroke-width="0" />
<rect x="333.85" y="357.50" width="1.14" height="15.00" fill="rgb(121,121,121)" stroke="none" stroke-width="0" />
<rect x="335.95" y="357.50" width="1.39" height="15.00" fill="rgb(181,181,181)" stroke="none" stroke-width="0" />
<rect x="338.46" y="357.50" width="1.28" height="15.00" fill="rgb(122,122,122)" stroke="none" stroke-width="0" />
<rect x="339.72" y="357.50" width="1.35" height="15.00" fill="rgb(223,223,223)" stroke="none" stroke-width="0" />
<rect x="341.05" y="357.50" width="0.69" height="15.00" fill="rgb(125,125,125)" stroke="none" stroke-width="0" />
<rect x="342.53" y="357.50" width="1.16" height="15.00" fill="rgb(100,100,100)" stroke="none" stroke-width="0" />
<rect x="343.67" y="357.50" width="1.26" height="15.00" fill="rgb(76,76,76)" stroke="none" stroke-width="0" />
<rect x="345.85" y="357.50" width="0.67" height="15.00" fill="rgb(130,130,130)" stroke="none" stroke-width="0" />
<rect x="347.89" y="357.50" width="0.86" height="15.00" fill="rgb(72,72,72)" stroke="none" stroke-width="0" />
<rect x="348.73" y="357.50" width="1.23" height="15.00" fill="rgb(134,134,134)" stroke="none" stroke-width="0" />
<rect x="349.95" y="357.50" width="1.12" height="15.00" fill="rgb(134,134,134)" stroke="none" stroke-width="0" />
<rect x="351.05" y="357.50" width="0.73" height="15.00" fill="rgb(120,120,120)" stroke="none" stroke-width="0" />
<rect x="351.76" y="357.50" width="1.00" height="15.00" fill="rgb(147,147,147)" stroke="none" stroke-width="0" />
<rect x="352.74" y="357.50" width="1.20" height="15.00" fill="rgb(119,119,119)" stroke="none" stroke-width="0" />
<rect x="355.26" y="357.50" width="0.66" height="15.00" fill="rgb(133,133,133)" stroke="none" stroke-width="0" />
<rect x="355.90" y="357.50" width="1.15" height="15.00" fill="rgb(69,69,69)" stroke="none" stroke-width="0" />
<rect x="357.03" y="357.50" width="1.41" height="15.00" fill="rgb(148,148,148)" stroke="none" stroke-width="0" />
<rect x="358.41" y="357.50" width="1.15" height="15.00" fill="rgb(65,65,65)" stroke="none" stroke-width="0" />
<rect x="361.58" y="357.50" width="1.04" height="15.00" fill="rgb(240,240,240)" stroke="none" stroke-width="0" />
<rect x="365.84" y="357.50" width="1.03" height="15.00" fill="rgb(86,86,86)" stroke="none" stroke-width="0" />
<rect x="366.86" y="357.50" width="0.92" height="15.00" fill="rgb(161,161,161)" stroke="none" stroke-width="0" />
<rect x="368.41" y="357.50" width="0.81" height="15.00" fill="rgb(132,132,132)" stroke="none" stroke-width="0" />
<rect x="370.59" y="357.50" width="0.67" height="15.00" fill="rgb(162,162,162)" stroke="none" stroke-width="0" />
<rect x="371.25" y="357.50" width="0.94" height="15.00" fill="rgb(107,107,107)" stroke="none" stroke-width="0" />
<rect x="373.54" y="357.50" width="1.40" height="15.00" fill="rgb(124,124,124)" stroke="none" stroke-width="0" />
<rect x="374.92" y="357.50" width="0.69" height="15.00" fill="rgb(144,144,144)" stroke="none" stroke-width="0" />
<rect x="376.70" y="357.50" width="1.29" height="15.00" fill="rgb(114,114,114)" stroke="none" stroke-width="0" />
<rect x="280.30" y="372.50" width="98.50" height="5.00" fill="url(#rb)" stroke="none" stroke-width="0" />
<text x="278.60" y="381.39" font-size="3.3" font-weight="bold" font-style="normal" text-anchor="middle" fill="#222" >0.0</text>
<text x="378.30" y="381.42" font-size="3.4" font-weight="bold" font-style="normal" text-anchor="middle" fill="#222" >22,000</text>
<text x="328.30" y="381.78" font-size="4.4" font-weight="bold" font-style="normal" text-anchor="middle" fill="#111" >Rank in ordered dataset</text>
<text x="463.20" y="307.27" font-size="5.2" font-weight="bold" font-style="normal" text-anchor="middle" fill="#111" >Cell morphogenesis and differentiation (GO)</text>
<text transform="translate(399.80,336.40) rotate(-90)" font-size="4.3" font-weight="bold" text-anchor="middle" fill="#222">Enrichment score (ES)</text>
<rect x="412.50" y="309.90" width="106.40" height="69.60" fill="none" stroke="#9a9a9a" stroke-width="0.6" />
<line x1="412.50" y1="309.90" x2="518.90" y2="309.90" stroke="#666" stroke-width="0.7" />
<line x1="412.50" y1="309.90" x2="412.50" y2="379.50" stroke="#3a3a3a" stroke-width="0.95" />
<line x1="412.50" y1="352.00" x2="514.90" y2="352.00" stroke="#c4c4c4" stroke-width="0.5" />
<text x="407.30" y="311.79" font-size="3.3" font-weight="bold" font-style="normal" text-anchor="middle" fill="#222" >0.30</text>
<text x="407.30" y="352.79" font-size="3.3" font-weight="bold" font-style="normal" text-anchor="middle" fill="#222" >0.0</text>
<text x="407.30" y="357.99" font-size="3.3" font-weight="bold" font-style="normal" text-anchor="middle" fill="#222" >-0.05</text>
<path d="M412.80,344.40 L412.87,344.12 L412.96,343.63 L413.06,343.11 L413.18,342.52 L413.31,342.22 L413.44,341.59 L413.58,341.12 L413.72,340.42 L413.86,340.01 L414.00,339.32 L414.14,339.00 L414.28,338.46 L414.43,337.83 L414.58,337.35 L414.73,336.88 L414.89,336.19 L415.04,335.81 L415.20,335.41 L415.35,334.76 L415.50,334.51 L415.65,334.05 L415.79,333.73 L415.93,333.19 L416.08,332.75 L416.22,332.67 L416.36,332.34 L416.51,331.89 L416.67,331.44 L416.83,331.14 L417.00,330.95 L417.18,330.47 L417.37,330.33 L417.56,329.83 L417.76,329.32 L417.97,329.11 L418.18,328.64 L418.38,328.48 L418.59,328.11 L418.80,327.63 L419.00,327.35 L419.20,327.06 L419.40,326.80 L419.60,326.57 L419.80,325.96 L420.00,325.80 L420.20,325.62 L420.40,325.25 L420.60,325.08 L420.80,324.63 L421.00,324.63 L421.20,324.23 L421.40,323.82 L421.60,323.74 L421.80,323.35 L422.00,323.04 L422.20,322.87 L422.40,322.47 L422.60,322.21 L422.80,322.14 L423.00,321.77 L423.20,321.20 L423.40,321.12 L423.60,320.48 L423.80,320.22 L424.00,320.04 L424.20,319.56 L424.40,319.08 L424.60,318.74 L424.80,318.39 L425.00,317.97 L425.20,317.96 L425.40,317.31 L425.60,317.13 L425.80,316.94 L426.00,316.53 L426.20,316.45 L426.40,315.92 L426.60,315.93 L426.80,315.66 L427.00,315.36 L427.20,315.24 L427.40,314.91 L427.60,314.88 L427.80,314.72 L428.00,314.49 L428.20,314.35 L428.40,314.32 L428.60,314.10 L428.80,313.87 L429.00,313.99 L429.20,313.70 L429.40,313.66 L429.60,313.65 L429.80,313.33 L430.00,313.17 L430.20,313.11 L430.40,313.17 L430.60,313.01 L430.80,312.89 L431.00,312.88 L431.20,312.98 L431.40,312.69 L431.60,312.70 L431.80,312.82 L432.00,312.70 L432.20,312.54 L432.40,312.58 L432.60,312.56 L432.80,312.41 L433.00,312.46 L433.20,312.40 L433.40,312.53 L433.60,312.32 L433.80,312.40 L434.00,312.47 L434.20,312.42 L434.40,312.20 L434.60,312.26 L434.80,312.14 L435.00,312.16 L435.20,312.20 L435.40,312.32 L435.60,312.39 L435.80,312.18 L436.00,312.11 L436.20,312.30 L436.40,312.21 L436.60,312.24 L436.80,312.55 L437.00,312.36 L437.20,312.63 L437.40,312.57 L437.60,312.83 L437.80,312.87 L438.00,312.67 L438.20,312.79 L438.40,313.13 L438.60,313.09 L438.80,313.10 L439.00,313.30 L439.20,313.38 L439.40,313.34 L439.60,313.40 L439.80,313.34 L440.00,313.50 L440.20,313.50 L440.40,313.73 L440.60,313.80 L440.80,313.71 L441.00,313.94 L441.20,313.83 L441.40,313.91 L441.60,314.17 L441.80,314.18 L442.00,314.41 L442.20,314.39 L442.40,314.48 L442.60,314.35 L442.80,314.66 L443.00,314.45 L443.20,314.69 L443.38,314.82 L443.57,314.84 L443.75,314.86 L443.94,314.72 L444.13,314.83 L444.33,314.90 L444.54,314.71 L444.76,315.06 L445.00,315.14 L445.26,315.09 L445.54,315.35 L445.83,315.38 L446.13,315.48 L446.44,315.81 L446.75,315.77 L447.07,316.22 L447.38,316.47 L447.70,316.43 L448.00,316.85 L448.30,316.76 L448.60,317.24 L448.90,317.26 L449.20,317.73 L449.50,317.77 L449.80,318.17 L450.10,318.09 L450.40,318.33 L450.70,318.80 L451.00,318.95 L451.30,319.11 L451.60,319.11 L451.90,319.34 L452.20,319.57 L452.50,319.63 L452.80,320.13 L453.10,320.22 L453.40,320.47 L453.70,320.57 L454.00,320.65 L454.30,320.75 L454.58,321.17 L454.87,321.14 L455.15,321.48 L455.44,321.66 L455.73,321.89 L456.03,321.98 L456.34,322.26 L456.66,322.74 L457.00,322.94 L457.36,323.54 L457.75,323.91 L458.16,324.50 L458.58,325.04 L459.00,325.79 L459.42,326.34 L459.84,326.89 L460.25,327.47 L460.64,328.13 L461.00,328.74 L461.34,329.01 L461.66,329.32 L461.97,329.75 L462.27,330.08 L462.56,330.54 L462.85,330.95 L463.13,331.21 L463.42,331.43 L463.70,331.84 L464.00,332.26 L464.30,332.70 L464.60,333.11 L464.90,333.77 L465.20,334.06 L465.50,334.56 L465.80,335.04 L466.10,335.48 L466.40,335.99 L466.70,336.30 L467.00,336.86 L467.30,337.42 L467.60,337.60 L467.90,338.22 L468.20,338.60 L468.50,338.95 L468.80,339.40 L469.10,340.10 L469.40,340.32 L469.70,340.96 L470.00,341.16 L470.30,341.66 L470.60,341.93 L470.90,342.49 L471.20,342.95 L471.50,343.12 L471.80,343.60 L472.10,344.09 L472.40,344.22 L472.70,344.64 L473.00,345.08 L473.30,345.49 L473.60,345.60 L473.90,346.14 L474.20,346.31 L474.50,346.66 L474.80,347.32 L475.10,347.33 L475.40,347.95 L475.70,348.20 L476.00,348.46 L476.30,348.75 L476.60,348.97 L476.90,349.08 L477.20,349.36 L477.50,349.48 L477.80,349.91 L478.10,350.07 L478.40,350.26 L478.70,350.23 L479.00,350.53 L479.30,350.57 L479.60,350.91 L479.90,351.03 L480.20,351.24 L480.50,351.26 L480.80,351.36 L481.10,351.50 L481.40,351.36 L481.70,351.64 L482.00,351.54 L482.30,351.74 L482.60,351.73 L482.90,352.08 L483.20,351.81 L483.50,352.18 L483.80,352.24 L484.10,352.12 L484.40,352.33 L484.70,352.14 L485.00,352.27 L485.30,352.35 L485.60,352.50 L485.90,352.62 L486.20,353.06 L486.50,352.96 L486.80,353.29 L487.10,353.35 L487.40,353.46 L487.70,353.72 L488.00,353.79 L488.30,354.23 L488.60,354.19 L488.90,354.44 L489.20,354.61 L489.50,354.81 L489.80,354.93 L490.10,355.01 L490.40,355.09 L490.70,355.46 L491.00,355.29 L491.30,355.42 L491.60,355.56 L491.90,355.47 L492.20,355.57 L492.50,355.47 L492.80,355.31 L493.10,355.10 L493.40,355.19 L493.70,355.07 L494.00,355.13 L494.30,354.93 L494.60,354.89 L494.90,354.82 L495.20,354.58 L495.50,354.59 L495.80,354.48 L496.10,354.10 L496.40,354.25 L496.70,354.13 L497.00,354.02 L497.30,353.75 L497.60,353.63 L497.90,353.50 L498.20,353.50 L498.50,353.59 L498.80,353.34 L499.10,353.15 L499.40,353.20 L499.70,353.08 L500.00,353.24 L500.30,353.29 L500.60,353.37 L500.90,353.12 L501.20,353.27 L501.50,353.24 L501.80,353.58 L502.10,353.60 L502.40,353.52 L502.70,353.68 L503.00,353.51 L503.30,353.54 L503.60,353.35 L503.90,353.20 L504.20,353.30 L504.50,353.11 L504.80,352.89 L505.10,352.85 L505.40,352.65 L505.70,352.59 L506.00,352.25 L506.30,352.20 L506.60,352.13 L506.90,352.25 L507.20,352.25 L507.50,352.01 L507.80,352.10 L508.10,351.93 L508.40,352.11 L508.70,352.12 L509.00,351.86 L509.30,352.15 L509.61,352.04 L509.92,351.85 L510.22,351.93 L510.53,351.87 L510.84,352.08 L511.14,352.16 L511.43,351.90 L511.72,351.90 L512.00,352.05 L512.28,352.11 L512.57,352.04 L512.87,351.91 L513.16,351.75 L513.44,351.89 L513.70,351.80 L513.95,351.88 L514.17,351.77 L514.35,351.80 L514.50,351.70" fill="none" stroke="#5ea444" stroke-width="1.05" stroke-linejoin="round"/>
<text x="487.00" y="318.65" font-size="4.3" font-weight="bold" font-style="normal" text-anchor="start" fill="#111" >NES = 1.73</text>
<text x="487.00" y="323.75" font-size="4.3" font-weight="bold" font-style="normal" text-anchor="start" fill="#111" ><tspan font-style="italic">P</tspan> &lt; 0.01</text>
<text x="487.00" y="328.95" font-size="4.3" font-weight="bold" font-style="normal" text-anchor="start" fill="#111" >FDR = 0.06</text>
<rect x="413.10" y="358.60" width="0.68" height="15.60" fill="rgb(0,0,0)" stroke="none" stroke-width="0" />
<rect x="413.76" y="358.60" width="0.98" height="15.60" fill="rgb(59,59,59)" stroke="none" stroke-width="0" />
<rect x="414.71" y="358.60" width="1.07" height="15.60" fill="rgb(66,66,66)" stroke="none" stroke-width="0" />
<rect x="415.76" y="358.60" width="1.02" height="15.60" fill="rgb(0,0,0)" stroke="none" stroke-width="0" />
<rect x="416.76" y="358.60" width="1.25" height="15.60" fill="rgb(4,4,4)" stroke="none" stroke-width="0" />
<rect x="417.98" y="358.60" width="0.75" height="15.60" fill="rgb(15,15,15)" stroke="none" stroke-width="0" />
<rect x="418.72" y="358.60" width="1.02" height="15.60" fill="rgb(87,87,87)" stroke="none" stroke-width="0" />
<rect x="419.72" y="358.60" width="1.40" height="15.60" fill="rgb(91,91,91)" stroke="none" stroke-width="0" />
<rect x="421.11" y="358.60" width="1.19" height="15.60" fill="rgb(102,102,102)" stroke="none" stroke-width="0" />
<rect x="422.27" y="358.60" width="0.78" height="15.60" fill="rgb(48,48,48)" stroke="none" stroke-width="0" />
<rect x="423.04" y="358.60" width="0.87" height="15.60" fill="rgb(16,16,16)" stroke="none" stroke-width="0" />
<rect x="423.88" y="358.60" width="1.36" height="15.60" fill="rgb(91,91,91)" stroke="none" stroke-width="0" />
<rect x="425.22" y="358.60" width="1.25" height="15.60" fill="rgb(29,29,29)" stroke="none" stroke-width="0" />
<rect x="427.38" y="358.60" width="0.71" height="15.60" fill="rgb(40,40,40)" stroke="none" stroke-width="0" />
<rect x="428.07" y="358.60" width="1.14" height="15.60" fill="rgb(5,5,5)" stroke="none" stroke-width="0" />
<rect x="429.20" y="358.60" width="1.30" height="15.60" fill="rgb(47,47,47)" stroke="none" stroke-width="0" />
<rect x="430.47" y="358.60" width="0.92" height="15.60" fill="rgb(96,96,96)" stroke="none" stroke-width="0" />
<rect x="431.37" y="358.60" width="1.39" height="15.60" fill="rgb(95,95,95)" stroke="none" stroke-width="0" />
<rect x="432.74" y="358.60" width="1.27" height="15.60" fill="rgb(26,26,26)" stroke="none" stroke-width="0" />
<rect x="433.99" y="358.60" width="1.34" height="15.60" fill="rgb(45,45,45)" stroke="none" stroke-width="0" />
<rect x="435.31" y="358.60" width="0.65" height="15.60" fill="rgb(14,14,14)" stroke="none" stroke-width="0" />
<rect x="435.94" y="358.60" width="0.85" height="15.60" fill="rgb(32,32,32)" stroke="none" stroke-width="0" />
<rect x="436.77" y="358.60" width="1.27" height="15.60" fill="rgb(7,7,7)" stroke="none" stroke-width="0" />
<rect x="438.02" y="358.60" width="0.94" height="15.60" fill="rgb(11,11,11)" stroke="none" stroke-width="0" />
<rect x="438.94" y="358.60" width="1.16" height="15.60" fill="rgb(15,15,15)" stroke="none" stroke-width="0" />
<rect x="440.08" y="358.60" width="1.20" height="15.60" fill="rgb(6,6,6)" stroke="none" stroke-width="0" />
<rect x="441.26" y="358.60" width="0.70" height="15.60" fill="rgb(95,95,95)" stroke="none" stroke-width="0" />
<rect x="441.94" y="358.60" width="1.28" height="15.60" fill="rgb(2,2,2)" stroke="none" stroke-width="0" />
<rect x="444.39" y="358.60" width="1.24" height="15.60" fill="rgb(101,101,101)" stroke="none" stroke-width="0" />
<rect x="445.62" y="358.60" width="1.00" height="15.60" fill="rgb(5,5,5)" stroke="none" stroke-width="0" />
<rect x="446.60" y="358.60" width="0.83" height="15.60" fill="rgb(24,24,24)" stroke="none" stroke-width="0" />
<rect x="447.41" y="358.60" width="0.68" height="15.60" fill="rgb(13,13,13)" stroke="none" stroke-width="0" />
<rect x="448.08" y="358.60" width="0.75" height="15.60" fill="rgb(10,10,10)" stroke="none" stroke-width="0" />
<rect x="449.61" y="358.60" width="0.63" height="15.60" fill="rgb(38,38,38)" stroke="none" stroke-width="0" />
<rect x="450.22" y="358.60" width="1.36" height="15.60" fill="rgb(55,55,55)" stroke="none" stroke-width="0" />
<rect x="451.56" y="358.60" width="0.75" height="15.60" fill="rgb(24,24,24)" stroke="none" stroke-width="0" />
<rect x="452.29" y="358.60" width="1.04" height="15.60" fill="rgb(40,40,40)" stroke="none" stroke-width="0" />
<rect x="453.30" y="358.60" width="0.80" height="15.60" fill="rgb(6,6,6)" stroke="none" stroke-width="0" />
<rect x="454.09" y="358.60" width="0.89" height="15.60" fill="rgb(25,25,25)" stroke="none" stroke-width="0" />
<rect x="455.57" y="358.60" width="1.20" height="15.60" fill="rgb(34,34,34)" stroke="none" stroke-width="0" />
<rect x="456.76" y="358.60" width="1.29" height="15.60" fill="rgb(16,16,16)" stroke="none" stroke-width="0" />
<rect x="458.03" y="358.60" width="0.79" height="15.60" fill="rgb(39,39,39)" stroke="none" stroke-width="0" />
<rect x="458.79" y="358.60" width="1.06" height="15.60" fill="rgb(98,98,98)" stroke="none" stroke-width="0" />
<rect x="459.84" y="358.60" width="1.11" height="15.60" fill="rgb(39,39,39)" stroke="none" stroke-width="0" />
<rect x="462.07" y="358.60" width="0.72" height="15.60" fill="rgb(26,26,26)" stroke="none" stroke-width="0" />
<rect x="462.77" y="358.60" width="1.38" height="15.60" fill="rgb(56,56,56)" stroke="none" stroke-width="0" />
<rect x="464.13" y="358.60" width="1.32" height="15.60" fill="rgb(183,183,183)" stroke="none" stroke-width="0" />
<rect x="465.43" y="358.60" width="1.19" height="15.60" fill="rgb(100,100,100)" stroke="none" stroke-width="0" />
<rect x="466.60" y="358.60" width="0.86" height="15.60" fill="rgb(127,127,127)" stroke="none" stroke-width="0" />
<rect x="472.57" y="358.60" width="1.16" height="15.60" fill="rgb(90,90,90)" stroke="none" stroke-width="0" />
<rect x="473.71" y="358.60" width="1.19" height="15.60" fill="rgb(81,81,81)" stroke="none" stroke-width="0" />
<rect x="474.88" y="358.60" width="1.05" height="15.60" fill="rgb(58,58,58)" stroke="none" stroke-width="0" />
<rect x="475.91" y="358.60" width="1.34" height="15.60" fill="rgb(89,89,89)" stroke="none" stroke-width="0" />
<rect x="477.23" y="358.60" width="0.65" height="15.60" fill="rgb(14,14,14)" stroke="none" stroke-width="0" />
<rect x="477.85" y="358.60" width="0.94" height="15.60" fill="rgb(89,89,89)" stroke="none" stroke-width="0" />
<rect x="478.78" y="358.60" width="1.16" height="15.60" fill="rgb(8,8,8)" stroke="none" stroke-width="0" />
<rect x="479.92" y="358.60" width="1.00" height="15.60" fill="rgb(95,95,95)" stroke="none" stroke-width="0" />
<rect x="480.90" y="358.60" width="0.88" height="15.60" fill="rgb(31,31,31)" stroke="none" stroke-width="0" />
<rect x="481.75" y="358.60" width="1.38" height="15.60" fill="rgb(4,4,4)" stroke="none" stroke-width="0" />
<rect x="483.11" y="358.60" width="1.11" height="15.60" fill="rgb(67,67,67)" stroke="none" stroke-width="0" />
<rect x="484.20" y="358.60" width="1.02" height="15.60" fill="rgb(99,99,99)" stroke="none" stroke-width="0" />
<rect x="485.20" y="358.60" width="0.64" height="15.60" fill="rgb(62,62,62)" stroke="none" stroke-width="0" />
<rect x="485.82" y="358.60" width="1.12" height="15.60" fill="rgb(30,30,30)" stroke="none" stroke-width="0" />
<rect x="486.91" y="358.60" width="0.76" height="15.60" fill="rgb(43,43,43)" stroke="none" stroke-width="0" />
<rect x="487.66" y="358.60" width="0.79" height="15.60" fill="rgb(86,86,86)" stroke="none" stroke-width="0" />
<rect x="488.42" y="358.60" width="1.32" height="15.60" fill="rgb(108,108,108)" stroke="none" stroke-width="0" />
<rect x="489.72" y="358.60" width="0.95" height="15.60" fill="rgb(105,105,105)" stroke="none" stroke-width="0" />
<rect x="490.65" y="358.60" width="1.10" height="15.60" fill="rgb(68,68,68)" stroke="none" stroke-width="0" />
<rect x="491.73" y="358.60" width="1.18" height="15.60" fill="rgb(109,109,109)" stroke="none" stroke-width="0" />
<rect x="492.89" y="358.60" width="1.20" height="15.60" fill="rgb(94,94,94)" stroke="none" stroke-width="0" />
<rect x="494.82" y="358.60" width="0.82" height="15.60" fill="rgb(104,104,104)" stroke="none" stroke-width="0" />
<rect x="495.63" y="358.60" width="0.81" height="15.60" fill="rgb(0,0,0)" stroke="none" stroke-width="0" />
<rect x="496.42" y="358.60" width="0.90" height="15.60" fill="rgb(70,70,70)" stroke="none" stroke-width="0" />
<rect x="497.30" y="358.60" width="1.12" height="15.60" fill="rgb(13,13,13)" stroke="none" stroke-width="0" />
<rect x="498.40" y="358.60" width="0.85" height="15.60" fill="rgb(70,70,70)" stroke="none" stroke-width="0" />
<rect x="499.22" y="358.60" width="0.97" height="15.60" fill="rgb(0,0,0)" stroke="none" stroke-width="0" />
<rect x="500.18" y="358.60" width="0.79" height="15.60" fill="rgb(76,76,76)" stroke="none" stroke-width="0" />
<rect x="500.95" y="358.60" width="1.25" height="15.60" fill="rgb(58,58,58)" stroke="none" stroke-width="0" />
<rect x="502.17" y="358.60" width="0.81" height="15.60" fill="rgb(97,97,97)" stroke="none" stroke-width="0" />
<rect x="503.70" y="358.60" width="0.88" height="15.60" fill="rgb(3,3,3)" stroke="none" stroke-width="0" />
<rect x="504.56" y="358.60" width="0.70" height="15.60" fill="rgb(44,44,44)" stroke="none" stroke-width="0" />
<rect x="506.52" y="358.60" width="1.37" height="15.60" fill="rgb(161,161,161)" stroke="none" stroke-width="0" />
<rect x="509.02" y="358.60" width="0.76" height="15.60" fill="rgb(82,82,82)" stroke="none" stroke-width="0" />
<rect x="509.76" y="358.60" width="0.87" height="15.60" fill="rgb(88,88,88)" stroke="none" stroke-width="0" />
<rect x="511.98" y="358.60" width="0.69" height="15.60" fill="rgb(103,103,103)" stroke="none" stroke-width="0" />
<rect x="512.66" y="358.60" width="1.24" height="15.60" fill="rgb(142,142,142)" stroke="none" stroke-width="0" />
<rect x="413.00" y="374.20" width="101.90" height="4.70" fill="url(#rb)" stroke="none" stroke-width="0" />
<text x="411.30" y="384.99" font-size="3.3" font-weight="bold" font-style="normal" text-anchor="middle" fill="#222" >0.0</text>
<text x="514.40" y="385.02" font-size="3.4" font-weight="bold" font-style="normal" text-anchor="middle" fill="#222" >22,000</text>
<text x="462.70" y="385.38" font-size="4.4" font-weight="bold" font-style="normal" text-anchor="middle" fill="#111" >Rank in ordered dataset</text>
</svg>
<div class="lc" style="top:23.70px">Developmental Disorder, Embryonic<br>Disorder, Organismal Disorder</div><div class="lc" style="top:39.17px">Cell Signaling, Inflammatory Response,<br>Cellular Movement</div><div class="lc" style="top:54.64px">Cellular Compromise, Cellular Function<br>and maintenance, Hematopoiesis</div><div class="lc" style="top:70.11px">Cell Morphology, Cellular Function and<br>maintenance, Cellular Development</div><div class="lc" style="top:85.58px">Nucleic Acid Metabolism, Small Molecule<br>Biochemistry, Cellular Assembly and...</div><div class="lc" style="top:101.05px">Cancer, Neurological Disease, Organismal<br>Injury and Abnormalities</div><div class="lc" style="top:116.52px">Cell Signaling, Molecular Transport,<br>Vitamin Mineral Metabolism</div><div class="lc" style="top:131.99px">Cell Death and Survival, GI Disease,<br>Hepatic Disease</div><div class="lc" style="top:147.46px">Cell Death and Survival, Cell Morphology,<br>Nervous System Dysfunction</div><div class="lc" style="top:162.93px">Cancer, Organismal Injury and<br>Abnormalities, Cellular Development</div><div class="ld" style="top:19.90px">Smooth Muscle<br>Contraction</div><div class="ld" style="top:39.50px">Vasoconstriction</div><div class="ld" style="top:55.50px">Microtubule Anchoring</div><div class="ld" style="top:71.00px">Axonal Fasciculation</div><div class="ld" style="top:84.10px">Heterotypic Cell–Cell<br>Adhesion</div><div class="ld" style="top:99.60px">Regulation of Cell<br>Junction Assembly</div><div class="ld" style="top:119.80px">Organ Growth</div><div class="ld" style="top:132.50px">Digestive Tract<br>Morphogenesis</div><div class="ld" style="top:151.90px">Definitive Hemopoiesis</div><div class="ld" style="top:164.80px">Urogenital System<br>Development</div>
</div></body></html>
